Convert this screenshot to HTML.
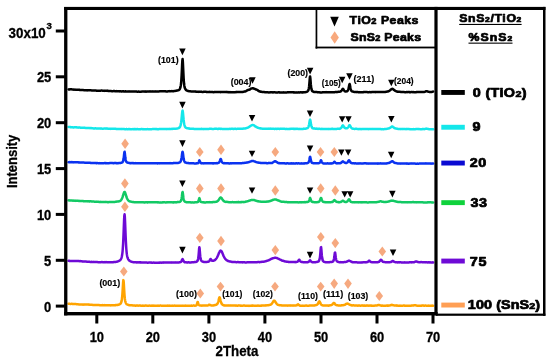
<!DOCTYPE html>
<html lang="en"><head><meta charset="utf-8"><title>XRD patterns SnS2/TiO2</title>
<style>html,body{margin:0;padding:0;background:#fff}svg{display:block}text{font-family:"Liberation Sans",Arial,sans-serif;font-weight:bold;fill:#000}.hv{stroke:#000;stroke-width:0.7px;stroke-linejoin:round}.tk{stroke:#000;stroke-width:0.3px}</style></head><body>
<svg width="550" height="362" viewBox="0 0 550 362" role="img" aria-label="XRD patterns">
<rect width="550" height="362" fill="#fff"/>
<g id="curves">
<path d="M68.60 89.40 L68.85 89.36 L69.10 89.40 L69.35 89.36 L69.60 89.39 L69.85 89.39 L70.10 89.35 L70.35 89.38 L70.60 89.34 L70.85 89.37 L71.10 89.34 L71.35 89.32 L71.60 89.35 L71.85 89.44 L72.10 89.41 L72.35 89.41 L72.60 89.46 L72.85 89.56 L73.10 89.59 L73.35 89.59 L73.60 89.68 L73.85 89.62 L74.10 89.69 L74.35 89.66 L74.60 89.62 L74.85 89.58 L75.10 89.58 L75.35 89.66 L75.60 89.63 L75.85 89.67 L76.10 89.71 L76.35 89.71 L76.60 89.74 L76.85 89.69 L77.10 89.65 L77.35 89.63 L77.60 89.70 L77.85 89.72 L78.10 89.72 L78.35 89.76 L78.60 89.78 L78.85 89.77 L79.10 89.84 L79.35 89.89 L79.60 89.86 L79.85 89.89 L80.10 89.91 L80.35 89.98 L80.60 90.02 L80.85 89.98 L81.10 90.06 L81.35 90.00 L81.60 90.00 L81.85 90.05 L82.10 90.00 L82.35 90.01 L82.60 89.95 L82.85 90.00 L83.10 90.06 L83.35 90.08 L83.60 90.15 L83.85 90.12 L84.10 90.15 L84.35 90.17 L84.60 90.19 L84.85 90.18 L85.10 90.23 L85.35 90.30 L85.60 90.28 L85.85 90.30 L86.10 90.23 L86.35 90.26 L86.60 90.29 L86.85 90.36 L87.10 90.40 L87.35 90.35 L87.60 90.33 L87.85 90.35 L88.10 90.28 L88.35 90.28 L88.60 90.25 L88.85 90.21 L89.10 90.17 L89.35 90.24 L89.60 90.21 L89.85 90.20 L90.10 90.22 L90.35 90.31 L90.60 90.26 L90.85 90.29 L91.10 90.32 L91.35 90.40 L91.60 90.46 L91.85 90.52 L92.10 90.49 L92.35 90.48 L92.60 90.47 L92.85 90.54 L93.10 90.61 L93.35 90.55 L93.60 90.50 L93.85 90.48 L94.10 90.46 L94.35 90.48 L94.60 90.51 L94.85 90.49 L95.10 90.44 L95.35 90.46 L95.60 90.47 L95.85 90.51 L96.10 90.61 L96.35 90.65 L96.60 90.66 L96.85 90.69 L97.10 90.72 L97.35 90.66 L97.60 90.73 L97.85 90.78 L98.10 90.83 L98.35 90.87 L98.60 90.84 L98.85 90.82 L99.10 90.76 L99.35 90.79 L99.60 90.73 L99.85 90.69 L100.10 90.67 L100.35 90.64 L100.60 90.65 L100.85 90.61 L101.10 90.57 L101.35 90.56 L101.60 90.55 L101.85 90.57 L102.10 90.55 L102.35 90.65 L102.60 90.71 L102.85 90.68 L103.10 90.68 L103.35 90.69 L103.60 90.70 L103.85 90.68 L104.10 90.76 L104.35 90.86 L104.60 90.87 L104.85 90.88 L105.10 90.82 L105.35 90.78 L105.60 90.78 L105.85 90.78 L106.10 90.85 L106.35 90.82 L106.60 90.77 L106.85 90.87 L107.10 90.89 L107.35 90.85 L107.60 90.88 L107.85 90.83 L108.10 90.86 L108.35 90.96 L108.60 91.02 L108.85 91.05 L109.10 91.01 L109.35 91.00 L109.60 90.95 L109.85 91.01 L110.10 91.02 L110.35 91.07 L110.60 91.04 L110.85 91.01 L111.10 91.06 L111.35 91.14 L111.60 91.18 L111.85 91.22 L112.10 91.25 L112.35 91.26 L112.60 91.20 L112.85 91.19 L113.10 91.16 L113.35 91.08 L113.60 91.02 L113.85 91.01 L114.10 90.99 L114.35 91.04 L114.60 91.13 L114.85 91.13 L115.10 91.20 L115.35 91.27 L115.60 91.32 L115.85 91.28 L116.10 91.23 L116.35 91.18 L116.60 91.14 L116.85 91.11 L117.10 91.14 L117.35 91.21 L117.60 91.27 L117.85 91.26 L118.10 91.28 L118.35 91.32 L118.60 91.24 L118.85 91.27 L119.10 91.33 L119.35 91.36 L119.60 91.39 L119.85 91.37 L120.10 91.31 L120.35 91.35 L120.60 91.31 L120.85 91.36 L121.10 91.42 L121.35 91.39 L121.60 91.36 L121.85 91.42 L122.10 91.44 L122.35 91.38 L122.60 91.32 L122.85 91.27 L123.10 91.34 L123.35 91.39 L123.60 91.33 L123.85 91.39 L124.10 91.46 L124.35 91.47 L124.60 91.43 L124.85 91.43 L125.10 91.37 L125.35 91.30 L125.60 91.39 L125.85 91.42 L126.10 91.42 L126.35 91.49 L126.60 91.47 L126.85 91.52 L127.10 91.56 L127.35 91.50 L127.60 91.45 L127.85 91.42 L128.10 91.39 L128.35 91.41 L128.60 91.39 L128.85 91.39 L129.10 91.35 L129.35 91.43 L129.60 91.42 L129.85 91.43 L130.10 91.45 L130.35 91.52 L130.60 91.51 L130.85 91.57 L131.10 91.57 L131.35 91.57 L131.60 91.57 L131.85 91.49 L132.10 91.49 L132.35 91.45 L132.60 91.40 L132.85 91.47 L133.10 91.43 L133.35 91.45 L133.60 91.51 L133.85 91.53 L134.10 91.51 L134.35 91.53 L134.60 91.55 L134.85 91.60 L135.10 91.54 L135.35 91.56 L135.60 91.52 L135.85 91.50 L136.10 91.55 L136.35 91.55 L136.60 91.56 L136.85 91.60 L137.10 91.66 L137.35 91.64 L137.60 91.64 L137.85 91.63 L138.10 91.62 L138.35 91.64 L138.60 91.62 L138.85 91.62 L139.10 91.61 L139.35 91.66 L139.60 91.68 L139.85 91.71 L140.10 91.76 L140.35 91.69 L140.60 91.68 L140.85 91.72 L141.10 91.75 L141.35 91.66 L141.60 91.59 L141.85 91.57 L142.10 91.50 L142.35 91.47 L142.60 91.41 L142.85 91.46 L143.10 91.51 L143.35 91.57 L143.60 91.52 L143.85 91.55 L144.10 91.57 L144.35 91.51 L144.60 91.57 L144.85 91.63 L145.10 91.57 L145.35 91.63 L145.60 91.60 L145.85 91.59 L146.10 91.65 L146.35 91.68 L146.60 91.60 L146.85 91.58 L147.10 91.57 L147.35 91.54 L147.60 91.49 L147.85 91.46 L148.10 91.50 L148.35 91.43 L148.60 91.45 L148.85 91.45 L149.10 91.38 L149.35 91.37 L149.60 91.41 L149.85 91.42 L150.10 91.37 L150.35 91.46 L150.60 91.51 L150.85 91.57 L151.10 91.50 L151.35 91.46 L151.60 91.40 L151.85 91.45 L152.10 91.42 L152.35 91.37 L152.60 91.38 L152.85 91.45 L153.10 91.50 L153.35 91.46 L153.60 91.41 L153.85 91.48 L154.10 91.49 L154.35 91.51 L154.60 91.44 L154.85 91.38 L155.10 91.42 L155.35 91.41 L155.60 91.35 L155.85 91.43 L156.10 91.46 L156.35 91.50 L156.60 91.43 L156.85 91.48 L157.10 91.41 L157.35 91.47 L157.60 91.46 L157.85 91.43 L158.10 91.44 L158.35 91.50 L158.60 91.46 L158.85 91.40 L159.10 91.40 L159.35 91.37 L159.60 91.32 L159.85 91.28 L160.10 91.23 L160.35 91.21 L160.60 91.22 L160.85 91.21 L161.10 91.28 L161.35 91.27 L161.60 91.29 L161.85 91.26 L162.10 91.25 L162.35 91.20 L162.60 91.19 L162.85 91.15 L163.10 91.22 L163.35 91.25 L163.60 91.22 L163.85 91.24 L164.10 91.32 L164.35 91.27 L164.60 91.33 L164.85 91.33 L165.10 91.33 L165.35 91.38 L165.60 91.36 L165.85 91.36 L166.10 91.38 L166.35 91.45 L166.60 91.41 L166.85 91.45 L167.10 91.46 L167.35 91.46 L167.60 91.42 L167.85 91.38 L168.10 91.30 L168.35 91.24 L168.60 91.19 L168.85 91.24 L169.10 91.21 L169.35 91.16 L169.60 91.12 L169.85 91.19 L170.10 91.25 L170.35 91.27 L170.60 91.23 L170.85 91.19 L171.10 91.16 L171.35 91.16 L171.60 91.11 L171.85 91.11 L172.10 91.08 L172.35 91.16 L172.60 91.23 L172.85 91.22 L173.10 91.16 L173.35 91.22 L173.60 91.16 L173.85 91.12 L174.10 91.03 L174.35 91.00 L174.60 90.99 L174.85 90.98 L175.10 90.92 L175.35 90.92 L175.60 90.83 L175.85 90.79 L176.10 90.72 L176.35 90.70 L176.60 90.62 L176.85 90.53 L177.10 90.49 L177.35 90.43 L177.60 90.41 L177.85 90.36 L178.10 90.33 L178.35 90.25 L178.60 90.16 L178.85 90.06 L179.10 89.84 L179.35 89.56 L179.60 89.33 L179.85 88.88 L180.10 88.39 L180.35 87.69 L180.60 86.59 L180.85 85.15 L181.10 83.02 L181.35 79.95 L181.60 75.84 L181.85 70.70 L182.10 65.00 L182.35 60.42 L182.60 59.06 L182.85 61.80 L183.10 67.02 L183.35 72.64 L183.60 77.48 L183.85 81.28 L184.10 84.03 L184.35 85.96 L184.60 87.21 L184.85 88.04 L185.10 88.63 L185.35 89.09 L185.60 89.41 L185.85 89.76 L186.10 90.01 L186.35 90.23 L186.60 90.41 L186.85 90.57 L187.10 90.68 L187.35 90.70 L187.60 90.84 L187.85 90.95 L188.10 91.02 L188.35 91.08 L188.60 91.15 L188.85 91.12 L189.10 91.20 L189.35 91.20 L189.60 91.18 L189.85 91.19 L190.10 91.27 L190.35 91.26 L190.60 91.33 L190.85 91.44 L191.10 91.45 L191.35 91.45 L191.60 91.46 L191.85 91.51 L192.10 91.56 L192.35 91.59 L192.60 91.61 L192.85 91.55 L193.10 91.51 L193.35 91.49 L193.60 91.56 L193.85 91.54 L194.10 91.57 L194.35 91.52 L194.60 91.48 L194.85 91.48 L195.10 91.54 L195.35 91.59 L195.60 91.64 L195.85 91.62 L196.10 91.64 L196.35 91.65 L196.60 91.66 L196.85 91.62 L197.10 91.70 L197.35 91.67 L197.60 91.76 L197.85 91.83 L198.10 91.75 L198.35 91.75 L198.60 91.81 L198.85 91.88 L199.10 91.87 L199.35 91.83 L199.60 91.79 L199.85 91.86 L200.10 91.82 L200.35 91.83 L200.60 91.78 L200.85 91.79 L201.10 91.87 L201.35 91.82 L201.60 91.87 L201.85 91.87 L202.10 91.93 L202.35 91.95 L202.60 91.90 L202.85 91.96 L203.10 91.95 L203.35 91.87 L203.60 91.80 L203.85 91.81 L204.10 91.82 L204.35 91.80 L204.60 91.76 L204.85 91.76 L205.10 91.76 L205.35 91.83 L205.60 91.77 L205.85 91.83 L206.10 91.90 L206.35 91.85 L206.60 91.92 L206.85 91.96 L207.10 92.02 L207.35 91.97 L207.60 91.95 L207.85 91.94 L208.10 92.01 L208.35 92.02 L208.60 91.99 L208.85 91.97 L209.10 91.94 L209.35 91.88 L209.60 91.83 L209.85 91.90 L210.10 91.88 L210.35 91.96 L210.60 91.93 L210.85 91.90 L211.10 91.92 L211.35 91.88 L211.60 91.88 L211.85 91.97 L212.10 92.03 L212.35 92.07 L212.60 92.08 L212.85 92.14 L213.10 92.18 L213.35 92.17 L213.60 92.18 L213.85 92.09 L214.10 92.11 L214.35 92.09 L214.60 92.12 L214.85 92.13 L215.10 92.09 L215.35 92.01 L215.60 92.08 L215.85 92.02 L216.10 92.02 L216.35 92.00 L216.60 91.98 L216.85 92.03 L217.10 92.10 L217.35 92.06 L217.60 92.08 L217.85 92.05 L218.10 92.06 L218.35 92.05 L218.60 92.00 L218.85 91.96 L219.10 91.94 L219.35 92.02 L219.60 92.03 L219.85 92.00 L220.10 92.07 L220.35 92.15 L220.60 92.13 L220.85 92.07 L221.10 92.03 L221.35 91.98 L221.60 91.97 L221.85 91.93 L222.10 91.92 L222.35 91.91 L222.60 91.95 L222.85 92.03 L223.10 92.08 L223.35 92.08 L223.60 92.07 L223.85 92.08 L224.10 92.07 L224.35 92.05 L224.60 92.00 L224.85 91.98 L225.10 92.08 L225.35 92.03 L225.60 92.05 L225.85 92.08 L226.10 92.14 L226.35 92.10 L226.60 92.07 L226.85 92.04 L227.10 92.04 L227.35 92.05 L227.60 92.13 L227.85 92.19 L228.10 92.24 L228.35 92.15 L228.60 92.08 L228.85 92.12 L229.10 92.19 L229.35 92.18 L229.60 92.19 L229.85 92.11 L230.10 92.10 L230.35 92.17 L230.60 92.22 L230.85 92.26 L231.10 92.32 L231.35 92.25 L231.60 92.18 L231.85 92.13 L232.10 92.13 L232.35 92.16 L232.60 92.23 L232.85 92.25 L233.10 92.26 L233.35 92.28 L233.60 92.26 L233.85 92.25 L234.10 92.16 L234.35 92.20 L234.60 92.15 L234.85 92.22 L235.10 92.23 L235.35 92.18 L235.60 92.12 L235.85 92.08 L236.10 92.11 L236.35 92.14 L236.60 92.08 L236.85 92.02 L237.10 92.04 L237.35 92.06 L237.60 92.05 L237.85 92.02 L238.10 92.04 L238.35 91.97 L238.60 91.96 L238.85 91.97 L239.10 92.05 L239.35 92.07 L239.60 92.12 L239.85 92.10 L240.10 92.05 L240.35 92.00 L240.60 92.07 L240.85 92.09 L241.10 92.04 L241.35 91.95 L241.60 91.94 L241.85 91.96 L242.10 91.93 L242.35 91.88 L242.60 91.89 L242.85 91.94 L243.10 91.86 L243.35 91.77 L243.60 91.72 L243.85 91.69 L244.10 91.69 L244.35 91.60 L244.60 91.61 L244.85 91.59 L245.10 91.52 L245.35 91.39 L245.60 91.37 L245.85 91.23 L246.10 91.14 L246.35 90.94 L246.60 90.72 L246.85 90.58 L247.10 90.35 L247.35 90.25 L247.60 90.12 L247.85 89.98 L248.10 89.90 L248.35 89.87 L248.60 89.87 L248.85 89.89 L249.10 89.76 L249.35 89.65 L249.60 89.50 L249.85 89.45 L250.10 89.25 L250.35 89.04 L250.60 88.84 L250.85 88.69 L251.10 88.63 L251.35 88.57 L251.60 88.49 L251.85 88.46 L252.10 88.43 L252.35 88.34 L252.60 88.26 L252.85 88.33 L253.10 88.39 L253.35 88.37 L253.60 88.48 L253.85 88.56 L254.10 88.66 L254.35 88.77 L254.60 88.86 L254.85 88.93 L255.10 89.05 L255.35 89.17 L255.60 89.37 L255.85 89.41 L256.10 89.56 L256.35 89.57 L256.60 89.60 L256.85 89.73 L257.10 89.88 L257.35 90.02 L257.60 90.14 L257.85 90.36 L258.10 90.55 L258.35 90.81 L258.60 90.94 L258.85 91.07 L259.10 91.26 L259.35 91.30 L259.60 91.39 L259.85 91.53 L260.10 91.64 L260.35 91.63 L260.60 91.62 L260.85 91.62 L261.10 91.75 L261.35 91.76 L261.60 91.85 L261.85 91.95 L262.10 91.95 L262.35 91.95 L262.60 92.05 L262.85 92.08 L263.10 92.06 L263.35 92.11 L263.60 92.10 L263.85 92.08 L264.10 92.03 L264.35 92.09 L264.60 92.18 L264.85 92.21 L265.10 92.28 L265.35 92.20 L265.60 92.17 L265.85 92.18 L266.10 92.27 L266.35 92.34 L266.60 92.31 L266.85 92.27 L267.10 92.27 L267.35 92.27 L267.60 92.34 L267.85 92.29 L268.10 92.34 L268.35 92.37 L268.60 92.42 L268.85 92.44 L269.10 92.44 L269.35 92.40 L269.60 92.37 L269.85 92.34 L270.10 92.39 L270.35 92.32 L270.60 92.28 L270.85 92.33 L271.10 92.30 L271.35 92.24 L271.60 92.19 L271.85 92.23 L272.10 92.22 L272.35 92.32 L272.60 92.39 L272.85 92.46 L273.10 92.41 L273.35 92.35 L273.60 92.29 L273.85 92.31 L274.10 92.35 L274.35 92.35 L274.60 92.32 L274.85 92.32 L275.10 92.35 L275.35 92.38 L275.60 92.42 L275.85 92.47 L276.10 92.49 L276.35 92.42 L276.60 92.47 L276.85 92.43 L277.10 92.44 L277.35 92.41 L277.60 92.45 L277.85 92.40 L278.10 92.36 L278.35 92.33 L278.60 92.29 L278.85 92.37 L279.10 92.39 L279.35 92.37 L279.60 92.36 L279.85 92.44 L280.10 92.44 L280.35 92.40 L280.60 92.45 L280.85 92.47 L281.10 92.54 L281.35 92.46 L281.60 92.45 L281.85 92.50 L282.10 92.54 L282.35 92.58 L282.60 92.49 L282.85 92.45 L283.10 92.39 L283.35 92.35 L283.60 92.44 L283.85 92.45 L284.10 92.51 L284.35 92.48 L284.60 92.53 L284.85 92.51 L285.10 92.46 L285.35 92.50 L285.60 92.56 L285.85 92.48 L286.10 92.49 L286.35 92.50 L286.60 92.45 L286.85 92.43 L287.10 92.37 L287.35 92.34 L287.60 92.32 L287.85 92.35 L288.10 92.39 L288.35 92.35 L288.60 92.29 L288.85 92.29 L289.10 92.34 L289.35 92.30 L289.60 92.30 L289.85 92.27 L290.10 92.34 L290.35 92.36 L290.60 92.31 L290.85 92.27 L291.10 92.28 L291.35 92.31 L291.60 92.35 L291.85 92.30 L292.10 92.27 L292.35 92.33 L292.60 92.33 L292.85 92.31 L293.10 92.30 L293.35 92.39 L293.60 92.37 L293.85 92.39 L294.10 92.37 L294.35 92.37 L294.60 92.43 L294.85 92.51 L295.10 92.47 L295.35 92.42 L295.60 92.46 L295.85 92.41 L296.10 92.34 L296.35 92.41 L296.60 92.40 L296.85 92.45 L297.10 92.43 L297.35 92.49 L297.60 92.47 L297.85 92.41 L298.10 92.34 L298.35 92.35 L298.60 92.38 L298.85 92.45 L299.10 92.38 L299.35 92.40 L299.60 92.38 L299.85 92.38 L300.10 92.32 L300.35 92.30 L300.60 92.31 L300.85 92.38 L301.10 92.32 L301.35 92.32 L301.60 92.36 L301.85 92.43 L302.10 92.36 L302.35 92.29 L302.60 92.36 L302.85 92.41 L303.10 92.39 L303.35 92.29 L303.60 92.34 L303.85 92.30 L304.10 92.34 L304.35 92.33 L304.60 92.34 L304.85 92.25 L305.10 92.25 L305.35 92.16 L305.60 92.11 L305.85 92.11 L306.10 92.10 L306.35 91.98 L306.60 91.86 L306.85 91.76 L307.10 91.65 L307.35 91.50 L307.60 91.27 L307.85 91.00 L308.10 90.71 L308.35 90.28 L308.60 89.42 L308.85 88.21 L309.10 86.40 L309.35 83.71 L309.60 80.54 L309.85 77.47 L310.10 76.40 L310.35 78.12 L310.60 81.34 L310.85 84.43 L311.10 86.85 L311.35 88.56 L311.60 89.66 L311.85 90.39 L312.10 90.83 L312.35 91.13 L312.60 91.28 L312.85 91.48 L313.10 91.61 L313.35 91.68 L313.60 91.81 L313.85 91.92 L314.10 91.97 L314.35 91.97 L314.60 92.01 L314.85 91.99 L315.10 91.97 L315.35 92.00 L315.60 91.98 L315.85 92.02 L316.10 92.06 L316.35 92.02 L316.60 92.08 L316.85 92.04 L317.10 92.11 L317.35 92.18 L317.60 92.20 L317.85 92.14 L318.10 92.17 L318.35 92.17 L318.60 92.25 L318.85 92.20 L319.10 92.27 L319.35 92.35 L319.60 92.37 L319.85 92.41 L320.10 92.34 L320.35 92.41 L320.60 92.39 L320.85 92.44 L321.10 92.48 L321.35 92.40 L321.60 92.43 L321.85 92.47 L322.10 92.38 L322.35 92.34 L322.60 92.37 L322.85 92.31 L323.10 92.37 L323.35 92.32 L323.60 92.36 L323.85 92.30 L324.10 92.30 L324.35 92.36 L324.60 92.30 L324.85 92.26 L325.10 92.27 L325.35 92.24 L325.60 92.18 L325.85 92.14 L326.10 92.11 L326.35 92.20 L326.60 92.24 L326.85 92.30 L327.10 92.25 L327.35 92.29 L327.60 92.23 L327.85 92.24 L328.10 92.26 L328.35 92.24 L328.60 92.30 L328.85 92.30 L329.10 92.30 L329.35 92.35 L329.60 92.28 L329.85 92.35 L330.10 92.35 L330.35 92.32 L330.60 92.35 L330.85 92.30 L331.10 92.36 L331.35 92.35 L331.60 92.31 L331.85 92.34 L332.10 92.31 L332.35 92.25 L332.60 92.28 L332.85 92.20 L333.10 92.25 L333.35 92.20 L333.60 92.22 L333.85 92.29 L334.10 92.28 L334.35 92.29 L334.60 92.24 L334.85 92.16 L335.10 92.08 L335.35 92.04 L335.60 92.07 L335.85 92.07 L336.10 92.08 L336.35 92.14 L336.60 92.08 L336.85 92.03 L337.10 92.06 L337.35 91.98 L337.60 91.91 L337.85 91.90 L338.10 91.85 L338.35 91.84 L338.60 91.81 L338.85 91.83 L339.10 91.83 L339.35 91.77 L339.60 91.77 L339.85 91.73 L340.10 91.61 L340.35 91.61 L340.60 91.45 L340.85 91.25 L341.10 91.00 L341.35 90.78 L341.60 90.53 L341.85 90.20 L342.10 89.76 L342.35 89.32 L342.60 88.93 L342.85 88.84 L343.10 88.96 L343.35 89.23 L343.60 89.65 L343.85 90.05 L344.10 90.48 L344.35 90.82 L344.60 91.01 L344.85 91.26 L345.10 91.31 L345.35 91.41 L345.60 91.45 L345.85 91.44 L346.10 91.38 L346.35 91.42 L346.60 91.31 L346.85 91.27 L347.10 91.25 L347.35 91.04 L347.60 90.78 L347.85 90.47 L348.10 89.98 L348.35 89.29 L348.60 88.36 L348.85 87.07 L349.10 85.67 L349.35 84.47 L349.60 83.98 L349.85 84.61 L350.10 85.90 L350.35 87.31 L350.60 88.46 L350.85 89.47 L351.10 90.21 L351.35 90.69 L351.60 91.06 L351.85 91.28 L352.10 91.40 L352.35 91.46 L352.60 91.53 L352.85 91.54 L353.10 91.60 L353.35 91.71 L353.60 91.79 L353.85 91.89 L354.10 91.94 L354.35 91.93 L354.60 91.96 L354.85 91.97 L355.10 92.02 L355.35 92.04 L355.60 92.01 L355.85 92.04 L356.10 92.12 L356.35 92.07 L356.60 92.13 L356.85 92.05 L357.10 92.02 L357.35 92.00 L357.60 92.05 L357.85 92.12 L358.10 92.16 L358.35 92.13 L358.60 92.18 L358.85 92.14 L359.10 92.10 L359.35 92.16 L359.60 92.18 L359.85 92.20 L360.10 92.21 L360.35 92.27 L360.60 92.24 L360.85 92.27 L361.10 92.28 L361.35 92.31 L361.60 92.27 L361.85 92.29 L362.10 92.27 L362.35 92.22 L362.60 92.16 L362.85 92.18 L363.10 92.11 L363.35 92.17 L363.60 92.11 L363.85 92.04 L364.10 92.00 L364.35 92.08 L364.60 92.06 L364.85 92.02 L365.10 91.97 L365.35 91.92 L365.60 91.98 L365.85 92.02 L366.10 92.07 L366.35 92.11 L366.60 92.05 L366.85 92.07 L367.10 92.06 L367.35 92.12 L367.60 92.17 L367.85 92.22 L368.10 92.14 L368.35 92.19 L368.60 92.24 L368.85 92.29 L369.10 92.21 L369.35 92.15 L369.60 92.09 L369.85 92.02 L370.10 92.09 L370.35 92.14 L370.60 92.16 L370.85 92.20 L371.10 92.21 L371.35 92.16 L371.60 92.09 L371.85 92.04 L372.10 92.09 L372.35 92.05 L372.60 92.03 L372.85 92.03 L373.10 91.97 L373.35 91.95 L373.60 91.94 L373.85 92.00 L374.10 92.00 L374.35 91.98 L374.60 92.07 L374.85 92.08 L375.10 92.13 L375.35 92.14 L375.60 92.07 L375.85 92.06 L376.10 92.05 L376.35 92.10 L376.60 92.07 L376.85 92.10 L377.10 92.11 L377.35 92.06 L377.60 92.12 L377.85 92.05 L378.10 92.10 L378.35 92.04 L378.60 91.97 L378.85 91.94 L379.10 92.00 L379.35 92.08 L379.60 92.00 L379.85 92.00 L380.10 92.00 L380.35 92.05 L380.60 92.00 L380.85 92.00 L381.10 91.98 L381.35 92.03 L381.60 91.99 L381.85 92.06 L382.10 92.01 L382.35 91.97 L382.60 91.99 L382.85 91.99 L383.10 91.92 L383.35 91.94 L383.60 91.88 L383.85 91.92 L384.10 91.95 L384.35 91.98 L384.60 91.98 L384.85 91.93 L385.10 91.90 L385.35 91.86 L385.60 91.90 L385.85 91.81 L386.10 91.84 L386.35 91.74 L386.60 91.66 L386.85 91.60 L387.10 91.63 L387.35 91.58 L387.60 91.51 L387.85 91.50 L388.10 91.38 L388.35 91.29 L388.60 91.19 L388.85 91.11 L389.10 91.01 L389.35 90.87 L389.60 90.67 L389.85 90.45 L390.10 90.20 L390.35 90.04 L390.60 89.84 L390.85 89.65 L391.10 89.38 L391.35 89.17 L391.60 89.05 L391.85 88.94 L392.10 88.82 L392.35 88.83 L392.60 88.97 L392.85 89.05 L393.10 89.18 L393.35 89.36 L393.60 89.62 L393.85 89.90 L394.10 90.06 L394.35 90.23 L394.60 90.39 L394.85 90.56 L395.10 90.75 L395.35 90.86 L395.60 90.98 L395.85 91.07 L396.10 91.26 L396.35 91.39 L396.60 91.41 L396.85 91.56 L397.10 91.55 L397.35 91.59 L397.60 91.72 L397.85 91.80 L398.10 91.85 L398.35 91.86 L398.60 91.83 L398.85 91.87 L399.10 91.83 L399.35 91.80 L399.60 91.81 L399.85 91.77 L400.10 91.79 L400.35 91.86 L400.60 91.91 L400.85 91.93 L401.10 91.96 L401.35 91.96 L401.60 91.92 L401.85 91.95 L402.10 91.95 L402.35 92.00 L402.60 92.06 L402.85 92.05 L403.10 92.06 L403.35 92.09 L403.60 92.07 L403.85 92.03 L404.10 92.07 L404.35 92.12 L404.60 92.15 L404.85 92.17 L405.10 92.20 L405.35 92.21 L405.60 92.21 L405.85 92.18 L406.10 92.13 L406.35 92.14 L406.60 92.07 L406.85 92.06 L407.10 92.10 L407.35 92.13 L407.60 92.14 L407.85 92.09 L408.10 92.08 L408.35 92.07 L408.60 92.09 L408.85 92.07 L409.10 92.10 L409.35 92.16 L409.60 92.10 L409.85 92.12 L410.10 92.16 L410.35 92.13 L410.60 92.12 L410.85 92.18 L411.10 92.10 L411.35 92.10 L411.60 92.05 L411.85 92.09 L412.10 92.16 L412.35 92.15 L412.60 92.08 L412.85 92.09 L413.10 92.10 L413.35 92.13 L413.60 92.12 L413.85 92.14 L414.10 92.18 L414.35 92.16 L414.60 92.14 L414.85 92.20 L415.10 92.14 L415.35 92.15 L415.60 92.13 L415.85 92.16 L416.10 92.09 L416.35 92.16 L416.60 92.13 L416.85 92.05 L417.10 92.02 L417.35 92.01 L417.60 91.95 L417.85 91.96 L418.10 91.96 L418.35 92.01 L418.60 91.99 L418.85 91.97 L419.10 91.94 L419.35 91.99 L419.60 92.07 L419.85 92.07 L420.10 92.03 L420.35 92.08 L420.60 92.05 L420.85 92.01 L421.10 91.96 L421.35 92.01 L421.60 92.06 L421.85 92.07 L422.10 92.06 L422.35 92.05 L422.60 92.00 L422.85 92.06 L423.10 92.02 L423.35 92.03 L423.60 92.05 L423.85 92.06 L424.10 92.00 L424.35 91.91 L424.60 91.86 L424.85 91.72 L425.10 91.68 L425.35 91.55 L425.60 91.48 L425.85 91.32 L426.10 91.21 L426.35 91.14 L426.60 91.16 L426.85 91.20 L427.10 91.24 L427.35 91.42 L427.60 91.50 L427.85 91.57 L428.10 91.63 L428.35 91.71 L428.60 91.76 L428.85 91.83 L429.10 91.89 L429.35 91.89 L429.60 91.97 L429.85 92.03 L430.10 91.96 L430.35 92.01 L430.60 92.06 L430.85 92.08 L431.10 92.00 L431.35 92.03 L431.60 92.02 L431.85 91.90 L432.10 91.79 L432.35 91.82 L432.60 91.78 L432.85 91.66 L433.10 91.50" fill="none" stroke="#000000" stroke-width="2.5" stroke-linejoin="round" stroke-linecap="round"/>
<path d="M68.60 126.97 L68.85 126.95 L69.10 127.02 L69.35 127.02 L69.60 126.98 L69.85 127.07 L70.10 127.13 L70.35 127.09 L70.60 127.16 L70.85 127.19 L71.10 127.23 L71.35 127.26 L71.60 127.32 L71.85 127.35 L72.10 127.39 L72.35 127.33 L72.60 127.35 L72.85 127.35 L73.10 127.38 L73.35 127.37 L73.60 127.42 L73.85 127.42 L74.10 127.38 L74.35 127.34 L74.60 127.29 L74.85 127.31 L75.10 127.26 L75.35 127.28 L75.60 127.25 L75.85 127.28 L76.10 127.31 L76.35 127.34 L76.60 127.42 L76.85 127.36 L77.10 127.44 L77.35 127.45 L77.60 127.47 L77.85 127.51 L78.10 127.57 L78.35 127.55 L78.60 127.55 L78.85 127.63 L79.10 127.56 L79.35 127.59 L79.60 127.62 L79.85 127.56 L80.10 127.59 L80.35 127.63 L80.60 127.71 L80.85 127.68 L81.10 127.76 L81.35 127.76 L81.60 127.75 L81.85 127.81 L82.10 127.74 L82.35 127.78 L82.60 127.80 L82.85 127.78 L83.10 127.84 L83.35 127.82 L83.60 127.82 L83.85 127.83 L84.10 127.88 L84.35 127.83 L84.60 127.83 L84.85 127.83 L85.10 127.85 L85.35 127.92 L85.60 127.89 L85.85 127.95 L86.10 127.94 L86.35 127.95 L86.60 127.92 L86.85 127.93 L87.10 128.02 L87.35 128.04 L87.60 128.09 L87.85 128.06 L88.10 128.03 L88.35 128.01 L88.60 128.04 L88.85 128.07 L89.10 128.12 L89.35 128.05 L89.60 128.10 L89.85 128.17 L90.10 128.17 L90.35 128.11 L90.60 128.09 L90.85 128.04 L91.10 128.02 L91.35 128.11 L91.60 128.15 L91.85 128.19 L92.10 128.25 L92.35 128.31 L92.60 128.33 L92.85 128.34 L93.10 128.36 L93.35 128.38 L93.60 128.39 L93.85 128.41 L94.10 128.37 L94.35 128.39 L94.60 128.39 L94.85 128.43 L95.10 128.37 L95.35 128.33 L95.60 128.28 L95.85 128.35 L96.10 128.43 L96.35 128.46 L96.60 128.45 L96.85 128.50 L97.10 128.55 L97.35 128.56 L97.60 128.52 L97.85 128.49 L98.10 128.49 L98.35 128.48 L98.60 128.49 L98.85 128.53 L99.10 128.61 L99.35 128.54 L99.60 128.57 L99.85 128.51 L100.10 128.48 L100.35 128.55 L100.60 128.57 L100.85 128.64 L101.10 128.63 L101.35 128.56 L101.60 128.56 L101.85 128.59 L102.10 128.66 L102.35 128.73 L102.60 128.72 L102.85 128.70 L103.10 128.64 L103.35 128.66 L103.60 128.62 L103.85 128.58 L104.10 128.52 L104.35 128.47 L104.60 128.54 L104.85 128.50 L105.10 128.60 L105.35 128.56 L105.60 128.64 L105.85 128.59 L106.10 128.54 L106.35 128.60 L106.60 128.58 L106.85 128.64 L107.10 128.61 L107.35 128.56 L107.60 128.63 L107.85 128.68 L108.10 128.75 L108.35 128.78 L108.60 128.72 L108.85 128.75 L109.10 128.78 L109.35 128.78 L109.60 128.84 L109.85 128.80 L110.10 128.87 L110.35 128.89 L110.60 128.80 L110.85 128.73 L111.10 128.76 L111.35 128.82 L111.60 128.76 L111.85 128.74 L112.10 128.78 L112.35 128.74 L112.60 128.81 L112.85 128.81 L113.10 128.75 L113.35 128.75 L113.60 128.77 L113.85 128.78 L114.10 128.81 L114.35 128.77 L114.60 128.83 L114.85 128.81 L115.10 128.85 L115.35 128.87 L115.60 128.86 L115.85 128.85 L116.10 128.90 L116.35 128.96 L116.60 129.00 L116.85 128.99 L117.10 128.95 L117.35 128.88 L117.60 128.96 L117.85 128.98 L118.10 129.02 L118.35 128.98 L118.60 128.99 L118.85 129.06 L119.10 129.09 L119.35 129.08 L119.60 129.04 L119.85 129.01 L120.10 129.06 L120.35 129.03 L120.60 129.05 L120.85 129.05 L121.10 129.10 L121.35 129.13 L121.60 129.08 L121.85 128.99 L122.10 128.95 L122.35 128.95 L122.60 128.97 L122.85 129.02 L123.10 129.08 L123.35 129.00 L123.60 129.05 L123.85 129.10 L124.10 129.14 L124.35 129.14 L124.60 129.09 L124.85 129.13 L125.10 129.17 L125.35 129.18 L125.60 129.22 L125.85 129.17 L126.10 129.09 L126.35 129.10 L126.60 129.14 L126.85 129.09 L127.10 129.12 L127.35 129.18 L127.60 129.13 L127.85 129.14 L128.10 129.16 L128.35 129.15 L128.60 129.10 L128.85 129.06 L129.10 129.11 L129.35 129.15 L129.60 129.14 L129.85 129.08 L130.10 129.13 L130.35 129.17 L130.60 129.13 L130.85 129.14 L131.10 129.20 L131.35 129.25 L131.60 129.24 L131.85 129.23 L132.10 129.23 L132.35 129.17 L132.60 129.13 L132.85 129.09 L133.10 129.13 L133.35 129.12 L133.60 129.14 L133.85 129.13 L134.10 129.15 L134.35 129.10 L134.60 129.05 L134.85 129.15 L135.10 129.14 L135.35 129.08 L135.60 129.12 L135.85 129.17 L136.10 129.12 L136.35 129.15 L136.60 129.13 L136.85 129.14 L137.10 129.07 L137.35 129.02 L137.60 129.11 L137.85 129.18 L138.10 129.18 L138.35 129.19 L138.60 129.15 L138.85 129.19 L139.10 129.18 L139.35 129.24 L139.60 129.27 L139.85 129.31 L140.10 129.35 L140.35 129.29 L140.60 129.20 L140.85 129.15 L141.10 129.10 L141.35 129.05 L141.60 129.00 L141.85 129.03 L142.10 129.11 L142.35 129.11 L142.60 129.18 L142.85 129.24 L143.10 129.16 L143.35 129.18 L143.60 129.16 L143.85 129.10 L144.10 129.18 L144.35 129.14 L144.60 129.15 L144.85 129.17 L145.10 129.23 L145.35 129.25 L145.60 129.22 L145.85 129.20 L146.10 129.14 L146.35 129.21 L146.60 129.27 L146.85 129.21 L147.10 129.13 L147.35 129.10 L147.60 129.08 L147.85 129.15 L148.10 129.21 L148.35 129.25 L148.60 129.16 L148.85 129.20 L149.10 129.22 L149.35 129.23 L149.60 129.29 L149.85 129.20 L150.10 129.13 L150.35 129.17 L150.60 129.23 L150.85 129.24 L151.10 129.19 L151.35 129.20 L151.60 129.22 L151.85 129.15 L152.10 129.12 L152.35 129.08 L152.60 129.03 L152.85 129.04 L153.10 129.00 L153.35 128.98 L153.60 128.95 L153.85 129.00 L154.10 128.94 L154.35 129.00 L154.60 128.97 L154.85 128.92 L155.10 129.01 L155.35 128.98 L155.60 129.07 L155.85 129.13 L156.10 129.18 L156.35 129.12 L156.60 129.10 L156.85 129.04 L157.10 129.12 L157.35 129.16 L157.60 129.17 L157.85 129.15 L158.10 129.12 L158.35 129.16 L158.60 129.15 L158.85 129.16 L159.10 129.09 L159.35 129.05 L159.60 128.99 L159.85 129.03 L160.10 129.05 L160.35 129.00 L160.60 129.07 L160.85 129.03 L161.10 129.02 L161.35 128.98 L161.60 128.96 L161.85 129.02 L162.10 129.01 L162.35 128.96 L162.60 128.98 L162.85 128.96 L163.10 129.04 L163.35 128.98 L163.60 129.06 L163.85 128.99 L164.10 129.06 L164.35 129.08 L164.60 129.03 L164.85 129.03 L165.10 129.00 L165.35 128.97 L165.60 128.93 L165.85 128.93 L166.10 129.02 L166.35 129.09 L166.60 129.14 L166.85 129.06 L167.10 129.02 L167.35 129.08 L167.60 129.00 L167.85 129.04 L168.10 129.00 L168.35 129.07 L168.60 128.98 L168.85 129.03 L169.10 129.00 L169.35 128.94 L169.60 128.87 L169.85 128.93 L170.10 128.94 L170.35 128.89 L170.60 128.89 L170.85 128.96 L171.10 128.91 L171.35 128.92 L171.60 128.87 L171.85 128.82 L172.10 128.87 L172.35 128.91 L172.60 128.86 L172.85 128.79 L173.10 128.74 L173.35 128.77 L173.60 128.77 L173.85 128.74 L174.10 128.70 L174.35 128.73 L174.60 128.76 L174.85 128.80 L175.10 128.79 L175.35 128.72 L175.60 128.64 L175.85 128.67 L176.10 128.63 L176.35 128.64 L176.60 128.54 L176.85 128.56 L177.10 128.49 L177.35 128.50 L177.60 128.50 L177.85 128.42 L178.10 128.26 L178.35 128.23 L178.60 128.12 L178.85 128.04 L179.10 127.84 L179.35 127.60 L179.60 127.42 L179.85 127.08 L180.10 126.61 L180.35 126.03 L180.60 125.27 L180.85 124.12 L181.10 122.69 L181.35 120.80 L181.60 118.48 L181.85 115.74 L182.10 113.10 L182.35 111.14 L182.60 110.62 L182.85 111.73 L183.10 114.11 L183.35 116.83 L183.60 119.45 L183.85 121.56 L184.10 123.35 L184.35 124.73 L184.60 125.68 L184.85 126.37 L185.10 126.87 L185.35 127.23 L185.60 127.43 L185.85 127.72 L186.10 127.85 L186.35 127.94 L186.60 128.00 L186.85 128.08 L187.10 128.23 L187.35 128.24 L187.60 128.26 L187.85 128.36 L188.10 128.38 L188.35 128.37 L188.60 128.45 L188.85 128.51 L189.10 128.56 L189.35 128.63 L189.60 128.60 L189.85 128.69 L190.10 128.75 L190.35 128.69 L190.60 128.66 L190.85 128.69 L191.10 128.72 L191.35 128.71 L191.60 128.68 L191.85 128.69 L192.10 128.67 L192.35 128.71 L192.60 128.80 L192.85 128.76 L193.10 128.79 L193.35 128.84 L193.60 128.80 L193.85 128.87 L194.10 128.94 L194.35 128.92 L194.60 128.91 L194.85 128.96 L195.10 128.96 L195.35 128.94 L195.60 129.00 L195.85 129.03 L196.10 128.99 L196.35 128.94 L196.60 128.91 L196.85 128.91 L197.10 128.98 L197.35 129.02 L197.60 129.07 L197.85 129.10 L198.10 129.12 L198.35 129.03 L198.60 129.02 L198.85 129.07 L199.10 129.12 L199.35 129.05 L199.60 129.02 L199.85 129.03 L200.10 129.00 L200.35 128.99 L200.60 128.92 L200.85 128.91 L201.10 128.92 L201.35 128.85 L201.60 128.81 L201.85 128.90 L202.10 128.95 L202.35 129.01 L202.60 129.02 L202.85 129.06 L203.10 129.10 L203.35 129.13 L203.60 129.03 L203.85 129.04 L204.10 128.99 L204.35 129.01 L204.60 128.97 L204.85 128.97 L205.10 129.03 L205.35 129.03 L205.60 128.98 L205.85 128.98 L206.10 128.96 L206.35 129.03 L206.60 128.98 L206.85 128.95 L207.10 128.97 L207.35 128.91 L207.60 128.93 L207.85 129.00 L208.10 128.99 L208.35 128.95 L208.60 128.94 L208.85 128.95 L209.10 128.89 L209.35 128.84 L209.60 128.80 L209.85 128.79 L210.10 128.80 L210.35 128.79 L210.60 128.77 L210.85 128.73 L211.10 128.77 L211.35 128.85 L211.60 128.87 L211.85 128.89 L212.10 128.92 L212.35 128.88 L212.60 128.92 L212.85 128.91 L213.10 128.92 L213.35 128.94 L213.60 128.93 L213.85 128.91 L214.10 128.87 L214.35 128.84 L214.60 128.85 L214.85 128.85 L215.10 128.87 L215.35 128.80 L215.60 128.80 L215.85 128.87 L216.10 128.84 L216.35 128.86 L216.60 128.87 L216.85 128.84 L217.10 128.93 L217.35 128.90 L217.60 128.94 L217.85 128.89 L218.10 128.82 L218.35 128.89 L218.60 128.89 L218.85 128.83 L219.10 128.82 L219.35 128.83 L219.60 128.87 L219.85 128.82 L220.10 128.79 L220.35 128.88 L220.60 128.92 L220.85 128.86 L221.10 128.85 L221.35 128.83 L221.60 128.87 L221.85 128.89 L222.10 128.95 L222.35 128.99 L222.60 128.98 L222.85 129.00 L223.10 129.02 L223.35 129.04 L223.60 129.02 L223.85 129.04 L224.10 129.05 L224.35 129.09 L224.60 129.00 L224.85 129.04 L225.10 128.94 L225.35 128.97 L225.60 128.97 L225.85 128.96 L226.10 129.02 L226.35 129.01 L226.60 128.97 L226.85 129.00 L227.10 129.04 L227.35 129.03 L227.60 128.99 L227.85 128.96 L228.10 128.94 L228.35 128.96 L228.60 128.92 L228.85 128.89 L229.10 128.90 L229.35 128.87 L229.60 128.84 L229.85 128.89 L230.10 128.93 L230.35 128.92 L230.60 128.90 L230.85 128.85 L231.10 128.82 L231.35 128.77 L231.60 128.79 L231.85 128.81 L232.10 128.75 L232.35 128.82 L232.60 128.80 L232.85 128.85 L233.10 128.90 L233.35 128.95 L233.60 128.89 L233.85 128.87 L234.10 128.92 L234.35 128.83 L234.60 128.76 L234.85 128.77 L235.10 128.77 L235.35 128.84 L235.60 128.87 L235.85 128.86 L236.10 128.92 L236.35 128.90 L236.60 128.88 L236.85 128.89 L237.10 128.85 L237.35 128.82 L237.60 128.82 L237.85 128.78 L238.10 128.84 L238.35 128.85 L238.60 128.83 L238.85 128.75 L239.10 128.72 L239.35 128.70 L239.60 128.71 L239.85 128.71 L240.10 128.76 L240.35 128.81 L240.60 128.78 L240.85 128.75 L241.10 128.75 L241.35 128.80 L241.60 128.74 L241.85 128.72 L242.10 128.74 L242.35 128.66 L242.60 128.61 L242.85 128.66 L243.10 128.68 L243.35 128.64 L243.60 128.55 L243.85 128.58 L244.10 128.57 L244.35 128.58 L244.60 128.60 L244.85 128.60 L245.10 128.52 L245.35 128.40 L245.60 128.31 L245.85 128.26 L246.10 128.20 L246.35 128.09 L246.60 127.98 L246.85 127.93 L247.10 127.88 L247.35 127.77 L247.60 127.75 L247.85 127.67 L248.10 127.48 L248.35 127.35 L248.60 127.26 L248.85 127.09 L249.10 126.97 L249.35 126.74 L249.60 126.56 L249.85 126.45 L250.10 126.28 L250.35 126.13 L250.60 125.90 L250.85 125.73 L251.10 125.57 L251.35 125.38 L251.60 125.27 L251.85 125.16 L252.10 125.14 L252.35 125.09 L252.60 125.04 L252.85 125.00 L253.10 125.00 L253.35 125.13 L253.60 125.19 L253.85 125.28 L254.10 125.40 L254.35 125.60 L254.60 125.84 L254.85 126.05 L255.10 126.28 L255.35 126.39 L255.60 126.50 L255.85 126.73 L256.10 126.87 L256.35 127.06 L256.60 127.18 L256.85 127.27 L257.10 127.37 L257.35 127.44 L257.60 127.63 L257.85 127.75 L258.10 127.82 L258.35 127.90 L258.60 127.96 L258.85 127.97 L259.10 128.11 L259.35 128.18 L259.60 128.30 L259.85 128.33 L260.10 128.39 L260.35 128.38 L260.60 128.34 L260.85 128.45 L261.10 128.53 L261.35 128.52 L261.60 128.59 L261.85 128.65 L262.10 128.62 L262.35 128.65 L262.60 128.72 L262.85 128.72 L263.10 128.78 L263.35 128.73 L263.60 128.71 L263.85 128.75 L264.10 128.70 L264.35 128.68 L264.60 128.74 L264.85 128.74 L265.10 128.79 L265.35 128.74 L265.60 128.70 L265.85 128.69 L266.10 128.65 L266.35 128.74 L266.60 128.72 L266.85 128.74 L267.10 128.69 L267.35 128.71 L267.60 128.71 L267.85 128.71 L268.10 128.66 L268.35 128.62 L268.60 128.70 L268.85 128.70 L269.10 128.68 L269.35 128.65 L269.60 128.65 L269.85 128.63 L270.10 128.59 L270.35 128.65 L270.60 128.66 L270.85 128.63 L271.10 128.70 L271.35 128.66 L271.60 128.65 L271.85 128.73 L272.10 128.69 L272.35 128.71 L272.60 128.78 L272.85 128.84 L273.10 128.79 L273.35 128.78 L273.60 128.83 L273.85 128.81 L274.10 128.89 L274.35 128.84 L274.60 128.91 L274.85 128.91 L275.10 128.86 L275.35 128.86 L275.60 128.80 L275.85 128.85 L276.10 128.82 L276.35 128.89 L276.60 128.90 L276.85 128.88 L277.10 128.84 L277.35 128.86 L277.60 128.82 L277.85 128.89 L278.10 128.83 L278.35 128.84 L278.60 128.86 L278.85 128.83 L279.10 128.88 L279.35 128.86 L279.60 128.89 L279.85 128.90 L280.10 128.87 L280.35 128.86 L280.60 128.80 L280.85 128.77 L281.10 128.84 L281.35 128.83 L281.60 128.86 L281.85 128.81 L282.10 128.83 L282.35 128.82 L282.60 128.84 L282.85 128.82 L283.10 128.76 L283.35 128.76 L283.60 128.74 L283.85 128.71 L284.10 128.77 L284.35 128.76 L284.60 128.77 L284.85 128.85 L285.10 128.90 L285.35 128.96 L285.60 129.01 L285.85 128.94 L286.10 128.90 L286.35 128.83 L286.60 128.87 L286.85 128.90 L287.10 128.88 L287.35 128.88 L287.60 128.91 L287.85 128.94 L288.10 128.90 L288.35 128.95 L288.60 128.93 L288.85 128.94 L289.10 128.89 L289.35 128.84 L289.60 128.91 L289.85 128.95 L290.10 128.98 L290.35 128.90 L290.60 128.84 L290.85 128.80 L291.10 128.77 L291.35 128.76 L291.60 128.77 L291.85 128.72 L292.10 128.73 L292.35 128.78 L292.60 128.75 L292.85 128.83 L293.10 128.85 L293.35 128.89 L293.60 128.86 L293.85 128.86 L294.10 128.90 L294.35 128.88 L294.60 128.81 L294.85 128.88 L295.10 128.93 L295.35 128.89 L295.60 128.83 L295.85 128.89 L296.10 128.91 L296.35 128.85 L296.60 128.82 L296.85 128.77 L297.10 128.84 L297.35 128.81 L297.60 128.88 L297.85 128.93 L298.10 128.86 L298.35 128.90 L298.60 128.88 L298.85 128.92 L299.10 128.97 L299.35 128.92 L299.60 128.86 L299.85 128.93 L300.10 128.91 L300.35 128.97 L300.60 128.99 L300.85 129.00 L301.10 129.03 L301.35 129.03 L301.60 128.99 L301.85 128.91 L302.10 128.93 L302.35 128.90 L302.60 128.89 L302.85 128.94 L303.10 128.87 L303.35 128.89 L303.60 128.81 L303.85 128.83 L304.10 128.86 L304.35 128.80 L304.60 128.79 L304.85 128.84 L305.10 128.83 L305.35 128.79 L305.60 128.71 L305.85 128.61 L306.10 128.55 L306.35 128.50 L306.60 128.41 L306.85 128.32 L307.10 128.20 L307.35 128.14 L307.60 128.03 L307.85 127.79 L308.10 127.48 L308.35 127.07 L308.60 126.46 L308.85 125.67 L309.10 124.47 L309.35 122.97 L309.60 121.41 L309.85 120.00 L310.10 119.56 L310.35 120.26 L310.60 121.79 L310.85 123.41 L311.10 124.86 L311.35 125.90 L311.60 126.74 L311.85 127.31 L312.10 127.69 L312.35 128.00 L312.60 128.23 L312.85 128.29 L313.10 128.37 L313.35 128.43 L313.60 128.46 L313.85 128.46 L314.10 128.49 L314.35 128.50 L314.60 128.59 L314.85 128.63 L315.10 128.61 L315.35 128.63 L315.60 128.66 L315.85 128.68 L316.10 128.66 L316.35 128.64 L316.60 128.60 L316.85 128.72 L317.10 128.79 L317.35 128.75 L317.60 128.81 L317.85 128.90 L318.10 128.91 L318.35 128.86 L318.60 128.87 L318.85 128.87 L319.10 128.83 L319.35 128.86 L319.60 128.80 L319.85 128.88 L320.10 128.91 L320.35 128.94 L320.60 129.01 L320.85 129.02 L321.10 128.97 L321.35 128.93 L321.60 128.88 L321.85 128.82 L322.10 128.89 L322.35 128.95 L322.60 128.92 L322.85 128.88 L323.10 128.91 L323.35 128.97 L323.60 129.04 L323.85 128.98 L324.10 129.02 L324.35 129.06 L324.60 129.08 L324.85 129.04 L325.10 128.98 L325.35 129.03 L325.60 128.99 L325.85 128.97 L326.10 128.98 L326.35 128.96 L326.60 129.01 L326.85 128.97 L327.10 128.90 L327.35 128.92 L327.60 128.95 L327.85 129.00 L328.10 129.03 L328.35 129.08 L328.60 129.13 L328.85 129.10 L329.10 129.08 L329.35 129.02 L329.60 128.98 L329.85 128.99 L330.10 128.92 L330.35 128.96 L330.60 128.91 L330.85 128.91 L331.10 128.99 L331.35 128.92 L331.60 128.86 L331.85 128.87 L332.10 128.83 L332.35 128.88 L332.60 128.82 L332.85 128.89 L333.10 128.95 L333.35 128.99 L333.60 128.97 L333.85 128.94 L334.10 128.96 L334.35 128.96 L334.60 128.94 L334.85 128.91 L335.10 128.90 L335.35 128.93 L335.60 128.97 L335.85 129.02 L336.10 128.95 L336.35 128.91 L336.60 128.89 L336.85 128.89 L337.10 128.86 L337.35 128.80 L337.60 128.74 L337.85 128.72 L338.10 128.71 L338.35 128.78 L338.60 128.82 L338.85 128.85 L339.10 128.87 L339.35 128.88 L339.60 128.82 L339.85 128.78 L340.10 128.61 L340.35 128.52 L340.60 128.38 L340.85 128.16 L341.10 127.93 L341.35 127.69 L341.60 127.31 L341.85 126.89 L342.10 126.37 L342.35 125.88 L342.60 125.58 L342.85 125.35 L343.10 125.42 L343.35 125.78 L343.60 126.21 L343.85 126.61 L344.10 127.06 L344.35 127.40 L344.60 127.71 L344.85 127.92 L345.10 128.09 L345.35 128.22 L345.60 128.28 L345.85 128.27 L346.10 128.26 L346.35 128.33 L346.60 128.32 L346.85 128.22 L347.10 128.21 L347.35 128.05 L347.60 127.84 L347.85 127.63 L348.10 127.32 L348.35 126.97 L348.60 126.56 L348.85 126.06 L349.10 125.63 L349.35 125.25 L349.60 125.16 L349.85 125.34 L350.10 125.66 L350.35 126.14 L350.60 126.57 L350.85 127.03 L351.10 127.48 L351.35 127.80 L351.60 128.08 L351.85 128.30 L352.10 128.38 L352.35 128.56 L352.60 128.67 L352.85 128.66 L353.10 128.76 L353.35 128.77 L353.60 128.75 L353.85 128.85 L354.10 128.88 L354.35 128.93 L354.60 128.88 L354.85 128.94 L355.10 128.88 L355.35 128.85 L355.60 128.85 L355.85 128.80 L356.10 128.84 L356.35 128.82 L356.60 128.82 L356.85 128.88 L357.10 128.89 L357.35 128.96 L357.60 128.99 L357.85 129.05 L358.10 129.05 L358.35 129.11 L358.60 129.15 L358.85 129.08 L359.10 129.11 L359.35 129.07 L359.60 129.11 L359.85 129.12 L360.10 129.16 L360.35 129.08 L360.60 129.05 L360.85 129.09 L361.10 129.15 L361.35 129.16 L361.60 129.08 L361.85 129.09 L362.10 129.02 L362.35 129.03 L362.60 129.08 L362.85 129.01 L363.10 129.08 L363.35 129.10 L363.60 129.06 L363.85 129.01 L364.10 129.01 L364.35 129.07 L364.60 129.08 L364.85 129.01 L365.10 128.95 L365.35 128.91 L365.60 128.97 L365.85 128.94 L366.10 128.96 L366.35 128.95 L366.60 128.99 L366.85 128.98 L367.10 128.94 L367.35 129.01 L367.60 129.03 L367.85 129.06 L368.10 129.11 L368.35 129.17 L368.60 129.08 L368.85 129.05 L369.10 129.00 L369.35 129.01 L369.60 129.07 L369.85 129.12 L370.10 129.04 L370.35 129.00 L370.60 129.05 L370.85 129.08 L371.10 129.06 L371.35 129.06 L371.60 129.01 L371.85 129.07 L372.10 129.05 L372.35 129.11 L372.60 129.12 L372.85 129.05 L373.10 129.02 L373.35 128.99 L373.60 129.06 L373.85 129.07 L374.10 129.00 L374.35 128.96 L374.60 128.96 L374.85 128.97 L375.10 128.99 L375.35 128.99 L375.60 128.98 L375.85 128.92 L376.10 128.95 L376.35 128.94 L376.60 128.89 L376.85 128.91 L377.10 129.00 L377.35 128.94 L377.60 128.91 L377.85 128.95 L378.10 128.94 L378.35 128.92 L378.60 128.94 L378.85 128.92 L379.10 128.95 L379.35 128.97 L379.60 129.05 L379.85 129.12 L380.10 129.04 L380.35 129.05 L380.60 129.09 L380.85 129.14 L381.10 129.16 L381.35 129.16 L381.60 129.16 L381.85 129.12 L382.10 129.07 L382.35 129.11 L382.60 129.15 L382.85 129.19 L383.10 129.19 L383.35 129.13 L383.60 129.15 L383.85 129.16 L384.10 129.13 L384.35 129.12 L384.60 129.07 L384.85 129.06 L385.10 129.03 L385.35 128.94 L385.60 128.91 L385.85 128.88 L386.10 128.95 L386.35 128.92 L386.60 128.88 L386.85 128.83 L387.10 128.77 L387.35 128.73 L387.60 128.66 L387.85 128.57 L388.10 128.60 L388.35 128.56 L388.60 128.50 L388.85 128.44 L389.10 128.33 L389.35 128.19 L389.60 128.02 L389.85 127.87 L390.10 127.70 L390.35 127.58 L390.60 127.41 L390.85 127.28 L391.10 127.05 L391.35 126.92 L391.60 126.76 L391.85 126.56 L392.10 126.46 L392.35 126.49 L392.60 126.66 L392.85 126.78 L393.10 127.00 L393.35 127.19 L393.60 127.45 L393.85 127.58 L394.10 127.77 L394.35 128.00 L394.60 128.12 L394.85 128.22 L395.10 128.27 L395.35 128.33 L395.60 128.41 L395.85 128.53 L396.10 128.56 L396.35 128.62 L396.60 128.64 L396.85 128.71 L397.10 128.81 L397.35 128.87 L397.60 128.84 L397.85 128.91 L398.10 129.00 L398.35 129.02 L398.60 128.96 L398.85 129.02 L399.10 129.08 L399.35 129.05 L399.60 129.00 L399.85 128.96 L400.10 128.98 L400.35 129.05 L400.60 129.08 L400.85 129.14 L401.10 129.09 L401.35 129.06 L401.60 129.10 L401.85 129.12 L402.10 129.10 L402.35 129.13 L402.60 129.10 L402.85 129.03 L403.10 129.03 L403.35 128.97 L403.60 129.01 L403.85 129.00 L404.10 129.02 L404.35 129.04 L404.60 129.02 L404.85 129.03 L405.10 128.97 L405.35 129.05 L405.60 129.07 L405.85 129.15 L406.10 129.08 L406.35 129.10 L406.60 129.14 L406.85 129.11 L407.10 129.05 L407.35 129.01 L407.60 128.98 L407.85 129.04 L408.10 128.99 L408.35 129.06 L408.60 129.06 L408.85 129.08 L409.10 129.10 L409.35 129.11 L409.60 129.14 L409.85 129.15 L410.10 129.13 L410.35 129.16 L410.60 129.12 L410.85 129.16 L411.10 129.20 L411.35 129.23 L411.60 129.19 L411.85 129.22 L412.10 129.28 L412.35 129.25 L412.60 129.20 L412.85 129.20 L413.10 129.26 L413.35 129.19 L413.60 129.11 L413.85 129.11 L414.10 129.14 L414.35 129.18 L414.60 129.16 L414.85 129.23 L415.10 129.18 L415.35 129.21 L415.60 129.14 L415.85 129.07 L416.10 129.03 L416.35 128.98 L416.60 129.01 L416.85 129.04 L417.10 129.01 L417.35 129.09 L417.60 129.08 L417.85 129.04 L418.10 129.01 L418.35 129.07 L418.60 129.14 L418.85 129.09 L419.10 129.03 L419.35 129.09 L419.60 129.06 L419.85 129.15 L420.10 129.15 L420.35 129.17 L420.60 129.14 L420.85 129.19 L421.10 129.17 L421.35 129.14 L421.60 129.20 L421.85 129.13 L422.10 129.17 L422.35 129.09 L422.60 129.12 L422.85 129.10 L423.10 129.16 L423.35 129.08 L423.60 129.08 L423.85 129.06 L424.10 129.11 L424.35 129.15 L424.60 129.12 L424.85 129.03 L425.10 128.93 L425.35 128.84 L425.60 128.77 L425.85 128.68 L426.10 128.59 L426.35 128.63 L426.60 128.67 L426.85 128.69 L427.10 128.83 L427.35 128.85 L427.60 128.93 L427.85 128.93 L428.10 129.03 L428.35 129.12 L428.60 129.10 L428.85 129.15 L429.10 129.21 L429.35 129.17 L429.60 129.15 L429.85 129.15 L430.10 129.22 L430.35 129.16 L430.60 129.19 L430.85 129.20 L431.10 129.19 L431.35 129.20 L431.60 129.26 L431.85 129.20 L432.10 129.26 L432.35 129.23 L432.60 129.26 L432.85 129.31 L433.10 129.24" fill="none" stroke="#14e7ea" stroke-width="2.5" stroke-linejoin="round" stroke-linecap="round"/>
<path d="M68.60 162.17 L68.85 162.25 L69.10 162.21 L69.35 162.13 L69.60 162.08 L69.85 162.17 L70.10 162.11 L70.35 162.19 L70.60 162.14 L70.85 162.19 L71.10 162.14 L71.35 162.11 L71.60 162.16 L71.85 162.12 L72.10 162.12 L72.35 162.21 L72.60 162.25 L72.85 162.32 L73.10 162.39 L73.35 162.31 L73.60 162.28 L73.85 162.33 L74.10 162.36 L74.35 162.29 L74.60 162.31 L74.85 162.28 L75.10 162.28 L75.35 162.24 L75.60 162.19 L75.85 162.30 L76.10 162.29 L76.35 162.37 L76.60 162.32 L76.85 162.34 L77.10 162.30 L77.35 162.32 L77.60 162.29 L77.85 162.35 L78.10 162.32 L78.35 162.38 L78.60 162.40 L78.85 162.36 L79.10 162.36 L79.35 162.39 L79.60 162.47 L79.85 162.46 L80.10 162.43 L80.35 162.52 L80.60 162.59 L80.85 162.62 L81.10 162.58 L81.35 162.54 L81.60 162.51 L81.85 162.47 L82.10 162.42 L82.35 162.45 L82.60 162.47 L82.85 162.51 L83.10 162.51 L83.35 162.46 L83.60 162.52 L83.85 162.57 L84.10 162.59 L84.35 162.62 L84.60 162.66 L84.85 162.74 L85.10 162.80 L85.35 162.82 L85.60 162.79 L85.85 162.76 L86.10 162.75 L86.35 162.82 L86.60 162.80 L86.85 162.78 L87.10 162.77 L87.35 162.72 L87.60 162.81 L87.85 162.74 L88.10 162.77 L88.35 162.84 L88.60 162.81 L88.85 162.83 L89.10 162.82 L89.35 162.79 L89.60 162.76 L89.85 162.72 L90.10 162.80 L90.35 162.86 L90.60 162.93 L90.85 162.86 L91.10 162.90 L91.35 162.88 L91.60 162.91 L91.85 162.93 L92.10 162.91 L92.35 162.99 L92.60 162.91 L92.85 162.96 L93.10 163.02 L93.35 163.02 L93.60 163.03 L93.85 163.11 L94.10 163.06 L94.35 163.07 L94.60 163.11 L94.85 163.08 L95.10 163.11 L95.35 163.09 L95.60 163.10 L95.85 163.11 L96.10 163.14 L96.35 163.11 L96.60 163.13 L96.85 163.14 L97.10 163.09 L97.35 163.12 L97.60 163.09 L97.85 163.16 L98.10 163.16 L98.35 163.20 L98.60 163.20 L98.85 163.19 L99.10 163.15 L99.35 163.11 L99.60 163.19 L99.85 163.20 L100.10 163.21 L100.35 163.21 L100.60 163.25 L100.85 163.20 L101.10 163.15 L101.35 163.21 L101.60 163.20 L101.85 163.22 L102.10 163.26 L102.35 163.31 L102.60 163.35 L102.85 163.26 L103.10 163.23 L103.35 163.27 L103.60 163.31 L103.85 163.23 L104.10 163.18 L104.35 163.14 L104.60 163.09 L104.85 163.08 L105.10 163.14 L105.35 163.15 L105.60 163.15 L105.85 163.10 L106.10 163.09 L106.35 163.18 L106.60 163.21 L106.85 163.20 L107.10 163.20 L107.35 163.24 L107.60 163.27 L107.85 163.21 L108.10 163.23 L108.35 163.20 L108.60 163.20 L108.85 163.16 L109.10 163.15 L109.35 163.13 L109.60 163.12 L109.85 163.06 L110.10 163.03 L110.35 163.06 L110.60 163.02 L110.85 162.99 L111.10 163.05 L111.35 163.04 L111.60 163.03 L111.85 163.02 L112.10 163.09 L112.35 163.04 L112.60 163.08 L112.85 163.15 L113.10 163.11 L113.35 163.10 L113.60 163.16 L113.85 163.17 L114.10 163.15 L114.35 163.09 L114.60 163.09 L114.85 163.08 L115.10 163.12 L115.35 163.09 L115.60 163.08 L115.85 163.11 L116.10 163.16 L116.35 163.13 L116.60 163.11 L116.85 163.12 L117.10 163.18 L117.35 163.12 L117.60 163.19 L117.85 163.20 L118.10 163.16 L118.35 163.16 L118.60 163.12 L118.85 163.03 L119.10 163.06 L119.35 163.03 L119.60 163.01 L119.85 162.99 L120.10 163.03 L120.35 163.03 L120.60 162.91 L120.85 162.88 L121.10 162.82 L121.35 162.74 L121.60 162.72 L121.85 162.59 L122.10 162.45 L122.35 162.33 L122.60 162.06 L122.85 161.67 L123.10 161.07 L123.35 160.18 L123.60 158.79 L123.85 156.86 L124.10 154.46 L124.35 152.28 L124.60 151.72 L124.85 153.13 L125.10 155.52 L125.35 157.78 L125.60 159.41 L125.85 160.54 L126.10 161.25 L126.35 161.79 L126.60 162.05 L126.85 162.22 L127.10 162.43 L127.35 162.57 L127.60 162.60 L127.85 162.72 L128.10 162.82 L128.35 162.87 L128.60 162.84 L128.85 162.92 L129.10 162.94 L129.35 162.99 L129.60 163.09 L129.85 163.15 L130.10 163.20 L130.35 163.15 L130.60 163.12 L130.85 163.13 L131.10 163.07 L131.35 163.16 L131.60 163.13 L131.85 163.10 L132.10 163.09 L132.35 163.06 L132.60 163.14 L132.85 163.15 L133.10 163.16 L133.35 163.16 L133.60 163.10 L133.85 163.08 L134.10 163.16 L134.35 163.21 L134.60 163.26 L134.85 163.22 L135.10 163.17 L135.35 163.11 L135.60 163.13 L135.85 163.13 L136.10 163.14 L136.35 163.15 L136.60 163.17 L136.85 163.16 L137.10 163.21 L137.35 163.17 L137.60 163.24 L137.85 163.25 L138.10 163.18 L138.35 163.16 L138.60 163.17 L138.85 163.17 L139.10 163.19 L139.35 163.17 L139.60 163.14 L139.85 163.20 L140.10 163.18 L140.35 163.22 L140.60 163.27 L140.85 163.27 L141.10 163.26 L141.35 163.32 L141.60 163.30 L141.85 163.35 L142.10 163.27 L142.35 163.25 L142.60 163.27 L142.85 163.20 L143.10 163.26 L143.35 163.20 L143.60 163.22 L143.85 163.17 L144.10 163.25 L144.35 163.26 L144.60 163.30 L144.85 163.29 L145.10 163.31 L145.35 163.33 L145.60 163.29 L145.85 163.24 L146.10 163.29 L146.35 163.23 L146.60 163.30 L146.85 163.25 L147.10 163.19 L147.35 163.14 L147.60 163.20 L147.85 163.27 L148.10 163.26 L148.35 163.28 L148.60 163.24 L148.85 163.30 L149.10 163.32 L149.35 163.26 L149.60 163.19 L149.85 163.23 L150.10 163.17 L150.35 163.23 L150.60 163.20 L150.85 163.17 L151.10 163.20 L151.35 163.18 L151.60 163.20 L151.85 163.16 L152.10 163.23 L152.35 163.21 L152.60 163.27 L152.85 163.22 L153.10 163.27 L153.35 163.34 L153.60 163.31 L153.85 163.23 L154.10 163.22 L154.35 163.25 L154.60 163.21 L154.85 163.22 L155.10 163.17 L155.35 163.18 L155.60 163.22 L155.85 163.22 L156.10 163.25 L156.35 163.20 L156.60 163.26 L156.85 163.20 L157.10 163.27 L157.35 163.35 L157.60 163.40 L157.85 163.38 L158.10 163.33 L158.35 163.30 L158.60 163.33 L158.85 163.32 L159.10 163.38 L159.35 163.30 L159.60 163.29 L159.85 163.34 L160.10 163.35 L160.35 163.34 L160.60 163.27 L160.85 163.21 L161.10 163.19 L161.35 163.26 L161.60 163.31 L161.85 163.26 L162.10 163.33 L162.35 163.25 L162.60 163.26 L162.85 163.33 L163.10 163.30 L163.35 163.36 L163.60 163.37 L163.85 163.29 L164.10 163.26 L164.35 163.25 L164.60 163.21 L164.85 163.26 L165.10 163.21 L165.35 163.26 L165.60 163.23 L165.85 163.17 L166.10 163.19 L166.35 163.14 L166.60 163.17 L166.85 163.22 L167.10 163.24 L167.35 163.24 L167.60 163.17 L167.85 163.18 L168.10 163.13 L168.35 163.17 L168.60 163.13 L168.85 163.16 L169.10 163.15 L169.35 163.14 L169.60 163.18 L169.85 163.14 L170.10 163.11 L170.35 163.19 L170.60 163.17 L170.85 163.23 L171.10 163.29 L171.35 163.28 L171.60 163.21 L171.85 163.15 L172.10 163.22 L172.35 163.16 L172.60 163.17 L172.85 163.18 L173.10 163.12 L173.35 163.13 L173.60 163.08 L173.85 163.10 L174.10 163.11 L174.35 163.10 L174.60 163.06 L174.85 163.06 L175.10 163.02 L175.35 162.98 L175.60 162.96 L175.85 163.03 L176.10 163.03 L176.35 163.09 L176.60 163.01 L176.85 163.07 L177.10 163.05 L177.35 163.07 L177.60 163.05 L177.85 163.04 L178.10 162.95 L178.35 162.95 L178.60 162.84 L178.85 162.75 L179.10 162.61 L179.35 162.52 L179.60 162.43 L179.85 162.27 L180.10 162.16 L180.35 161.85 L180.60 161.50 L180.85 160.94 L181.10 160.19 L181.35 159.15 L181.60 157.71 L181.85 155.80 L182.10 153.76 L182.35 152.16 L182.60 151.76 L182.85 152.64 L183.10 154.51 L183.35 156.53 L183.60 158.30 L183.85 159.61 L184.10 160.63 L184.35 161.30 L184.60 161.82 L184.85 162.06 L185.10 162.35 L185.35 162.49 L185.60 162.60 L185.85 162.63 L186.10 162.68 L186.35 162.80 L186.60 162.88 L186.85 162.88 L187.10 162.90 L187.35 162.89 L187.60 162.89 L187.85 162.89 L188.10 162.91 L188.35 163.03 L188.60 163.13 L188.85 163.19 L189.10 163.19 L189.35 163.19 L189.60 163.24 L189.85 163.30 L190.10 163.33 L190.35 163.33 L190.60 163.27 L190.85 163.29 L191.10 163.33 L191.35 163.36 L191.60 163.28 L191.85 163.31 L192.10 163.28 L192.35 163.22 L192.60 163.29 L192.85 163.31 L193.10 163.34 L193.35 163.27 L193.60 163.32 L193.85 163.37 L194.10 163.41 L194.35 163.42 L194.60 163.44 L194.85 163.46 L195.10 163.43 L195.35 163.39 L195.60 163.41 L195.85 163.42 L196.10 163.44 L196.35 163.36 L196.60 163.39 L196.85 163.35 L197.10 163.36 L197.35 163.23 L197.60 163.23 L197.85 163.17 L198.10 162.97 L198.35 162.76 L198.60 162.29 L198.85 161.62 L199.10 160.86 L199.35 160.39 L199.60 160.71 L199.85 161.51 L200.10 162.18 L200.35 162.64 L200.60 162.87 L200.85 163.06 L201.10 163.18 L201.35 163.24 L201.60 163.33 L201.85 163.38 L202.10 163.36 L202.35 163.29 L202.60 163.31 L202.85 163.36 L203.10 163.33 L203.35 163.34 L203.60 163.38 L203.85 163.42 L204.10 163.32 L204.35 163.32 L204.60 163.24 L204.85 163.19 L205.10 163.26 L205.35 163.25 L205.60 163.27 L205.85 163.27 L206.10 163.25 L206.35 163.22 L206.60 163.21 L206.85 163.27 L207.10 163.30 L207.35 163.27 L207.60 163.21 L207.85 163.19 L208.10 163.24 L208.35 163.24 L208.60 163.27 L208.85 163.32 L209.10 163.26 L209.35 163.29 L209.60 163.23 L209.85 163.29 L210.10 163.24 L210.35 163.21 L210.60 163.29 L210.85 163.27 L211.10 163.23 L211.35 163.30 L211.60 163.32 L211.85 163.37 L212.10 163.34 L212.35 163.33 L212.60 163.39 L212.85 163.37 L213.10 163.43 L213.35 163.36 L213.60 163.39 L213.85 163.32 L214.10 163.31 L214.35 163.23 L214.60 163.18 L214.85 163.25 L215.10 163.23 L215.35 163.27 L215.60 163.22 L215.85 163.19 L216.10 163.12 L216.35 163.12 L216.60 163.17 L216.85 163.15 L217.10 163.11 L217.35 163.14 L217.60 163.15 L217.85 163.11 L218.10 162.97 L218.35 162.90 L218.60 162.76 L218.85 162.65 L219.10 162.36 L219.35 162.01 L219.60 161.52 L219.85 160.83 L220.10 160.06 L220.35 159.35 L220.60 158.98 L220.85 159.09 L221.10 159.65 L221.35 160.48 L221.60 161.12 L221.85 161.76 L222.10 162.21 L222.35 162.52 L222.60 162.71 L222.85 162.89 L223.10 163.03 L223.35 163.12 L223.60 163.19 L223.85 163.14 L224.10 163.14 L224.35 163.11 L224.60 163.20 L224.85 163.27 L225.10 163.22 L225.35 163.24 L225.60 163.26 L225.85 163.19 L226.10 163.19 L226.35 163.24 L226.60 163.27 L226.85 163.24 L227.10 163.29 L227.35 163.25 L227.60 163.27 L227.85 163.26 L228.10 163.33 L228.35 163.35 L228.60 163.39 L228.85 163.40 L229.10 163.36 L229.35 163.42 L229.60 163.43 L229.85 163.44 L230.10 163.38 L230.35 163.32 L230.60 163.33 L230.85 163.37 L231.10 163.40 L231.35 163.36 L231.60 163.29 L231.85 163.30 L232.10 163.35 L232.35 163.29 L232.60 163.32 L232.85 163.27 L233.10 163.24 L233.35 163.18 L233.60 163.16 L233.85 163.16 L234.10 163.25 L234.35 163.32 L234.60 163.26 L234.85 163.23 L235.10 163.30 L235.35 163.25 L235.60 163.22 L235.85 163.22 L236.10 163.16 L236.35 163.14 L236.60 163.14 L236.85 163.13 L237.10 163.22 L237.35 163.18 L237.60 163.14 L237.85 163.21 L238.10 163.21 L238.35 163.26 L238.60 163.27 L238.85 163.30 L239.10 163.25 L239.35 163.19 L239.60 163.22 L239.85 163.21 L240.10 163.21 L240.35 163.22 L240.60 163.24 L240.85 163.19 L241.10 163.16 L241.35 163.21 L241.60 163.19 L241.85 163.14 L242.10 163.14 L242.35 163.09 L242.60 163.11 L242.85 163.02 L243.10 163.06 L243.35 163.05 L243.60 163.00 L243.85 163.05 L244.10 162.98 L244.35 162.91 L244.60 162.82 L244.85 162.81 L245.10 162.82 L245.35 162.82 L245.60 162.76 L245.85 162.77 L246.10 162.66 L246.35 162.59 L246.60 162.57 L246.85 162.59 L247.10 162.54 L247.35 162.50 L247.60 162.46 L247.85 162.36 L248.10 162.35 L248.35 162.29 L248.60 162.16 L248.85 162.05 L249.10 162.00 L249.35 161.88 L249.60 161.74 L249.85 161.71 L250.10 161.61 L250.35 161.52 L250.60 161.46 L250.85 161.43 L251.10 161.29 L251.35 161.19 L251.60 161.07 L251.85 161.02 L252.10 160.99 L252.35 161.03 L252.60 161.04 L252.85 161.06 L253.10 161.06 L253.35 161.10 L253.60 161.10 L253.85 161.21 L254.10 161.31 L254.35 161.42 L254.60 161.43 L254.85 161.53 L255.10 161.64 L255.35 161.71 L255.60 161.85 L255.85 161.97 L256.10 162.07 L256.35 162.17 L256.60 162.24 L256.85 162.35 L257.10 162.34 L257.35 162.42 L257.60 162.50 L257.85 162.55 L258.10 162.56 L258.35 162.54 L258.60 162.61 L258.85 162.70 L259.10 162.71 L259.35 162.70 L259.60 162.71 L259.85 162.69 L260.10 162.77 L260.35 162.89 L260.60 162.96 L260.85 162.96 L261.10 163.01 L261.35 162.96 L261.60 163.04 L261.85 163.03 L262.10 162.97 L262.35 163.02 L262.60 162.98 L262.85 162.98 L263.10 162.94 L263.35 162.97 L263.60 163.01 L263.85 163.08 L264.10 163.03 L264.35 163.10 L264.60 163.06 L264.85 163.04 L265.10 163.08 L265.35 163.08 L265.60 163.07 L265.85 163.10 L266.10 163.07 L266.35 163.14 L266.60 163.10 L266.85 163.17 L267.10 163.22 L267.35 163.22 L267.60 163.14 L267.85 163.19 L268.10 163.12 L268.35 163.12 L268.60 163.11 L268.85 163.05 L269.10 163.08 L269.35 163.12 L269.60 163.12 L269.85 163.10 L270.10 163.08 L270.35 163.08 L270.60 163.01 L270.85 163.04 L271.10 163.08 L271.35 163.06 L271.60 163.06 L271.85 162.94 L272.10 162.92 L272.35 162.74 L272.60 162.61 L272.85 162.43 L273.10 162.28 L273.35 162.16 L273.60 162.02 L273.85 161.84 L274.10 161.64 L274.35 161.45 L274.60 161.32 L274.85 161.23 L275.10 161.18 L275.35 161.28 L275.60 161.39 L275.85 161.52 L276.10 161.65 L276.35 161.86 L276.60 161.99 L276.85 162.13 L277.10 162.30 L277.35 162.48 L277.60 162.68 L277.85 162.81 L278.10 162.96 L278.35 163.08 L278.60 163.15 L278.85 163.21 L279.10 163.16 L279.35 163.14 L279.60 163.10 L279.85 163.19 L280.10 163.24 L280.35 163.28 L280.60 163.25 L280.85 163.24 L281.10 163.21 L281.35 163.25 L281.60 163.34 L281.85 163.31 L282.10 163.25 L282.35 163.22 L282.60 163.22 L282.85 163.30 L283.10 163.36 L283.35 163.35 L283.60 163.30 L283.85 163.25 L284.10 163.22 L284.35 163.29 L284.60 163.30 L284.85 163.38 L285.10 163.45 L285.35 163.48 L285.60 163.47 L285.85 163.51 L286.10 163.44 L286.35 163.37 L286.60 163.39 L286.85 163.39 L287.10 163.35 L287.35 163.32 L287.60 163.26 L287.85 163.35 L288.10 163.39 L288.35 163.46 L288.60 163.53 L288.85 163.50 L289.10 163.52 L289.35 163.49 L289.60 163.53 L289.85 163.56 L290.10 163.49 L290.35 163.41 L290.60 163.37 L290.85 163.39 L291.10 163.38 L291.35 163.31 L291.60 163.38 L291.85 163.43 L292.10 163.43 L292.35 163.36 L292.60 163.43 L292.85 163.43 L293.10 163.37 L293.35 163.35 L293.60 163.38 L293.85 163.45 L294.10 163.45 L294.35 163.47 L294.60 163.42 L294.85 163.38 L295.10 163.45 L295.35 163.43 L295.60 163.37 L295.85 163.40 L296.10 163.35 L296.35 163.32 L296.60 163.33 L296.85 163.36 L297.10 163.39 L297.35 163.43 L297.60 163.42 L297.85 163.36 L298.10 163.40 L298.35 163.34 L298.60 163.35 L298.85 163.35 L299.10 163.39 L299.35 163.43 L299.60 163.39 L299.85 163.42 L300.10 163.45 L300.35 163.44 L300.60 163.38 L300.85 163.45 L301.10 163.46 L301.35 163.39 L301.60 163.35 L301.85 163.44 L302.10 163.39 L302.35 163.38 L302.60 163.42 L302.85 163.47 L303.10 163.47 L303.35 163.50 L303.60 163.41 L303.85 163.34 L304.10 163.41 L304.35 163.45 L304.60 163.36 L304.85 163.28 L305.10 163.25 L305.35 163.31 L305.60 163.26 L305.85 163.28 L306.10 163.33 L306.35 163.32 L306.60 163.34 L306.85 163.25 L307.10 163.15 L307.35 163.02 L307.60 162.99 L307.85 162.83 L308.10 162.77 L308.35 162.59 L308.60 162.21 L308.85 161.73 L309.10 160.89 L309.35 159.78 L309.60 158.35 L309.85 157.12 L310.10 156.72 L310.35 157.50 L310.60 158.77 L310.85 160.15 L311.10 161.18 L311.35 161.94 L311.60 162.40 L311.85 162.70 L312.10 162.89 L312.35 163.06 L312.60 163.07 L312.85 163.06 L313.10 163.13 L313.35 163.14 L313.60 163.17 L313.85 163.13 L314.10 163.21 L314.35 163.17 L314.60 163.25 L314.85 163.32 L315.10 163.32 L315.35 163.27 L315.60 163.31 L315.85 163.27 L316.10 163.28 L316.35 163.23 L316.60 163.32 L316.85 163.33 L317.10 163.30 L317.35 163.24 L317.60 163.28 L317.85 163.32 L318.10 163.35 L318.35 163.26 L318.60 163.20 L318.85 163.13 L319.10 163.10 L319.35 162.94 L319.60 162.80 L319.85 162.61 L320.10 162.24 L320.35 161.61 L320.60 160.91 L320.85 160.35 L321.10 160.34 L321.35 160.81 L321.60 161.46 L321.85 162.04 L322.10 162.46 L322.35 162.77 L322.60 162.99 L322.85 163.17 L323.10 163.28 L323.35 163.36 L323.60 163.44 L323.85 163.50 L324.10 163.53 L324.35 163.45 L324.60 163.47 L324.85 163.52 L325.10 163.50 L325.35 163.55 L325.60 163.48 L325.85 163.54 L326.10 163.52 L326.35 163.54 L326.60 163.49 L326.85 163.45 L327.10 163.42 L327.35 163.40 L327.60 163.34 L327.85 163.35 L328.10 163.43 L328.35 163.45 L328.60 163.51 L328.85 163.54 L329.10 163.57 L329.35 163.62 L329.60 163.62 L329.85 163.55 L330.10 163.49 L330.35 163.46 L330.60 163.37 L330.85 163.32 L331.10 163.38 L331.35 163.42 L331.60 163.37 L331.85 163.38 L332.10 163.38 L332.35 163.37 L332.60 163.33 L332.85 163.21 L333.10 162.99 L333.35 162.83 L333.60 162.54 L333.85 162.24 L334.10 161.91 L334.35 161.72 L334.60 161.80 L334.85 161.95 L335.10 162.26 L335.35 162.57 L335.60 162.81 L335.85 163.04 L336.10 163.14 L336.35 163.28 L336.60 163.34 L336.85 163.43 L337.10 163.37 L337.35 163.33 L337.60 163.30 L337.85 163.37 L338.10 163.28 L338.35 163.25 L338.60 163.29 L338.85 163.35 L339.10 163.28 L339.35 163.25 L339.60 163.26 L339.85 163.25 L340.10 163.24 L340.35 163.21 L340.60 163.08 L340.85 162.93 L341.10 162.73 L341.35 162.60 L341.60 162.34 L341.85 162.07 L342.10 161.88 L342.35 161.64 L342.60 161.44 L342.85 161.37 L343.10 161.45 L343.35 161.66 L343.60 161.87 L343.85 162.07 L344.10 162.25 L344.35 162.39 L344.60 162.56 L344.85 162.65 L345.10 162.70 L345.35 162.79 L345.60 162.92 L345.85 162.97 L346.10 162.94 L346.35 162.96 L346.60 162.87 L346.85 162.73 L347.10 162.59 L347.35 162.42 L347.60 162.22 L347.85 161.89 L348.10 161.53 L348.35 161.01 L348.60 160.64 L348.85 160.30 L349.10 160.30 L349.35 160.46 L349.60 160.94 L349.85 161.38 L350.10 161.88 L350.35 162.30 L350.60 162.60 L350.85 162.78 L351.10 162.86 L351.35 162.94 L351.60 163.10 L351.85 163.12 L352.10 163.20 L352.35 163.25 L352.60 163.31 L352.85 163.29 L353.10 163.26 L353.35 163.23 L353.60 163.34 L353.85 163.34 L354.10 163.38 L354.35 163.41 L354.60 163.37 L354.85 163.32 L355.10 163.27 L355.35 163.36 L355.60 163.32 L355.85 163.41 L356.10 163.40 L356.35 163.45 L356.60 163.40 L356.85 163.46 L357.10 163.43 L357.35 163.42 L357.60 163.43 L357.85 163.38 L358.10 163.36 L358.35 163.43 L358.60 163.41 L358.85 163.40 L359.10 163.46 L359.35 163.42 L359.60 163.39 L359.85 163.37 L360.10 163.37 L360.35 163.37 L360.60 163.41 L360.85 163.42 L361.10 163.49 L361.35 163.43 L361.60 163.46 L361.85 163.52 L362.10 163.48 L362.35 163.42 L362.60 163.42 L362.85 163.38 L363.10 163.39 L363.35 163.44 L363.60 163.39 L363.85 163.35 L364.10 163.38 L364.35 163.35 L364.60 163.33 L364.85 163.35 L365.10 163.32 L365.35 163.29 L365.60 163.30 L365.85 163.33 L366.10 163.42 L366.35 163.45 L366.60 163.39 L366.85 163.37 L367.10 163.43 L367.35 163.45 L367.60 163.52 L367.85 163.59 L368.10 163.63 L368.35 163.56 L368.60 163.62 L368.85 163.61 L369.10 163.56 L369.35 163.50 L369.60 163.56 L369.85 163.51 L370.10 163.45 L370.35 163.43 L370.60 163.51 L370.85 163.50 L371.10 163.54 L371.35 163.47 L371.60 163.47 L371.85 163.45 L372.10 163.42 L372.35 163.46 L372.60 163.45 L372.85 163.40 L373.10 163.49 L373.35 163.50 L373.60 163.45 L373.85 163.39 L374.10 163.43 L374.35 163.45 L374.60 163.39 L374.85 163.40 L375.10 163.46 L375.35 163.47 L375.60 163.44 L375.85 163.45 L376.10 163.48 L376.35 163.51 L376.60 163.45 L376.85 163.51 L377.10 163.58 L377.35 163.60 L377.60 163.64 L377.85 163.60 L378.10 163.65 L378.35 163.58 L378.60 163.53 L378.85 163.54 L379.10 163.60 L379.35 163.52 L379.60 163.47 L379.85 163.41 L380.10 163.41 L380.35 163.37 L380.60 163.34 L380.85 163.40 L381.10 163.43 L381.35 163.50 L381.60 163.49 L381.85 163.51 L382.10 163.43 L382.35 163.51 L382.60 163.46 L382.85 163.46 L383.10 163.46 L383.35 163.53 L383.60 163.51 L383.85 163.57 L384.10 163.57 L384.35 163.51 L384.60 163.54 L384.85 163.48 L385.10 163.54 L385.35 163.51 L385.60 163.45 L385.85 163.50 L386.10 163.45 L386.35 163.41 L386.60 163.37 L386.85 163.38 L387.10 163.28 L387.35 163.25 L387.60 163.18 L387.85 163.21 L388.10 163.10 L388.35 163.09 L388.60 163.01 L388.85 162.95 L389.10 162.90 L389.35 162.85 L389.60 162.69 L389.85 162.54 L390.10 162.37 L390.35 162.30 L390.60 162.09 L390.85 161.88 L391.10 161.72 L391.35 161.58 L391.60 161.51 L391.85 161.34 L392.10 161.26 L392.35 161.24 L392.60 161.34 L392.85 161.47 L393.10 161.63 L393.35 161.87 L393.60 162.08 L393.85 162.31 L394.10 162.53 L394.35 162.63 L394.60 162.82 L394.85 162.90 L395.10 162.92 L395.35 163.07 L395.60 163.07 L395.85 163.06 L396.10 163.09 L396.35 163.12 L396.60 163.24 L396.85 163.33 L397.10 163.34 L397.35 163.37 L397.60 163.44 L397.85 163.49 L398.10 163.51 L398.35 163.51 L398.60 163.45 L398.85 163.42 L399.10 163.45 L399.35 163.47 L399.60 163.52 L399.85 163.58 L400.10 163.64 L400.35 163.57 L400.60 163.50 L400.85 163.56 L401.10 163.57 L401.35 163.51 L401.60 163.54 L401.85 163.50 L402.10 163.47 L402.35 163.46 L402.60 163.47 L402.85 163.51 L403.10 163.45 L403.35 163.50 L403.60 163.52 L403.85 163.52 L404.10 163.55 L404.35 163.59 L404.60 163.51 L404.85 163.51 L405.10 163.54 L405.35 163.58 L405.60 163.59 L405.85 163.54 L406.10 163.61 L406.35 163.64 L406.60 163.59 L406.85 163.57 L407.10 163.64 L407.35 163.58 L407.60 163.57 L407.85 163.63 L408.10 163.68 L408.35 163.62 L408.60 163.65 L408.85 163.61 L409.10 163.63 L409.35 163.66 L409.60 163.59 L409.85 163.54 L410.10 163.50 L410.35 163.48 L410.60 163.42 L410.85 163.39 L411.10 163.40 L411.35 163.41 L411.60 163.37 L411.85 163.41 L412.10 163.50 L412.35 163.52 L412.60 163.51 L412.85 163.55 L413.10 163.54 L413.35 163.50 L413.60 163.51 L413.85 163.44 L414.10 163.49 L414.35 163.45 L414.60 163.45 L414.85 163.54 L415.10 163.58 L415.35 163.63 L415.60 163.64 L415.85 163.65 L416.10 163.67 L416.35 163.73 L416.60 163.66 L416.85 163.69 L417.10 163.64 L417.35 163.59 L417.60 163.64 L417.85 163.65 L418.10 163.69 L418.35 163.73 L418.60 163.72 L418.85 163.65 L419.10 163.57 L419.35 163.58 L419.60 163.61 L419.85 163.57 L420.10 163.51 L420.35 163.44 L420.60 163.42 L420.85 163.47 L421.10 163.41 L421.35 163.40 L421.60 163.39 L421.85 163.45 L422.10 163.54 L422.35 163.48 L422.60 163.44 L422.85 163.52 L423.10 163.60 L423.35 163.55 L423.60 163.53 L423.85 163.54 L424.10 163.52 L424.35 163.52 L424.60 163.52 L424.85 163.50 L425.10 163.44 L425.35 163.40 L425.60 163.38 L425.85 163.35 L426.10 163.40 L426.35 163.46 L426.60 163.44 L426.85 163.51 L427.10 163.56 L427.35 163.54 L427.60 163.54 L427.85 163.50 L428.10 163.58 L428.35 163.59 L428.60 163.52 L428.85 163.48 L429.10 163.53 L429.35 163.52 L429.60 163.56 L429.85 163.53 L430.10 163.58 L430.35 163.63 L430.60 163.56 L430.85 163.58 L431.10 163.54 L431.35 163.57 L431.60 163.62 L431.85 163.66 L432.10 163.61 L432.35 163.55 L432.60 163.58 L432.85 163.59 L433.10 163.54" fill="none" stroke="#0a32f0" stroke-width="2.5" stroke-linejoin="round" stroke-linecap="round"/>
<path d="M68.60 200.37 L68.85 200.40 L69.10 200.36 L69.35 200.40 L69.60 200.39 L69.85 200.37 L70.10 200.39 L70.35 200.42 L70.60 200.48 L70.85 200.43 L71.10 200.49 L71.35 200.47 L71.60 200.46 L71.85 200.51 L72.10 200.56 L72.35 200.60 L72.60 200.67 L72.85 200.63 L73.10 200.61 L73.35 200.65 L73.60 200.63 L73.85 200.60 L74.10 200.58 L74.35 200.65 L74.60 200.72 L74.85 200.76 L75.10 200.84 L75.35 200.88 L75.60 200.84 L75.85 200.82 L76.10 200.86 L76.35 200.79 L76.60 200.82 L76.85 200.77 L77.10 200.72 L77.35 200.76 L77.60 200.73 L77.85 200.83 L78.10 200.90 L78.35 200.91 L78.60 200.87 L78.85 200.83 L79.10 200.86 L79.35 200.89 L79.60 200.89 L79.85 200.94 L80.10 200.96 L80.35 201.02 L80.60 200.97 L80.85 200.92 L81.10 200.93 L81.35 200.96 L81.60 200.95 L81.85 201.00 L82.10 200.98 L82.35 200.98 L82.60 201.01 L82.85 201.07 L83.10 201.13 L83.35 201.12 L83.60 201.13 L83.85 201.21 L84.10 201.28 L84.35 201.30 L84.60 201.23 L84.85 201.24 L85.10 201.27 L85.35 201.24 L85.60 201.18 L85.85 201.28 L86.10 201.35 L86.35 201.30 L86.60 201.30 L86.85 201.33 L87.10 201.31 L87.35 201.26 L87.60 201.32 L87.85 201.38 L88.10 201.38 L88.35 201.33 L88.60 201.34 L88.85 201.30 L89.10 201.40 L89.35 201.35 L89.60 201.34 L89.85 201.41 L90.10 201.37 L90.35 201.34 L90.60 201.31 L90.85 201.30 L91.10 201.35 L91.35 201.44 L91.60 201.41 L91.85 201.40 L92.10 201.47 L92.35 201.49 L92.60 201.49 L92.85 201.46 L93.10 201.46 L93.35 201.56 L93.60 201.53 L93.85 201.52 L94.10 201.59 L94.35 201.67 L94.60 201.75 L94.85 201.75 L95.10 201.82 L95.35 201.83 L95.60 201.80 L95.85 201.79 L96.10 201.83 L96.35 201.87 L96.60 201.81 L96.85 201.77 L97.10 201.86 L97.35 201.80 L97.60 201.86 L97.85 201.85 L98.10 201.82 L98.35 201.80 L98.60 201.82 L98.85 201.91 L99.10 201.87 L99.35 201.94 L99.60 201.92 L99.85 201.88 L100.10 201.93 L100.35 201.91 L100.60 201.87 L100.85 201.87 L101.10 201.94 L101.35 201.99 L101.60 202.00 L101.85 201.92 L102.10 201.97 L102.35 201.98 L102.60 202.04 L102.85 202.10 L103.10 202.05 L103.35 202.09 L103.60 202.12 L103.85 202.07 L104.10 202.03 L104.35 202.00 L104.60 201.98 L104.85 201.96 L105.10 201.90 L105.35 201.87 L105.60 201.95 L105.85 201.94 L106.10 201.97 L106.35 202.03 L106.60 202.06 L106.85 202.01 L107.10 202.06 L107.35 202.10 L107.60 202.15 L107.85 202.16 L108.10 202.17 L108.35 202.19 L108.60 202.12 L108.85 202.12 L109.10 202.08 L109.35 202.11 L109.60 202.03 L109.85 202.03 L110.10 201.99 L110.35 202.03 L110.60 202.00 L110.85 202.04 L111.10 202.07 L111.35 202.11 L111.60 202.03 L111.85 202.08 L112.10 202.09 L112.35 202.09 L112.60 202.08 L112.85 201.98 L113.10 202.02 L113.35 202.01 L113.60 201.98 L113.85 201.93 L114.10 201.96 L114.35 201.98 L114.60 202.01 L114.85 201.93 L115.10 201.88 L115.35 201.82 L115.60 201.74 L115.85 201.71 L116.10 201.63 L116.35 201.67 L116.60 201.62 L116.85 201.54 L117.10 201.47 L117.35 201.50 L117.60 201.44 L117.85 201.42 L118.10 201.38 L118.35 201.40 L118.60 201.42 L118.85 201.32 L119.10 201.27 L119.35 201.25 L119.60 201.13 L119.85 201.07 L120.10 200.95 L120.35 200.73 L120.60 200.58 L120.85 200.33 L121.10 199.97 L121.35 199.64 L121.60 199.29 L121.85 198.81 L122.10 198.26 L122.35 197.62 L122.60 196.98 L122.85 196.24 L123.10 195.36 L123.35 194.50 L123.60 193.65 L123.85 192.98 L124.10 192.41 L124.35 191.98 L124.60 191.96 L124.85 192.09 L125.10 192.58 L125.35 193.24 L125.60 194.07 L125.85 194.90 L126.10 195.67 L126.35 196.48 L126.60 197.27 L126.85 197.97 L127.10 198.53 L127.35 198.99 L127.60 199.47 L127.85 199.89 L128.10 200.16 L128.35 200.48 L128.60 200.77 L128.85 200.93 L129.10 201.06 L129.35 201.22 L129.60 201.38 L129.85 201.42 L130.10 201.46 L130.35 201.51 L130.60 201.61 L130.85 201.61 L131.10 201.67 L131.35 201.72 L131.60 201.79 L131.85 201.78 L132.10 201.89 L132.35 201.99 L132.60 202.01 L132.85 202.07 L133.10 202.03 L133.35 202.10 L133.60 202.12 L133.85 202.16 L134.10 202.22 L134.35 202.19 L134.60 202.25 L134.85 202.20 L135.10 202.13 L135.35 202.14 L135.60 202.21 L135.85 202.27 L136.10 202.33 L136.35 202.32 L136.60 202.37 L136.85 202.36 L137.10 202.29 L137.35 202.30 L137.60 202.34 L137.85 202.31 L138.10 202.32 L138.35 202.28 L138.60 202.24 L138.85 202.23 L139.10 202.24 L139.35 202.24 L139.60 202.19 L139.85 202.13 L140.10 202.13 L140.35 202.18 L140.60 202.24 L140.85 202.21 L141.10 202.18 L141.35 202.20 L141.60 202.17 L141.85 202.20 L142.10 202.28 L142.35 202.24 L142.60 202.26 L142.85 202.30 L143.10 202.34 L143.35 202.37 L143.60 202.39 L143.85 202.35 L144.10 202.39 L144.35 202.45 L144.60 202.36 L144.85 202.42 L145.10 202.40 L145.35 202.33 L145.60 202.26 L145.85 202.32 L146.10 202.34 L146.35 202.29 L146.60 202.29 L146.85 202.32 L147.10 202.39 L147.35 202.36 L147.60 202.40 L147.85 202.35 L148.10 202.30 L148.35 202.26 L148.60 202.26 L148.85 202.29 L149.10 202.26 L149.35 202.22 L149.60 202.20 L149.85 202.16 L150.10 202.14 L150.35 202.14 L150.60 202.17 L150.85 202.15 L151.10 202.18 L151.35 202.19 L151.60 202.29 L151.85 202.29 L152.10 202.37 L152.35 202.36 L152.60 202.31 L152.85 202.33 L153.10 202.28 L153.35 202.24 L153.60 202.19 L153.85 202.25 L154.10 202.33 L154.35 202.32 L154.60 202.30 L154.85 202.30 L155.10 202.29 L155.35 202.32 L155.60 202.31 L155.85 202.27 L156.10 202.33 L156.35 202.35 L156.60 202.27 L156.85 202.34 L157.10 202.37 L157.35 202.35 L157.60 202.37 L157.85 202.43 L158.10 202.40 L158.35 202.39 L158.60 202.35 L158.85 202.36 L159.10 202.38 L159.35 202.41 L159.60 202.47 L159.85 202.40 L160.10 202.37 L160.35 202.42 L160.60 202.46 L160.85 202.45 L161.10 202.47 L161.35 202.43 L161.60 202.48 L161.85 202.47 L162.10 202.44 L162.35 202.38 L162.60 202.32 L162.85 202.38 L163.10 202.42 L163.35 202.34 L163.60 202.32 L163.85 202.32 L164.10 202.32 L164.35 202.31 L164.60 202.37 L164.85 202.35 L165.10 202.35 L165.35 202.42 L165.60 202.43 L165.85 202.41 L166.10 202.38 L166.35 202.35 L166.60 202.37 L166.85 202.41 L167.10 202.36 L167.35 202.34 L167.60 202.32 L167.85 202.31 L168.10 202.37 L168.35 202.37 L168.60 202.34 L168.85 202.31 L169.10 202.36 L169.35 202.31 L169.60 202.34 L169.85 202.27 L170.10 202.23 L170.35 202.18 L170.60 202.25 L170.85 202.21 L171.10 202.18 L171.35 202.14 L171.60 202.13 L171.85 202.19 L172.10 202.24 L172.35 202.32 L172.60 202.38 L172.85 202.38 L173.10 202.43 L173.35 202.35 L173.60 202.40 L173.85 202.38 L174.10 202.32 L174.35 202.35 L174.60 202.39 L174.85 202.35 L175.10 202.28 L175.35 202.33 L175.60 202.35 L175.85 202.35 L176.10 202.40 L176.35 202.30 L176.60 202.21 L176.85 202.15 L177.10 202.08 L177.35 202.11 L177.60 202.13 L177.85 202.06 L178.10 202.00 L178.35 201.95 L178.60 201.95 L178.85 201.96 L179.10 202.00 L179.35 201.92 L179.60 201.92 L179.85 201.81 L180.10 201.67 L180.35 201.48 L180.60 201.22 L180.85 200.96 L181.10 200.51 L181.35 199.71 L181.60 198.41 L181.85 196.63 L182.10 194.47 L182.35 192.53 L182.60 191.97 L182.85 193.10 L183.10 195.21 L183.35 197.26 L183.60 198.75 L183.85 199.83 L184.10 200.59 L184.35 201.05 L184.60 201.34 L184.85 201.59 L185.10 201.74 L185.35 201.82 L185.60 201.88 L185.85 202.01 L186.10 202.11 L186.35 202.20 L186.60 202.22 L186.85 202.18 L187.10 202.14 L187.35 202.15 L187.60 202.19 L187.85 202.13 L188.10 202.20 L188.35 202.26 L188.60 202.26 L188.85 202.19 L189.10 202.25 L189.35 202.24 L189.60 202.28 L189.85 202.29 L190.10 202.32 L190.35 202.30 L190.60 202.37 L190.85 202.43 L191.10 202.47 L191.35 202.46 L191.60 202.41 L191.85 202.37 L192.10 202.33 L192.35 202.38 L192.60 202.41 L192.85 202.43 L193.10 202.46 L193.35 202.51 L193.60 202.50 L193.85 202.44 L194.10 202.45 L194.35 202.38 L194.60 202.38 L194.85 202.31 L195.10 202.35 L195.35 202.33 L195.60 202.27 L195.85 202.32 L196.10 202.23 L196.35 202.27 L196.60 202.28 L196.85 202.18 L197.10 202.18 L197.35 202.12 L197.60 202.10 L197.85 201.98 L198.10 201.75 L198.35 201.46 L198.60 200.79 L198.85 199.93 L199.10 198.78 L199.35 198.11 L199.60 198.52 L199.85 199.65 L200.10 200.58 L200.35 201.25 L200.60 201.59 L200.85 201.85 L201.10 201.99 L201.35 202.01 L201.60 202.07 L201.85 202.14 L202.10 202.13 L202.35 202.18 L202.60 202.17 L202.85 202.17 L203.10 202.25 L203.35 202.32 L203.60 202.39 L203.85 202.36 L204.10 202.36 L204.35 202.39 L204.60 202.41 L204.85 202.39 L205.10 202.42 L205.35 202.39 L205.60 202.44 L205.85 202.41 L206.10 202.33 L206.35 202.36 L206.60 202.29 L206.85 202.31 L207.10 202.23 L207.35 202.31 L207.60 202.31 L207.85 202.33 L208.10 202.26 L208.35 202.28 L208.60 202.25 L208.85 202.21 L209.10 202.26 L209.35 202.18 L209.60 202.18 L209.85 202.12 L210.10 202.18 L210.35 202.24 L210.60 202.16 L210.85 202.16 L211.10 202.15 L211.35 202.18 L211.60 202.21 L211.85 202.17 L212.10 202.22 L212.35 202.16 L212.60 202.09 L212.85 202.13 L213.10 202.06 L213.35 202.00 L213.60 202.00 L213.85 201.96 L214.10 201.90 L214.35 201.96 L214.60 201.94 L214.85 201.96 L215.10 201.89 L215.35 201.91 L215.60 201.82 L215.85 201.83 L216.10 201.77 L216.35 201.76 L216.60 201.69 L216.85 201.58 L217.10 201.44 L217.35 201.32 L217.60 201.11 L217.85 200.83 L218.10 200.64 L218.35 200.39 L218.60 200.08 L218.85 199.75 L219.10 199.30 L219.35 198.88 L219.60 198.51 L219.85 198.18 L220.10 197.90 L220.35 197.58 L220.60 197.48 L220.85 197.50 L221.10 197.63 L221.35 197.85 L221.60 198.15 L221.85 198.54 L222.10 198.95 L222.35 199.31 L222.60 199.67 L222.85 200.02 L223.10 200.37 L223.35 200.64 L223.60 200.82 L223.85 201.07 L224.10 201.22 L224.35 201.42 L224.60 201.60 L224.85 201.63 L225.10 201.71 L225.35 201.84 L225.60 201.86 L225.85 201.91 L226.10 201.91 L226.35 201.87 L226.60 201.86 L226.85 201.84 L227.10 201.85 L227.35 201.92 L227.60 201.96 L227.85 202.05 L228.10 202.10 L228.35 202.08 L228.60 202.16 L228.85 202.18 L229.10 202.19 L229.35 202.24 L229.60 202.26 L229.85 202.22 L230.10 202.23 L230.35 202.20 L230.60 202.27 L230.85 202.22 L231.10 202.28 L231.35 202.20 L231.60 202.13 L231.85 202.15 L232.10 202.11 L232.35 202.12 L232.60 202.08 L232.85 202.15 L233.10 202.18 L233.35 202.21 L233.60 202.27 L233.85 202.33 L234.10 202.34 L234.35 202.35 L234.60 202.25 L234.85 202.17 L235.10 202.16 L235.35 202.24 L235.60 202.20 L235.85 202.21 L236.10 202.13 L236.35 202.12 L236.60 202.19 L236.85 202.20 L237.10 202.24 L237.35 202.16 L237.60 202.11 L237.85 202.07 L238.10 202.13 L238.35 202.07 L238.60 202.14 L238.85 202.11 L239.10 202.16 L239.35 202.16 L239.60 202.12 L239.85 202.19 L240.10 202.16 L240.35 202.17 L240.60 202.09 L240.85 202.14 L241.10 202.19 L241.35 202.11 L241.60 202.13 L241.85 202.07 L242.10 202.01 L242.35 201.98 L242.60 202.00 L242.85 202.05 L243.10 202.10 L243.35 202.14 L243.60 202.11 L243.85 202.09 L244.10 201.99 L244.35 201.98 L244.60 201.95 L244.85 201.88 L245.10 201.90 L245.35 201.81 L245.60 201.71 L245.85 201.62 L246.10 201.53 L246.35 201.51 L246.60 201.52 L246.85 201.42 L247.10 201.37 L247.35 201.33 L247.60 201.29 L247.85 201.21 L248.10 201.15 L248.35 201.01 L248.60 200.88 L248.85 200.82 L249.10 200.72 L249.35 200.69 L249.60 200.59 L249.85 200.57 L250.10 200.45 L250.35 200.32 L250.60 200.26 L250.85 200.18 L251.10 200.10 L251.35 200.10 L251.60 200.01 L251.85 200.01 L252.10 200.03 L252.35 200.00 L252.60 199.99 L252.85 200.06 L253.10 200.09 L253.35 200.06 L253.60 200.03 L253.85 200.03 L254.10 200.08 L254.35 200.10 L254.60 200.22 L254.85 200.30 L255.10 200.37 L255.35 200.47 L255.60 200.63 L255.85 200.68 L256.10 200.71 L256.35 200.77 L256.60 200.84 L256.85 200.99 L257.10 201.10 L257.35 201.15 L257.60 201.17 L257.85 201.17 L258.10 201.18 L258.35 201.31 L258.60 201.39 L258.85 201.40 L259.10 201.47 L259.35 201.45 L259.60 201.51 L259.85 201.53 L260.10 201.51 L260.35 201.60 L260.60 201.67 L260.85 201.70 L261.10 201.68 L261.35 201.73 L261.60 201.74 L261.85 201.79 L262.10 201.74 L262.35 201.82 L262.60 201.75 L262.85 201.73 L263.10 201.73 L263.35 201.70 L263.60 201.66 L263.85 201.71 L264.10 201.80 L264.35 201.78 L264.60 201.74 L264.85 201.77 L265.10 201.73 L265.35 201.71 L265.60 201.74 L265.85 201.72 L266.10 201.65 L266.35 201.58 L266.60 201.58 L266.85 201.65 L267.10 201.69 L267.35 201.59 L267.60 201.56 L267.85 201.52 L268.10 201.43 L268.35 201.42 L268.60 201.38 L268.85 201.38 L269.10 201.28 L269.35 201.29 L269.60 201.26 L269.85 201.17 L270.10 201.04 L270.35 200.95 L270.60 200.82 L270.85 200.76 L271.10 200.71 L271.35 200.62 L271.60 200.60 L271.85 200.42 L272.10 200.35 L272.35 200.29 L272.60 200.12 L272.85 200.00 L273.10 199.84 L273.35 199.78 L273.60 199.74 L273.85 199.65 L274.10 199.62 L274.35 199.55 L274.60 199.56 L274.85 199.50 L275.10 199.57 L275.35 199.57 L275.60 199.52 L275.85 199.51 L276.10 199.61 L276.35 199.74 L276.60 199.84 L276.85 199.87 L277.10 200.02 L277.35 200.15 L277.60 200.18 L277.85 200.27 L278.10 200.40 L278.35 200.42 L278.60 200.46 L278.85 200.56 L279.10 200.73 L279.35 200.90 L279.60 200.96 L279.85 201.10 L280.10 201.22 L280.35 201.33 L280.60 201.40 L280.85 201.51 L281.10 201.57 L281.35 201.67 L281.60 201.71 L281.85 201.68 L282.10 201.72 L282.35 201.74 L282.60 201.75 L282.85 201.76 L283.10 201.79 L283.35 201.84 L283.60 201.82 L283.85 201.82 L284.10 201.85 L284.35 201.89 L284.60 201.90 L284.85 201.95 L285.10 201.93 L285.35 201.96 L285.60 201.95 L285.85 202.01 L286.10 202.06 L286.35 202.11 L286.60 202.12 L286.85 202.09 L287.10 202.16 L287.35 202.16 L287.60 202.15 L287.85 202.12 L288.10 202.11 L288.35 202.16 L288.60 202.21 L288.85 202.20 L289.10 202.24 L289.35 202.19 L289.60 202.19 L289.85 202.17 L290.10 202.15 L290.35 202.14 L290.60 202.19 L290.85 202.23 L291.10 202.19 L291.35 202.15 L291.60 202.21 L291.85 202.24 L292.10 202.26 L292.35 202.28 L292.60 202.31 L292.85 202.26 L293.10 202.20 L293.35 202.19 L293.60 202.13 L293.85 202.22 L294.10 202.23 L294.35 202.26 L294.60 202.33 L294.85 202.37 L295.10 202.31 L295.35 202.28 L295.60 202.22 L295.85 202.27 L296.10 202.31 L296.35 202.30 L296.60 202.28 L296.85 202.25 L297.10 202.25 L297.35 202.29 L297.60 202.34 L297.85 202.39 L298.10 202.43 L298.35 202.40 L298.60 202.37 L298.85 202.33 L299.10 202.39 L299.35 202.33 L299.60 202.27 L299.85 202.24 L300.10 202.31 L300.35 202.36 L300.60 202.32 L300.85 202.37 L301.10 202.41 L301.35 202.38 L301.60 202.32 L301.85 202.36 L302.10 202.33 L302.35 202.26 L302.60 202.32 L302.85 202.30 L303.10 202.28 L303.35 202.29 L303.60 202.25 L303.85 202.18 L304.10 202.17 L304.35 202.16 L304.60 202.10 L304.85 202.10 L305.10 202.15 L305.35 202.13 L305.60 202.17 L305.85 202.18 L306.10 202.13 L306.35 202.05 L306.60 202.08 L306.85 202.08 L307.10 202.03 L307.35 201.96 L307.60 201.98 L307.85 201.98 L308.10 201.85 L308.35 201.73 L308.60 201.52 L308.85 201.16 L309.10 200.58 L309.35 199.85 L309.60 198.99 L309.85 198.19 L310.10 197.89 L310.35 198.31 L310.60 199.16 L310.85 200.01 L311.10 200.68 L311.35 201.14 L311.60 201.52 L311.85 201.66 L312.10 201.87 L312.35 201.92 L312.60 202.04 L312.85 202.04 L313.10 202.09 L313.35 202.10 L313.60 202.05 L313.85 202.13 L314.10 202.19 L314.35 202.16 L314.60 202.21 L314.85 202.21 L315.10 202.28 L315.35 202.20 L315.60 202.18 L315.85 202.14 L316.10 202.16 L316.35 202.20 L316.60 202.24 L316.85 202.22 L317.10 202.18 L317.35 202.19 L317.60 202.10 L317.85 202.03 L318.10 202.03 L318.35 201.97 L318.60 201.97 L318.85 201.79 L319.10 201.64 L319.35 201.38 L319.60 201.00 L319.85 200.52 L320.10 199.91 L320.35 199.21 L320.60 198.50 L320.85 197.99 L321.10 197.93 L321.35 198.43 L321.60 199.17 L321.85 199.98 L322.10 200.53 L322.35 201.01 L322.60 201.35 L322.85 201.57 L323.10 201.79 L323.35 201.85 L323.60 201.99 L323.85 202.02 L324.10 202.04 L324.35 202.10 L324.60 202.14 L324.85 202.13 L325.10 202.09 L325.35 202.18 L325.60 202.18 L325.85 202.13 L326.10 202.18 L326.35 202.20 L326.60 202.18 L326.85 202.17 L327.10 202.24 L327.35 202.22 L327.60 202.21 L327.85 202.29 L328.10 202.26 L328.35 202.24 L328.60 202.19 L328.85 202.22 L329.10 202.25 L329.35 202.24 L329.60 202.22 L329.85 202.17 L330.10 202.22 L330.35 202.20 L330.60 202.24 L330.85 202.20 L331.10 202.21 L331.35 202.11 L331.60 202.04 L331.85 202.08 L332.10 202.05 L332.35 201.99 L332.60 201.88 L332.85 201.72 L333.10 201.48 L333.35 201.18 L333.60 200.91 L333.85 200.62 L334.10 200.28 L334.35 200.13 L334.60 200.09 L334.85 200.33 L335.10 200.59 L335.35 200.93 L335.60 201.20 L335.85 201.45 L336.10 201.59 L336.35 201.74 L336.60 201.86 L336.85 201.89 L337.10 201.92 L337.35 202.00 L337.60 202.05 L337.85 202.09 L338.10 202.15 L338.35 202.16 L338.60 202.12 L338.85 202.11 L339.10 202.16 L339.35 202.16 L339.60 202.18 L339.85 202.13 L340.10 202.08 L340.35 202.11 L340.60 202.09 L340.85 202.01 L341.10 201.84 L341.35 201.72 L341.60 201.48 L341.85 201.36 L342.10 201.21 L342.35 201.03 L342.60 200.81 L342.85 200.79 L343.10 200.77 L343.35 200.96 L343.60 201.14 L343.85 201.26 L344.10 201.50 L344.35 201.64 L344.60 201.80 L344.85 201.90 L345.10 201.96 L345.35 202.04 L345.60 202.00 L345.85 202.05 L346.10 202.00 L346.35 201.88 L346.60 201.81 L346.85 201.67 L347.10 201.49 L347.35 201.36 L347.60 201.09 L347.85 200.75 L348.10 200.36 L348.35 199.92 L348.60 199.59 L348.85 199.36 L349.10 199.37 L349.35 199.66 L349.60 200.03 L349.85 200.51 L350.10 200.88 L350.35 201.28 L350.60 201.58 L350.85 201.80 L351.10 201.89 L351.35 201.92 L351.60 202.07 L351.85 202.12 L352.10 202.17 L352.35 202.25 L352.60 202.21 L352.85 202.25 L353.10 202.26 L353.35 202.31 L353.60 202.30 L353.85 202.26 L354.10 202.33 L354.35 202.30 L354.60 202.34 L354.85 202.38 L355.10 202.34 L355.35 202.36 L355.60 202.34 L355.85 202.30 L356.10 202.26 L356.35 202.34 L356.60 202.32 L356.85 202.32 L357.10 202.32 L357.35 202.25 L357.60 202.30 L357.85 202.34 L358.10 202.40 L358.35 202.37 L358.60 202.32 L358.85 202.30 L359.10 202.34 L359.35 202.36 L359.60 202.35 L359.85 202.35 L360.10 202.30 L360.35 202.37 L360.60 202.36 L360.85 202.36 L361.10 202.40 L361.35 202.34 L361.60 202.38 L361.85 202.35 L362.10 202.39 L362.35 202.33 L362.60 202.29 L362.85 202.32 L363.10 202.32 L363.35 202.31 L363.60 202.32 L363.85 202.28 L364.10 202.28 L364.35 202.22 L364.60 202.28 L364.85 202.25 L365.10 202.31 L365.35 202.33 L365.60 202.34 L365.85 202.36 L366.10 202.30 L366.35 202.35 L366.60 202.32 L366.85 202.37 L367.10 202.41 L367.35 202.42 L367.60 202.46 L367.85 202.43 L368.10 202.44 L368.35 202.49 L368.60 202.42 L368.85 202.35 L369.10 202.33 L369.35 202.33 L369.60 202.28 L369.85 202.24 L370.10 202.31 L370.35 202.29 L370.60 202.24 L370.85 202.20 L371.10 202.23 L371.35 202.20 L371.60 202.21 L371.85 202.23 L372.10 202.23 L372.35 202.24 L372.60 202.30 L372.85 202.22 L373.10 202.29 L373.35 202.25 L373.60 202.18 L373.85 202.23 L374.10 202.25 L374.35 202.25 L374.60 202.21 L374.85 202.25 L375.10 202.22 L375.35 202.25 L375.60 202.20 L375.85 202.20 L376.10 202.21 L376.35 202.18 L376.60 202.16 L376.85 202.07 L377.10 202.08 L377.35 202.08 L377.60 202.00 L377.85 201.97 L378.10 201.97 L378.35 201.86 L378.60 201.86 L378.85 201.85 L379.10 201.71 L379.35 201.60 L379.60 201.49 L379.85 201.41 L380.10 201.33 L380.35 201.33 L380.60 201.32 L380.85 201.33 L381.10 201.39 L381.35 201.45 L381.60 201.57 L381.85 201.68 L382.10 201.68 L382.35 201.70 L382.60 201.69 L382.85 201.73 L383.10 201.73 L383.35 201.82 L383.60 201.90 L383.85 202.00 L384.10 201.97 L384.35 201.91 L384.60 201.96 L384.85 201.95 L385.10 202.02 L385.35 201.99 L385.60 201.94 L385.85 201.87 L386.10 201.92 L386.35 201.90 L386.60 201.86 L386.85 201.82 L387.10 201.82 L387.35 201.83 L387.60 201.77 L387.85 201.66 L388.10 201.59 L388.35 201.59 L388.60 201.50 L388.85 201.46 L389.10 201.38 L389.35 201.29 L389.60 201.22 L389.85 201.10 L390.10 201.02 L390.35 200.99 L390.60 200.84 L390.85 200.75 L391.10 200.75 L391.35 200.76 L391.60 200.63 L391.85 200.62 L392.10 200.62 L392.35 200.67 L392.60 200.67 L392.85 200.64 L393.10 200.66 L393.35 200.75 L393.60 200.86 L393.85 200.88 L394.10 200.99 L394.35 201.09 L394.60 201.20 L394.85 201.20 L395.10 201.27 L395.35 201.33 L395.60 201.43 L395.85 201.48 L396.10 201.50 L396.35 201.60 L396.60 201.63 L396.85 201.74 L397.10 201.76 L397.35 201.82 L397.60 201.92 L397.85 201.89 L398.10 201.97 L398.35 201.94 L398.60 202.04 L398.85 201.99 L399.10 202.06 L399.35 202.06 L399.60 202.04 L399.85 202.05 L400.10 202.08 L400.35 202.09 L400.60 202.06 L400.85 202.09 L401.10 202.09 L401.35 202.19 L401.60 202.18 L401.85 202.18 L402.10 202.16 L402.35 202.25 L402.60 202.23 L402.85 202.26 L403.10 202.31 L403.35 202.29 L403.60 202.33 L403.85 202.30 L404.10 202.24 L404.35 202.18 L404.60 202.19 L404.85 202.27 L405.10 202.23 L405.35 202.23 L405.60 202.29 L405.85 202.26 L406.10 202.22 L406.35 202.24 L406.60 202.24 L406.85 202.32 L407.10 202.38 L407.35 202.33 L407.60 202.34 L407.85 202.33 L408.10 202.26 L408.35 202.26 L408.60 202.34 L408.85 202.31 L409.10 202.33 L409.35 202.36 L409.60 202.29 L409.85 202.37 L410.10 202.30 L410.35 202.28 L410.60 202.32 L410.85 202.26 L411.10 202.25 L411.35 202.21 L411.60 202.23 L411.85 202.18 L412.10 202.15 L412.35 202.14 L412.60 202.11 L412.85 202.09 L413.10 202.08 L413.35 202.13 L413.60 202.11 L413.85 202.19 L414.10 202.21 L414.35 202.19 L414.60 202.18 L414.85 202.26 L415.10 202.21 L415.35 202.27 L415.60 202.22 L415.85 202.31 L416.10 202.30 L416.35 202.33 L416.60 202.39 L416.85 202.33 L417.10 202.27 L417.35 202.31 L417.60 202.33 L417.85 202.37 L418.10 202.34 L418.35 202.34 L418.60 202.30 L418.85 202.30 L419.10 202.28 L419.35 202.31 L419.60 202.29 L419.85 202.27 L420.10 202.30 L420.35 202.25 L420.60 202.32 L420.85 202.32 L421.10 202.29 L421.35 202.25 L421.60 202.27 L421.85 202.28 L422.10 202.33 L422.35 202.32 L422.60 202.31 L422.85 202.38 L423.10 202.35 L423.35 202.42 L423.60 202.48 L423.85 202.54 L424.10 202.58 L424.35 202.51 L424.60 202.54 L424.85 202.53 L425.10 202.47 L425.35 202.53 L425.60 202.53 L425.85 202.55 L426.10 202.53 L426.35 202.45 L426.60 202.49 L426.85 202.43 L427.10 202.38 L427.35 202.40 L427.60 202.35 L427.85 202.35 L428.10 202.39 L428.35 202.33 L428.60 202.36 L428.85 202.30 L429.10 202.31 L429.35 202.34 L429.60 202.38 L429.85 202.31 L430.10 202.28 L430.35 202.36 L430.60 202.35 L430.85 202.34 L431.10 202.33 L431.35 202.37 L431.60 202.41 L431.85 202.43 L432.10 202.40 L432.35 202.41 L432.60 202.41 L432.85 202.36 L433.10 202.43" fill="none" stroke="#12c964" stroke-width="2.5" stroke-linejoin="round" stroke-linecap="round"/>
<path d="M68.60 260.78 L68.85 260.82 L69.10 260.89 L69.35 260.87 L69.60 260.92 L69.85 260.87 L70.10 260.90 L70.35 260.93 L70.60 260.98 L70.85 261.02 L71.10 261.06 L71.35 261.00 L71.60 261.03 L71.85 261.01 L72.10 260.98 L72.35 260.95 L72.60 261.00 L72.85 261.05 L73.10 261.09 L73.35 261.11 L73.60 261.04 L73.85 260.99 L74.10 261.01 L74.35 260.97 L74.60 260.96 L74.85 260.92 L75.10 260.90 L75.35 260.96 L75.60 260.94 L75.85 261.02 L76.10 261.02 L76.35 261.09 L76.60 261.07 L76.85 261.05 L77.10 261.06 L77.35 261.01 L77.60 261.03 L77.85 261.04 L78.10 261.00 L78.35 261.09 L78.60 261.10 L78.85 261.05 L79.10 261.16 L79.35 261.14 L79.60 261.13 L79.85 261.09 L80.10 261.06 L80.35 261.14 L80.60 261.18 L80.85 261.21 L81.10 261.20 L81.35 261.20 L81.60 261.30 L81.85 261.30 L82.10 261.39 L82.35 261.46 L82.60 261.40 L82.85 261.47 L83.10 261.40 L83.35 261.44 L83.60 261.50 L83.85 261.53 L84.10 261.54 L84.35 261.59 L84.60 261.53 L84.85 261.54 L85.10 261.51 L85.35 261.51 L85.60 261.48 L85.85 261.53 L86.10 261.56 L86.35 261.61 L86.60 261.64 L86.85 261.66 L87.10 261.72 L87.35 261.76 L87.60 261.76 L87.85 261.73 L88.10 261.79 L88.35 261.77 L88.60 261.70 L88.85 261.69 L89.10 261.73 L89.35 261.80 L89.60 261.82 L89.85 261.85 L90.10 261.91 L90.35 261.94 L90.60 261.92 L90.85 261.90 L91.10 261.93 L91.35 261.90 L91.60 261.84 L91.85 261.87 L92.10 261.92 L92.35 261.88 L92.60 261.92 L92.85 261.98 L93.10 261.92 L93.35 261.87 L93.60 261.89 L93.85 261.88 L94.10 261.97 L94.35 262.05 L94.60 262.04 L94.85 262.08 L95.10 262.10 L95.35 262.04 L95.60 262.12 L95.85 262.06 L96.10 262.01 L96.35 262.01 L96.60 261.96 L96.85 261.98 L97.10 261.99 L97.35 262.08 L97.60 262.08 L97.85 262.15 L98.10 262.20 L98.35 262.21 L98.60 262.17 L98.85 262.15 L99.10 262.16 L99.35 262.15 L99.60 262.19 L99.85 262.20 L100.10 262.18 L100.35 262.20 L100.60 262.28 L100.85 262.22 L101.10 262.20 L101.35 262.13 L101.60 262.08 L101.85 262.03 L102.10 262.05 L102.35 262.12 L102.60 262.17 L102.85 262.24 L103.10 262.29 L103.35 262.29 L103.60 262.29 L103.85 262.21 L104.10 262.19 L104.35 262.16 L104.60 262.18 L104.85 262.12 L105.10 262.14 L105.35 262.13 L105.60 262.14 L105.85 262.14 L106.10 262.09 L106.35 262.14 L106.60 262.19 L106.85 262.21 L107.10 262.15 L107.35 262.17 L107.60 262.23 L107.85 262.29 L108.10 262.32 L108.35 262.23 L108.60 262.27 L108.85 262.28 L109.10 262.23 L109.35 262.28 L109.60 262.31 L109.85 262.34 L110.10 262.27 L110.35 262.26 L110.60 262.22 L110.85 262.17 L111.10 262.20 L111.35 262.20 L111.60 262.16 L111.85 262.15 L112.10 262.20 L112.35 262.18 L112.60 262.22 L112.85 262.20 L113.10 262.24 L113.35 262.13 L113.60 262.09 L113.85 262.07 L114.10 262.08 L114.35 262.12 L114.60 262.09 L114.85 262.04 L115.10 262.02 L115.35 261.98 L115.60 261.97 L115.85 261.98 L116.10 261.85 L116.35 261.77 L116.60 261.78 L116.85 261.65 L117.10 261.64 L117.35 261.51 L117.60 261.47 L117.85 261.44 L118.10 261.31 L118.35 261.21 L118.60 261.07 L118.85 260.99 L119.10 260.87 L119.35 260.73 L119.60 260.54 L119.85 260.35 L120.10 260.19 L120.35 259.96 L120.60 259.69 L120.85 259.25 L121.10 258.77 L121.35 258.16 L121.60 257.38 L121.85 256.45 L122.10 255.09 L122.35 253.34 L122.60 251.02 L122.85 247.95 L123.10 243.81 L123.35 238.71 L123.60 232.70 L123.85 226.17 L124.10 219.82 L124.35 215.40 L124.60 214.28 L124.85 217.03 L125.10 222.58 L125.35 229.09 L125.60 235.48 L125.85 241.05 L126.10 245.62 L126.35 249.24 L126.60 252.07 L126.85 254.17 L127.10 255.66 L127.35 256.87 L127.60 257.75 L127.85 258.37 L128.10 258.97 L128.35 259.45 L128.60 259.76 L128.85 260.13 L129.10 260.43 L129.35 260.59 L129.60 260.70 L129.85 260.93 L130.10 261.13 L130.35 261.18 L130.60 261.34 L130.85 261.48 L131.10 261.58 L131.35 261.70 L131.60 261.83 L131.85 261.84 L132.10 261.94 L132.35 262.03 L132.60 262.03 L132.85 262.08 L133.10 262.13 L133.35 262.20 L133.60 262.22 L133.85 262.20 L134.10 262.18 L134.35 262.20 L134.60 262.17 L134.85 262.25 L135.10 262.33 L135.35 262.29 L135.60 262.33 L135.85 262.37 L136.10 262.32 L136.35 262.37 L136.60 262.42 L136.85 262.39 L137.10 262.33 L137.35 262.32 L137.60 262.38 L137.85 262.38 L138.10 262.44 L138.35 262.39 L138.60 262.35 L138.85 262.34 L139.10 262.42 L139.35 262.38 L139.60 262.33 L139.85 262.39 L140.10 262.35 L140.35 262.40 L140.60 262.35 L140.85 262.34 L141.10 262.39 L141.35 262.46 L141.60 262.46 L141.85 262.46 L142.10 262.40 L142.35 262.40 L142.60 262.38 L142.85 262.45 L143.10 262.49 L143.35 262.54 L143.60 262.55 L143.85 262.58 L144.10 262.52 L144.35 262.51 L144.60 262.48 L144.85 262.46 L145.10 262.51 L145.35 262.47 L145.60 262.46 L145.85 262.44 L146.10 262.52 L146.35 262.55 L146.60 262.55 L146.85 262.53 L147.10 262.60 L147.35 262.66 L147.60 262.64 L147.85 262.64 L148.10 262.69 L148.35 262.63 L148.60 262.59 L148.85 262.53 L149.10 262.54 L149.35 262.58 L149.60 262.53 L149.85 262.53 L150.10 262.61 L150.35 262.60 L150.60 262.58 L150.85 262.63 L151.10 262.69 L151.35 262.65 L151.60 262.59 L151.85 262.61 L152.10 262.64 L152.35 262.70 L152.60 262.70 L152.85 262.66 L153.10 262.65 L153.35 262.61 L153.60 262.60 L153.85 262.59 L154.10 262.65 L154.35 262.71 L154.60 262.75 L154.85 262.72 L155.10 262.77 L155.35 262.69 L155.60 262.74 L155.85 262.74 L156.10 262.77 L156.35 262.73 L156.60 262.79 L156.85 262.69 L157.10 262.72 L157.35 262.75 L157.60 262.71 L157.85 262.74 L158.10 262.68 L158.35 262.70 L158.60 262.68 L158.85 262.65 L159.10 262.60 L159.35 262.64 L159.60 262.67 L159.85 262.60 L160.10 262.67 L160.35 262.62 L160.60 262.59 L160.85 262.58 L161.10 262.59 L161.35 262.65 L161.60 262.71 L161.85 262.71 L162.10 262.67 L162.35 262.60 L162.60 262.54 L162.85 262.55 L163.10 262.57 L163.35 262.56 L163.60 262.64 L163.85 262.62 L164.10 262.59 L164.35 262.58 L164.60 262.53 L164.85 262.60 L165.10 262.61 L165.35 262.62 L165.60 262.60 L165.85 262.56 L166.10 262.54 L166.35 262.54 L166.60 262.54 L166.85 262.62 L167.10 262.62 L167.35 262.57 L167.60 262.51 L167.85 262.46 L168.10 262.46 L168.35 262.52 L168.60 262.58 L168.85 262.54 L169.10 262.59 L169.35 262.58 L169.60 262.58 L169.85 262.59 L170.10 262.51 L170.35 262.46 L170.60 262.50 L170.85 262.54 L171.10 262.52 L171.35 262.59 L171.60 262.63 L171.85 262.59 L172.10 262.52 L172.35 262.53 L172.60 262.56 L172.85 262.52 L173.10 262.45 L173.35 262.46 L173.60 262.41 L173.85 262.46 L174.10 262.49 L174.35 262.46 L174.60 262.46 L174.85 262.43 L175.10 262.40 L175.35 262.37 L175.60 262.44 L175.85 262.44 L176.10 262.48 L176.35 262.46 L176.60 262.51 L176.85 262.51 L177.10 262.53 L177.35 262.50 L177.60 262.50 L177.85 262.44 L178.10 262.50 L178.35 262.51 L178.60 262.49 L178.85 262.48 L179.10 262.39 L179.35 262.33 L179.60 262.26 L179.85 262.28 L180.10 262.15 L180.35 262.08 L180.60 262.04 L180.85 261.92 L181.10 261.72 L181.35 261.36 L181.60 260.88 L181.85 260.37 L182.10 259.75 L182.35 259.31 L182.60 259.14 L182.85 259.46 L183.10 260.00 L183.35 260.62 L183.60 261.19 L183.85 261.54 L184.10 261.88 L184.35 261.98 L184.60 262.16 L184.85 262.17 L185.10 262.24 L185.35 262.26 L185.60 262.34 L185.85 262.33 L186.10 262.31 L186.35 262.37 L186.60 262.39 L186.85 262.44 L187.10 262.44 L187.35 262.37 L187.60 262.42 L187.85 262.38 L188.10 262.38 L188.35 262.31 L188.60 262.29 L188.85 262.34 L189.10 262.39 L189.35 262.41 L189.60 262.40 L189.85 262.43 L190.10 262.45 L190.35 262.40 L190.60 262.40 L190.85 262.41 L191.10 262.44 L191.35 262.38 L191.60 262.34 L191.85 262.32 L192.10 262.25 L192.35 262.24 L192.60 262.28 L192.85 262.29 L193.10 262.23 L193.35 262.26 L193.60 262.19 L193.85 262.22 L194.10 262.16 L194.35 262.08 L194.60 262.04 L194.85 262.03 L195.10 261.98 L195.35 262.01 L195.60 262.03 L195.85 261.94 L196.10 261.90 L196.35 261.83 L196.60 261.72 L196.85 261.52 L197.10 261.39 L197.35 261.17 L197.60 260.67 L197.85 260.01 L198.10 258.98 L198.35 257.36 L198.60 255.04 L198.85 252.05 L199.10 248.80 L199.35 247.19 L199.60 248.37 L199.85 251.36 L200.10 254.57 L200.35 256.98 L200.60 258.63 L200.85 259.66 L201.10 260.34 L201.35 260.72 L201.60 260.98 L201.85 261.17 L202.10 261.36 L202.35 261.49 L202.60 261.57 L202.85 261.66 L203.10 261.77 L203.35 261.86 L203.60 261.87 L203.85 261.96 L204.10 262.02 L204.35 262.03 L204.60 262.03 L204.85 262.00 L205.10 261.94 L205.35 262.00 L205.60 262.01 L205.85 261.94 L206.10 261.99 L206.35 262.03 L206.60 261.93 L206.85 261.94 L207.10 261.87 L207.35 261.84 L207.60 261.86 L207.85 261.78 L208.10 261.72 L208.35 261.67 L208.60 261.52 L208.85 261.40 L209.10 261.20 L209.35 261.01 L209.60 260.61 L209.85 260.20 L210.10 259.65 L210.35 259.20 L210.60 258.98 L210.85 259.09 L211.10 259.48 L211.35 259.85 L211.60 260.26 L211.85 260.46 L212.10 260.67 L212.35 260.83 L212.60 260.81 L212.85 260.77 L213.10 260.79 L213.35 260.74 L213.60 260.73 L213.85 260.60 L214.10 260.47 L214.35 260.40 L214.60 260.21 L214.85 260.09 L215.10 259.94 L215.35 259.64 L215.60 259.38 L215.85 259.16 L216.10 258.77 L216.35 258.47 L216.60 258.12 L216.85 257.73 L217.10 257.28 L217.35 256.72 L217.60 256.27 L217.85 255.65 L218.10 255.12 L218.35 254.56 L218.60 253.92 L218.85 253.35 L219.10 252.74 L219.35 252.22 L219.60 251.64 L219.85 251.27 L220.10 250.91 L220.35 250.73 L220.60 250.61 L220.85 250.68 L221.10 250.79 L221.35 251.06 L221.60 251.36 L221.85 251.83 L222.10 252.30 L222.35 252.93 L222.60 253.55 L222.85 254.14 L223.10 254.81 L223.35 255.44 L223.60 256.05 L223.85 256.49 L224.10 257.01 L224.35 257.49 L224.60 257.92 L224.85 258.23 L225.10 258.66 L225.35 258.97 L225.60 259.28 L225.85 259.59 L226.10 259.79 L226.35 259.94 L226.60 260.21 L226.85 260.35 L227.10 260.45 L227.35 260.55 L227.60 260.77 L227.85 260.93 L228.10 260.99 L228.35 261.03 L228.60 261.19 L228.85 261.29 L229.10 261.37 L229.35 261.38 L229.60 261.43 L229.85 261.56 L230.10 261.53 L230.35 261.57 L230.60 261.55 L230.85 261.68 L231.10 261.66 L231.35 261.77 L231.60 261.85 L231.85 261.91 L232.10 261.86 L232.35 261.91 L232.60 261.93 L232.85 261.95 L233.10 261.91 L233.35 261.94 L233.60 262.01 L233.85 261.97 L234.10 262.05 L234.35 262.05 L234.60 262.03 L234.85 262.01 L235.10 262.02 L235.35 262.07 L235.60 262.10 L235.85 262.17 L236.10 262.17 L236.35 262.18 L236.60 262.26 L236.85 262.21 L237.10 262.14 L237.35 262.12 L237.60 262.11 L237.85 262.08 L238.10 262.09 L238.35 262.04 L238.60 262.14 L238.85 262.15 L239.10 262.23 L239.35 262.26 L239.60 262.30 L239.85 262.33 L240.10 262.29 L240.35 262.32 L240.60 262.27 L240.85 262.28 L241.10 262.30 L241.35 262.34 L241.60 262.28 L241.85 262.26 L242.10 262.31 L242.35 262.36 L242.60 262.42 L242.85 262.34 L243.10 262.29 L243.35 262.23 L243.60 262.28 L243.85 262.32 L244.10 262.34 L244.35 262.37 L244.60 262.37 L244.85 262.37 L245.10 262.42 L245.35 262.42 L245.60 262.43 L245.85 262.42 L246.10 262.40 L246.35 262.43 L246.60 262.42 L246.85 262.34 L247.10 262.33 L247.35 262.31 L247.60 262.30 L247.85 262.31 L248.10 262.28 L248.35 262.27 L248.60 262.26 L248.85 262.24 L249.10 262.32 L249.35 262.25 L249.60 262.18 L249.85 262.23 L250.10 262.22 L250.35 262.22 L250.60 262.24 L250.85 262.22 L251.10 262.19 L251.35 262.13 L251.60 262.20 L251.85 262.27 L252.10 262.24 L252.35 262.23 L252.60 262.21 L252.85 262.14 L253.10 262.21 L253.35 262.26 L253.60 262.22 L253.85 262.18 L254.10 262.21 L254.35 262.25 L254.60 262.24 L254.85 262.21 L255.10 262.17 L255.35 262.21 L255.60 262.26 L255.85 262.29 L256.10 262.21 L256.35 262.21 L256.60 262.27 L256.85 262.28 L257.10 262.25 L257.35 262.17 L257.60 262.09 L257.85 262.12 L258.10 262.04 L258.35 262.09 L258.60 262.10 L258.85 262.08 L259.10 262.13 L259.35 262.17 L259.60 262.15 L259.85 262.06 L260.10 262.05 L260.35 262.02 L260.60 261.96 L260.85 262.00 L261.10 262.01 L261.35 261.92 L261.60 261.85 L261.85 261.81 L262.10 261.80 L262.35 261.76 L262.60 261.73 L262.85 261.75 L263.10 261.67 L263.35 261.68 L263.60 261.62 L263.85 261.65 L264.10 261.67 L264.35 261.59 L264.60 261.55 L264.85 261.43 L265.10 261.37 L265.35 261.34 L265.60 261.30 L265.85 261.21 L266.10 261.08 L266.35 260.97 L266.60 260.92 L266.85 260.81 L267.10 260.72 L267.35 260.68 L267.60 260.67 L267.85 260.59 L268.10 260.46 L268.35 260.38 L268.60 260.25 L268.85 260.20 L269.10 260.04 L269.35 259.90 L269.60 259.79 L269.85 259.74 L270.10 259.57 L270.35 259.41 L270.60 259.24 L270.85 259.09 L271.10 258.96 L271.35 258.84 L271.60 258.77 L271.85 258.64 L272.10 258.53 L272.35 258.40 L272.60 258.34 L272.85 258.29 L273.10 258.17 L273.35 258.13 L273.60 258.00 L273.85 257.99 L274.10 257.92 L274.35 257.88 L274.60 257.82 L274.85 257.75 L275.10 257.69 L275.35 257.77 L275.60 257.77 L275.85 257.84 L276.10 257.88 L276.35 257.95 L276.60 257.98 L276.85 258.03 L277.10 258.12 L277.35 258.26 L277.60 258.39 L277.85 258.44 L278.10 258.61 L278.35 258.74 L278.60 258.81 L278.85 258.92 L279.10 259.03 L279.35 259.23 L279.60 259.37 L279.85 259.48 L280.10 259.58 L280.35 259.69 L280.60 259.79 L280.85 259.90 L281.10 260.07 L281.35 260.24 L281.60 260.37 L281.85 260.53 L282.10 260.63 L282.35 260.65 L282.60 260.67 L282.85 260.71 L283.10 260.77 L283.35 260.87 L283.60 261.00 L283.85 261.09 L284.10 261.15 L284.35 261.17 L284.60 261.31 L284.85 261.40 L285.10 261.42 L285.35 261.40 L285.60 261.53 L285.85 261.53 L286.10 261.62 L286.35 261.60 L286.60 261.66 L286.85 261.67 L287.10 261.77 L287.35 261.76 L287.60 261.73 L287.85 261.72 L288.10 261.80 L288.35 261.90 L288.60 261.94 L288.85 261.98 L289.10 261.96 L289.35 261.93 L289.60 261.89 L289.85 261.99 L290.10 261.93 L290.35 261.97 L290.60 261.97 L290.85 261.94 L291.10 261.96 L291.35 262.05 L291.60 262.02 L291.85 261.98 L292.10 262.03 L292.35 262.07 L292.60 262.08 L292.85 262.04 L293.10 262.11 L293.35 262.06 L293.60 262.02 L293.85 262.00 L294.10 262.02 L294.35 262.03 L294.60 262.05 L294.85 262.10 L295.10 262.15 L295.35 262.14 L295.60 262.05 L295.85 262.10 L296.10 262.01 L296.35 261.96 L296.60 261.89 L296.85 261.88 L297.10 261.86 L297.35 261.71 L297.60 261.54 L297.85 261.40 L298.10 261.13 L298.35 260.69 L298.60 260.28 L298.85 259.92 L299.10 259.70 L299.35 259.76 L299.60 260.16 L299.85 260.59 L300.10 260.95 L300.35 261.25 L300.60 261.50 L300.85 261.64 L301.10 261.76 L301.35 261.88 L301.60 261.96 L301.85 262.01 L302.10 262.10 L302.35 262.07 L302.60 262.07 L302.85 262.17 L303.10 262.24 L303.35 262.31 L303.60 262.35 L303.85 262.34 L304.10 262.37 L304.35 262.37 L304.60 262.30 L304.85 262.25 L305.10 262.19 L305.35 262.26 L305.60 262.23 L305.85 262.21 L306.10 262.22 L306.35 262.15 L306.60 262.18 L306.85 262.22 L307.10 262.24 L307.35 262.27 L307.60 262.19 L307.85 262.09 L308.10 262.06 L308.35 261.99 L308.60 261.83 L308.85 261.60 L309.10 261.29 L309.35 261.01 L309.60 260.64 L309.85 260.39 L310.10 260.25 L310.35 260.38 L310.60 260.71 L310.85 261.11 L311.10 261.48 L311.35 261.69 L311.60 261.89 L311.85 261.98 L312.10 262.12 L312.35 262.20 L312.60 262.22 L312.85 262.21 L313.10 262.19 L313.35 262.25 L313.60 262.29 L313.85 262.25 L314.10 262.18 L314.35 262.13 L314.60 262.21 L314.85 262.13 L315.10 262.17 L315.35 262.16 L315.60 262.15 L315.85 262.14 L316.10 262.10 L316.35 262.08 L316.60 261.98 L316.85 262.01 L317.10 261.90 L317.35 261.80 L317.60 261.77 L317.85 261.71 L318.10 261.65 L318.35 261.53 L318.60 261.40 L318.85 261.07 L319.10 260.63 L319.35 260.05 L319.60 259.24 L319.85 257.85 L320.10 255.87 L320.35 253.19 L320.60 249.94 L320.85 247.38 L321.10 247.16 L321.35 249.44 L321.60 252.61 L321.85 255.47 L322.10 257.57 L322.35 259.11 L322.60 260.08 L322.85 260.70 L323.10 261.04 L323.35 261.34 L323.60 261.52 L323.85 261.70 L324.10 261.78 L324.35 261.92 L324.60 262.01 L324.85 262.04 L325.10 262.08 L325.35 262.16 L325.60 262.18 L325.85 262.26 L326.10 262.18 L326.35 262.25 L326.60 262.29 L326.85 262.28 L327.10 262.33 L327.35 262.26 L327.60 262.23 L327.85 262.27 L328.10 262.31 L328.35 262.28 L328.60 262.34 L328.85 262.34 L329.10 262.25 L329.35 262.18 L329.60 262.12 L329.85 262.13 L330.10 262.10 L330.35 262.06 L330.60 262.05 L330.85 261.97 L331.10 262.03 L331.35 262.05 L331.60 262.02 L331.85 261.95 L332.10 261.85 L332.35 261.79 L332.60 261.65 L332.85 261.57 L333.10 261.40 L333.35 261.07 L333.60 260.56 L333.85 259.63 L334.10 258.29 L334.35 256.53 L334.60 254.42 L334.85 252.71 L335.10 252.52 L335.35 253.96 L335.60 256.07 L335.85 257.88 L336.10 259.24 L336.35 260.13 L336.60 260.72 L336.85 261.07 L337.10 261.35 L337.35 261.52 L337.60 261.69 L337.85 261.81 L338.10 261.91 L338.35 261.94 L338.60 262.03 L338.85 262.10 L339.10 262.17 L339.35 262.18 L339.60 262.19 L339.85 262.17 L340.10 262.12 L340.35 262.14 L340.60 262.18 L340.85 262.15 L341.10 262.22 L341.35 262.28 L341.60 262.33 L341.85 262.37 L342.10 262.35 L342.35 262.28 L342.60 262.24 L342.85 262.27 L343.10 262.34 L343.35 262.25 L343.60 262.17 L343.85 262.14 L344.10 262.11 L344.35 262.12 L344.60 262.05 L344.85 262.09 L345.10 262.04 L345.35 262.06 L345.60 261.99 L345.85 261.90 L346.10 261.79 L346.35 261.79 L346.60 261.71 L346.85 261.65 L347.10 261.46 L347.35 261.34 L347.60 261.23 L347.85 261.16 L348.10 261.07 L348.35 260.86 L348.60 260.73 L348.85 260.74 L349.10 260.72 L349.35 260.82 L349.60 260.84 L349.85 260.88 L350.10 261.08 L350.35 261.18 L350.60 261.33 L350.85 261.44 L351.10 261.58 L351.35 261.75 L351.60 261.91 L351.85 262.03 L352.10 262.05 L352.35 262.14 L352.60 262.10 L352.85 262.13 L353.10 262.23 L353.35 262.21 L353.60 262.21 L353.85 262.25 L354.10 262.22 L354.35 262.27 L354.60 262.31 L354.85 262.25 L355.10 262.33 L355.35 262.27 L355.60 262.32 L355.85 262.30 L356.10 262.26 L356.35 262.21 L356.60 262.31 L356.85 262.36 L357.10 262.36 L357.35 262.41 L357.60 262.47 L357.85 262.52 L358.10 262.51 L358.35 262.45 L358.60 262.45 L358.85 262.51 L359.10 262.52 L359.35 262.53 L359.60 262.56 L359.85 262.52 L360.10 262.51 L360.35 262.54 L360.60 262.47 L360.85 262.51 L361.10 262.42 L361.35 262.42 L361.60 262.43 L361.85 262.37 L362.10 262.43 L362.35 262.41 L362.60 262.36 L362.85 262.35 L363.10 262.37 L363.35 262.35 L363.60 262.28 L363.85 262.23 L364.10 262.28 L364.35 262.23 L364.60 262.21 L364.85 262.27 L365.10 262.33 L365.35 262.38 L365.60 262.32 L365.85 262.24 L366.10 262.27 L366.35 262.27 L366.60 262.23 L366.85 262.13 L367.10 262.09 L367.35 262.00 L367.60 261.94 L367.85 261.90 L368.10 261.67 L368.35 261.37 L368.60 261.13 L368.85 260.80 L369.10 260.59 L369.35 260.62 L369.60 260.92 L369.85 261.18 L370.10 261.44 L370.35 261.68 L370.60 261.81 L370.85 261.93 L371.10 262.06 L371.35 262.10 L371.60 262.20 L371.85 262.18 L372.10 262.15 L372.35 262.20 L372.60 262.22 L372.85 262.30 L373.10 262.25 L373.35 262.30 L373.60 262.33 L373.85 262.31 L374.10 262.26 L374.35 262.28 L374.60 262.32 L374.85 262.31 L375.10 262.31 L375.35 262.33 L375.60 262.34 L375.85 262.31 L376.10 262.25 L376.35 262.24 L376.60 262.24 L376.85 262.28 L377.10 262.33 L377.35 262.30 L377.60 262.23 L377.85 262.14 L378.10 262.10 L378.35 262.07 L378.60 261.94 L378.85 261.85 L379.10 261.76 L379.35 261.53 L379.60 261.34 L379.85 261.02 L380.10 260.69 L380.35 260.38 L380.60 260.00 L380.85 259.78 L381.10 259.85 L381.35 259.95 L381.60 260.23 L381.85 260.57 L382.10 260.95 L382.35 261.26 L382.60 261.56 L382.85 261.77 L383.10 261.82 L383.35 261.87 L383.60 261.90 L383.85 261.97 L384.10 261.96 L384.35 262.02 L384.60 262.09 L384.85 262.09 L385.10 262.18 L385.35 262.19 L385.60 262.28 L385.85 262.26 L386.10 262.29 L386.35 262.30 L386.60 262.27 L386.85 262.32 L387.10 262.24 L387.35 262.21 L387.60 262.20 L387.85 262.27 L388.10 262.27 L388.35 262.20 L388.60 262.17 L388.85 262.20 L389.10 262.24 L389.35 262.17 L389.60 262.21 L389.85 262.17 L390.10 262.14 L390.35 262.09 L390.60 262.02 L390.85 262.02 L391.10 261.97 L391.35 261.89 L391.60 261.74 L391.85 261.56 L392.10 261.29 L392.35 261.03 L392.60 260.97 L392.85 260.98 L393.10 261.09 L393.35 261.21 L393.60 261.37 L393.85 261.62 L394.10 261.78 L394.35 261.84 L394.60 261.93 L394.85 262.00 L395.10 262.01 L395.35 262.15 L395.60 262.25 L395.85 262.32 L396.10 262.26 L396.35 262.27 L396.60 262.23 L396.85 262.28 L397.10 262.34 L397.35 262.39 L397.60 262.43 L397.85 262.37 L398.10 262.30 L398.35 262.25 L398.60 262.32 L398.85 262.38 L399.10 262.38 L399.35 262.34 L399.60 262.40 L399.85 262.34 L400.10 262.32 L400.35 262.26 L400.60 262.35 L400.85 262.34 L401.10 262.39 L401.35 262.43 L401.60 262.44 L401.85 262.51 L402.10 262.53 L402.35 262.57 L402.60 262.61 L402.85 262.52 L403.10 262.54 L403.35 262.47 L403.60 262.43 L403.85 262.40 L404.10 262.48 L404.35 262.40 L404.60 262.39 L404.85 262.33 L405.10 262.41 L405.35 262.41 L405.60 262.44 L405.85 262.43 L406.10 262.47 L406.35 262.43 L406.60 262.41 L406.85 262.44 L407.10 262.46 L407.35 262.51 L407.60 262.46 L407.85 262.50 L408.10 262.52 L408.35 262.51 L408.60 262.48 L408.85 262.47 L409.10 262.39 L409.35 262.33 L409.60 262.31 L409.85 262.26 L410.10 262.21 L410.35 262.26 L410.60 262.31 L410.85 262.33 L411.10 262.29 L411.35 262.33 L411.60 262.38 L411.85 262.39 L412.10 262.33 L412.35 262.34 L412.60 262.31 L412.85 262.27 L413.10 262.21 L413.35 262.26 L413.60 262.26 L413.85 262.29 L414.10 262.19 L414.35 262.11 L414.60 262.04 L414.85 261.89 L415.10 261.77 L415.35 261.67 L415.60 261.55 L415.85 261.50 L416.10 261.43 L416.35 261.43 L416.60 261.49 L416.85 261.64 L417.10 261.73 L417.35 261.78 L417.60 261.97 L417.85 262.10 L418.10 262.11 L418.35 262.11 L418.60 262.13 L418.85 262.20 L419.10 262.17 L419.35 262.14 L419.60 262.17 L419.85 262.13 L420.10 262.13 L420.35 262.15 L420.60 262.14 L420.85 262.10 L421.10 262.11 L421.35 262.11 L421.60 262.12 L421.85 262.15 L422.10 262.16 L422.35 262.17 L422.60 262.13 L422.85 262.22 L423.10 262.28 L423.35 262.29 L423.60 262.23 L423.85 262.21 L424.10 262.30 L424.35 262.30 L424.60 262.27 L424.85 262.34 L425.10 262.40 L425.35 262.34 L425.60 262.35 L425.85 262.36 L426.10 262.31 L426.35 262.29 L426.60 262.32 L426.85 262.36 L427.10 262.38 L427.35 262.40 L427.60 262.38 L427.85 262.32 L428.10 262.25 L428.35 262.32 L428.60 262.39 L428.85 262.45 L429.10 262.37 L429.35 262.42 L429.60 262.36 L429.85 262.34 L430.10 262.30 L430.35 262.37 L430.60 262.42 L430.85 262.46 L431.10 262.43 L431.35 262.49 L431.60 262.44 L431.85 262.44 L432.10 262.46 L432.35 262.41 L432.60 262.39 L432.85 262.33 L433.10 262.38" fill="none" stroke="#6e0ad6" stroke-width="2.5" stroke-linejoin="round" stroke-linecap="round"/>
<path d="M68.60 303.77 L68.85 303.74 L69.10 303.73 L69.35 303.78 L69.60 303.82 L69.85 303.84 L70.10 303.91 L70.35 303.95 L70.60 303.91 L70.85 303.93 L71.10 303.89 L71.35 303.87 L71.60 303.83 L71.85 303.80 L72.10 303.81 L72.35 303.91 L72.60 303.95 L72.85 303.91 L73.10 303.89 L73.35 303.93 L73.60 303.96 L73.85 303.91 L74.10 303.88 L74.35 303.93 L74.60 303.98 L74.85 303.94 L75.10 304.02 L75.35 304.00 L75.60 304.04 L75.85 304.07 L76.10 304.07 L76.35 304.16 L76.60 304.15 L76.85 304.15 L77.10 304.17 L77.35 304.24 L77.60 304.32 L77.85 304.35 L78.10 304.35 L78.35 304.37 L78.60 304.39 L78.85 304.45 L79.10 304.50 L79.35 304.52 L79.60 304.45 L79.85 304.45 L80.10 304.43 L80.35 304.38 L80.60 304.43 L80.85 304.38 L81.10 304.42 L81.35 304.42 L81.60 304.41 L81.85 304.45 L82.10 304.49 L82.35 304.56 L82.60 304.62 L82.85 304.65 L83.10 304.59 L83.35 304.61 L83.60 304.60 L83.85 304.65 L84.10 304.63 L84.35 304.60 L84.60 304.52 L84.85 304.53 L85.10 304.54 L85.35 304.53 L85.60 304.48 L85.85 304.50 L86.10 304.46 L86.35 304.44 L86.60 304.46 L86.85 304.47 L87.10 304.50 L87.35 304.54 L87.60 304.54 L87.85 304.51 L88.10 304.47 L88.35 304.52 L88.60 304.63 L88.85 304.61 L89.10 304.61 L89.35 304.61 L89.60 304.68 L89.85 304.69 L90.10 304.75 L90.35 304.69 L90.60 304.66 L90.85 304.64 L91.10 304.65 L91.35 304.67 L91.60 304.68 L91.85 304.78 L92.10 304.79 L92.35 304.82 L92.60 304.90 L92.85 304.93 L93.10 304.94 L93.35 304.99 L93.60 304.96 L93.85 304.90 L94.10 304.98 L94.35 304.98 L94.60 305.00 L94.85 304.94 L95.10 304.99 L95.35 304.97 L95.60 305.01 L95.85 304.98 L96.10 305.06 L96.35 305.04 L96.60 305.01 L96.85 305.08 L97.10 305.05 L97.35 305.02 L97.60 305.04 L97.85 305.12 L98.10 305.07 L98.35 305.04 L98.60 305.10 L98.85 305.05 L99.10 305.06 L99.35 305.12 L99.60 305.17 L99.85 305.22 L100.10 305.16 L100.35 305.22 L100.60 305.20 L100.85 305.24 L101.10 305.23 L101.35 305.29 L101.60 305.27 L101.85 305.22 L102.10 305.17 L102.35 305.17 L102.60 305.11 L102.85 305.08 L103.10 305.15 L103.35 305.18 L103.60 305.24 L103.85 305.18 L104.10 305.19 L104.35 305.19 L104.60 305.14 L104.85 305.11 L105.10 305.20 L105.35 305.24 L105.60 305.24 L105.85 305.25 L106.10 305.31 L106.35 305.36 L106.60 305.36 L106.85 305.28 L107.10 305.33 L107.35 305.27 L107.60 305.22 L107.85 305.17 L108.10 305.19 L108.35 305.21 L108.60 305.21 L108.85 305.21 L109.10 305.16 L109.35 305.21 L109.60 305.22 L109.85 305.20 L110.10 305.26 L110.35 305.32 L110.60 305.37 L110.85 305.43 L111.10 305.33 L111.35 305.30 L111.60 305.29 L111.85 305.24 L112.10 305.28 L112.35 305.33 L112.60 305.26 L112.85 305.25 L113.10 305.32 L113.35 305.36 L113.60 305.33 L113.85 305.25 L114.10 305.23 L114.35 305.22 L114.60 305.25 L114.85 305.19 L115.10 305.15 L115.35 305.21 L115.60 305.12 L115.85 305.13 L116.10 305.05 L116.35 305.08 L116.60 305.05 L116.85 305.10 L117.10 305.03 L117.35 305.05 L117.60 304.97 L117.85 304.87 L118.10 304.77 L118.35 304.67 L118.60 304.62 L118.85 304.64 L119.10 304.55 L119.35 304.49 L119.60 304.31 L119.85 304.18 L120.10 304.03 L120.35 303.76 L120.60 303.52 L120.85 303.17 L121.10 302.67 L121.35 302.05 L121.60 301.10 L121.85 299.61 L122.10 297.49 L122.35 294.59 L122.60 290.88 L122.85 286.58 L123.10 282.48 L123.35 280.12 L123.60 280.85 L123.85 284.16 L124.10 288.61 L124.35 292.78 L124.60 296.13 L124.85 298.71 L125.10 300.49 L125.35 301.66 L125.60 302.46 L125.85 303.00 L126.10 303.45 L126.35 303.80 L126.60 304.11 L126.85 304.23 L127.10 304.33 L127.35 304.55 L127.60 304.64 L127.85 304.71 L128.10 304.86 L128.35 304.88 L128.60 304.99 L128.85 305.11 L129.10 305.16 L129.35 305.21 L129.60 305.17 L129.85 305.23 L130.10 305.28 L130.35 305.34 L130.60 305.36 L130.85 305.32 L131.10 305.31 L131.35 305.36 L131.60 305.32 L131.85 305.29 L132.10 305.29 L132.35 305.37 L132.60 305.40 L132.85 305.41 L133.10 305.50 L133.35 305.52 L133.60 305.49 L133.85 305.52 L134.10 305.58 L134.35 305.57 L134.60 305.56 L134.85 305.58 L135.10 305.66 L135.35 305.68 L135.60 305.62 L135.85 305.63 L136.10 305.60 L136.35 305.60 L136.60 305.64 L136.85 305.56 L137.10 305.57 L137.35 305.55 L137.60 305.58 L137.85 305.64 L138.10 305.63 L138.35 305.65 L138.60 305.62 L138.85 305.58 L139.10 305.59 L139.35 305.61 L139.60 305.57 L139.85 305.62 L140.10 305.63 L140.35 305.61 L140.60 305.58 L140.85 305.64 L141.10 305.70 L141.35 305.76 L141.60 305.71 L141.85 305.63 L142.10 305.66 L142.35 305.59 L142.60 305.65 L142.85 305.68 L143.10 305.65 L143.35 305.64 L143.60 305.67 L143.85 305.62 L144.10 305.61 L144.35 305.66 L144.60 305.69 L144.85 305.70 L145.10 305.63 L145.35 305.59 L145.60 305.57 L145.85 305.51 L146.10 305.56 L146.35 305.59 L146.60 305.66 L146.85 305.67 L147.10 305.73 L147.35 305.72 L147.60 305.71 L147.85 305.68 L148.10 305.67 L148.35 305.74 L148.60 305.72 L148.85 305.64 L149.10 305.62 L149.35 305.59 L149.60 305.62 L149.85 305.63 L150.10 305.63 L150.35 305.70 L150.60 305.74 L150.85 305.67 L151.10 305.60 L151.35 305.64 L151.60 305.66 L151.85 305.68 L152.10 305.68 L152.35 305.61 L152.60 305.62 L152.85 305.68 L153.10 305.69 L153.35 305.62 L153.60 305.57 L153.85 305.65 L154.10 305.66 L154.35 305.61 L154.60 305.65 L154.85 305.72 L155.10 305.77 L155.35 305.78 L155.60 305.81 L155.85 305.73 L156.10 305.72 L156.35 305.76 L156.60 305.72 L156.85 305.66 L157.10 305.72 L157.35 305.75 L157.60 305.66 L157.85 305.60 L158.10 305.62 L158.35 305.70 L158.60 305.71 L158.85 305.76 L159.10 305.69 L159.35 305.70 L159.60 305.65 L159.85 305.63 L160.10 305.59 L160.35 305.60 L160.60 305.54 L160.85 305.59 L161.10 305.62 L161.35 305.69 L161.60 305.73 L161.85 305.66 L162.10 305.72 L162.35 305.72 L162.60 305.78 L162.85 305.76 L163.10 305.69 L163.35 305.72 L163.60 305.67 L163.85 305.74 L164.10 305.74 L164.35 305.79 L164.60 305.77 L164.85 305.73 L165.10 305.75 L165.35 305.77 L165.60 305.75 L165.85 305.71 L166.10 305.69 L166.35 305.72 L166.60 305.68 L166.85 305.63 L167.10 305.63 L167.35 305.66 L167.60 305.60 L167.85 305.58 L168.10 305.67 L168.35 305.63 L168.60 305.68 L168.85 305.65 L169.10 305.60 L169.35 305.61 L169.60 305.67 L169.85 305.72 L170.10 305.64 L170.35 305.68 L170.60 305.70 L170.85 305.70 L171.10 305.72 L171.35 305.72 L171.60 305.66 L171.85 305.70 L172.10 305.64 L172.35 305.62 L172.60 305.68 L172.85 305.69 L173.10 305.69 L173.35 305.72 L173.60 305.72 L173.85 305.69 L174.10 305.70 L174.35 305.63 L174.60 305.61 L174.85 305.55 L175.10 305.65 L175.35 305.71 L175.60 305.73 L175.85 305.67 L176.10 305.73 L176.35 305.69 L176.60 305.73 L176.85 305.75 L177.10 305.75 L177.35 305.78 L177.60 305.73 L177.85 305.77 L178.10 305.77 L178.35 305.79 L178.60 305.83 L178.85 305.77 L179.10 305.74 L179.35 305.71 L179.60 305.64 L179.85 305.71 L180.10 305.73 L180.35 305.72 L180.60 305.72 L180.85 305.77 L181.10 305.69 L181.35 305.67 L181.60 305.70 L181.85 305.70 L182.10 305.70 L182.35 305.66 L182.60 305.62 L182.85 305.65 L183.10 305.63 L183.35 305.71 L183.60 305.76 L183.85 305.82 L184.10 305.77 L184.35 305.75 L184.60 305.68 L184.85 305.66 L185.10 305.60 L185.35 305.61 L185.60 305.69 L185.85 305.73 L186.10 305.70 L186.35 305.66 L186.60 305.73 L186.85 305.65 L187.10 305.71 L187.35 305.75 L187.60 305.68 L187.85 305.74 L188.10 305.75 L188.35 305.72 L188.60 305.70 L188.85 305.71 L189.10 305.71 L189.35 305.76 L189.60 305.80 L189.85 305.75 L190.10 305.66 L190.35 305.70 L190.60 305.72 L190.85 305.73 L191.10 305.65 L191.35 305.59 L191.60 305.65 L191.85 305.63 L192.10 305.63 L192.35 305.70 L192.60 305.64 L192.85 305.65 L193.10 305.58 L193.35 305.59 L193.60 305.62 L193.85 305.56 L194.10 305.59 L194.35 305.65 L194.60 305.67 L194.85 305.68 L195.10 305.70 L195.35 305.67 L195.60 305.60 L195.85 305.56 L196.10 305.49 L196.35 305.32 L196.60 305.04 L196.85 304.48 L197.10 303.69 L197.35 302.67 L197.60 301.93 L197.85 302.11 L198.10 302.98 L198.35 303.98 L198.60 304.57 L198.85 304.90 L199.10 305.12 L199.35 305.20 L199.60 305.36 L199.85 305.40 L200.10 305.43 L200.35 305.52 L200.60 305.55 L200.85 305.58 L201.10 305.58 L201.35 305.59 L201.60 305.66 L201.85 305.62 L202.10 305.63 L202.35 305.62 L202.60 305.57 L202.85 305.53 L203.10 305.54 L203.35 305.60 L203.60 305.59 L203.85 305.53 L204.10 305.61 L204.35 305.55 L204.60 305.62 L204.85 305.55 L205.10 305.58 L205.35 305.52 L205.60 305.50 L205.85 305.50 L206.10 305.54 L206.35 305.53 L206.60 305.52 L206.85 305.50 L207.10 305.50 L207.35 305.46 L207.60 305.52 L207.85 305.43 L208.10 305.33 L208.35 305.26 L208.60 305.12 L208.85 305.00 L209.10 304.75 L209.35 304.65 L209.60 304.64 L209.85 304.86 L210.10 305.01 L210.35 305.16 L210.60 305.25 L210.85 305.33 L211.10 305.35 L211.35 305.41 L211.60 305.42 L211.85 305.46 L212.10 305.43 L212.35 305.42 L212.60 305.43 L212.85 305.46 L213.10 305.47 L213.35 305.44 L213.60 305.36 L213.85 305.29 L214.10 305.22 L214.35 305.17 L214.60 305.12 L214.85 305.13 L215.10 305.08 L215.35 305.12 L215.60 305.02 L215.85 304.93 L216.10 304.81 L216.35 304.66 L216.60 304.57 L216.85 304.41 L217.10 304.14 L217.35 303.87 L217.60 303.47 L217.85 302.90 L218.10 302.20 L218.35 301.35 L218.60 300.32 L218.85 299.17 L219.10 298.13 L219.35 297.49 L219.60 297.29 L219.85 297.73 L220.10 298.54 L220.35 299.66 L220.60 300.79 L220.85 301.73 L221.10 302.52 L221.35 303.18 L221.60 303.65 L221.85 304.00 L222.10 304.25 L222.35 304.52 L222.60 304.70 L222.85 304.91 L223.10 305.08 L223.35 305.21 L223.60 305.32 L223.85 305.40 L224.10 305.35 L224.35 305.32 L224.60 305.42 L224.85 305.50 L225.10 305.52 L225.35 305.54 L225.60 305.54 L225.85 305.53 L226.10 305.48 L226.35 305.50 L226.60 305.48 L226.85 305.44 L227.10 305.52 L227.35 305.54 L227.60 305.60 L227.85 305.57 L228.10 305.59 L228.35 305.56 L228.60 305.61 L228.85 305.57 L229.10 305.60 L229.35 305.61 L229.60 305.58 L229.85 305.53 L230.10 305.54 L230.35 305.56 L230.60 305.61 L230.85 305.57 L231.10 305.53 L231.35 305.52 L231.60 305.58 L231.85 305.55 L232.10 305.58 L232.35 305.52 L232.60 305.48 L232.85 305.53 L233.10 305.55 L233.35 305.51 L233.60 305.52 L233.85 305.61 L234.10 305.60 L234.35 305.61 L234.60 305.61 L234.85 305.61 L235.10 305.55 L235.35 305.62 L235.60 305.64 L235.85 305.62 L236.10 305.59 L236.35 305.56 L236.60 305.64 L236.85 305.69 L237.10 305.67 L237.35 305.68 L237.60 305.69 L237.85 305.64 L238.10 305.57 L238.35 305.62 L238.60 305.57 L238.85 305.60 L239.10 305.53 L239.35 305.48 L239.60 305.46 L239.85 305.51 L240.10 305.55 L240.35 305.64 L240.60 305.67 L240.85 305.67 L241.10 305.60 L241.35 305.68 L241.60 305.67 L241.85 305.72 L242.10 305.65 L242.35 305.70 L242.60 305.69 L242.85 305.64 L243.10 305.63 L243.35 305.57 L243.60 305.60 L243.85 305.57 L244.10 305.61 L244.35 305.57 L244.60 305.61 L244.85 305.64 L245.10 305.67 L245.35 305.74 L245.60 305.70 L245.85 305.72 L246.10 305.70 L246.35 305.75 L246.60 305.78 L246.85 305.81 L247.10 305.80 L247.35 305.74 L247.60 305.79 L247.85 305.84 L248.10 305.88 L248.35 305.82 L248.60 305.85 L248.85 305.85 L249.10 305.87 L249.35 305.88 L249.60 305.84 L249.85 305.80 L250.10 305.82 L250.35 305.82 L250.60 305.80 L250.85 305.84 L251.10 305.74 L251.35 305.65 L251.60 305.65 L251.85 305.59 L252.10 305.65 L252.35 305.59 L252.60 305.65 L252.85 305.61 L253.10 305.56 L253.35 305.61 L253.60 305.65 L253.85 305.63 L254.10 305.65 L254.35 305.66 L254.60 305.72 L254.85 305.71 L255.10 305.71 L255.35 305.69 L255.60 305.67 L255.85 305.69 L256.10 305.63 L256.35 305.66 L256.60 305.72 L256.85 305.74 L257.10 305.73 L257.35 305.69 L257.60 305.62 L257.85 305.56 L258.10 305.58 L258.35 305.64 L258.60 305.69 L258.85 305.63 L259.10 305.67 L259.35 305.70 L259.60 305.69 L259.85 305.73 L260.10 305.66 L260.35 305.63 L260.60 305.62 L260.85 305.65 L261.10 305.63 L261.35 305.60 L261.60 305.65 L261.85 305.62 L262.10 305.60 L262.35 305.55 L262.60 305.55 L262.85 305.58 L263.10 305.55 L263.35 305.57 L263.60 305.57 L263.85 305.49 L264.10 305.56 L264.35 305.52 L264.60 305.52 L264.85 305.58 L265.10 305.52 L265.35 305.44 L265.60 305.40 L265.85 305.35 L266.10 305.41 L266.35 305.41 L266.60 305.33 L266.85 305.30 L267.10 305.30 L267.35 305.25 L267.60 305.22 L267.85 305.28 L268.10 305.25 L268.35 305.19 L268.60 305.19 L268.85 305.10 L269.10 305.07 L269.35 305.05 L269.60 304.94 L269.85 304.89 L270.10 304.78 L270.35 304.73 L270.60 304.63 L270.85 304.54 L271.10 304.37 L271.35 304.11 L271.60 303.82 L271.85 303.58 L272.10 303.31 L272.35 302.89 L272.60 302.49 L272.85 302.06 L273.10 301.65 L273.35 301.32 L273.60 300.99 L273.85 300.77 L274.10 300.68 L274.35 300.65 L274.60 300.82 L274.85 301.07 L275.10 301.42 L275.35 301.82 L275.60 302.26 L275.85 302.60 L276.10 303.03 L276.35 303.32 L276.60 303.61 L276.85 303.94 L277.10 304.24 L277.35 304.41 L277.60 304.65 L277.85 304.70 L278.10 304.89 L278.35 304.93 L278.60 304.95 L278.85 305.06 L279.10 305.07 L279.35 305.17 L279.60 305.14 L279.85 305.13 L280.10 305.17 L280.35 305.15 L280.60 305.20 L280.85 305.22 L281.10 305.30 L281.35 305.33 L281.60 305.43 L281.85 305.50 L282.10 305.45 L282.35 305.53 L282.60 305.59 L282.85 305.59 L283.10 305.59 L283.35 305.54 L283.60 305.52 L283.85 305.48 L284.10 305.45 L284.35 305.49 L284.60 305.48 L284.85 305.53 L285.10 305.55 L285.35 305.61 L285.60 305.54 L285.85 305.60 L286.10 305.60 L286.35 305.62 L286.60 305.58 L286.85 305.61 L287.10 305.60 L287.35 305.63 L287.60 305.64 L287.85 305.58 L288.10 305.56 L288.35 305.61 L288.60 305.53 L288.85 305.57 L289.10 305.58 L289.35 305.62 L289.60 305.59 L289.85 305.59 L290.10 305.59 L290.35 305.63 L290.60 305.57 L290.85 305.58 L291.10 305.55 L291.35 305.57 L291.60 305.54 L291.85 305.51 L292.10 305.48 L292.35 305.56 L292.60 305.55 L292.85 305.61 L293.10 305.64 L293.35 305.60 L293.60 305.61 L293.85 305.53 L294.10 305.60 L294.35 305.61 L294.60 305.54 L294.85 305.54 L295.10 305.53 L295.35 305.54 L295.60 305.48 L295.85 305.52 L296.10 305.48 L296.35 305.34 L296.60 305.30 L296.85 305.21 L297.10 304.98 L297.35 304.78 L297.60 304.59 L297.85 304.45 L298.10 304.33 L298.35 304.51 L298.60 304.68 L298.85 304.96 L299.10 305.17 L299.35 305.31 L299.60 305.47 L299.85 305.57 L300.10 305.68 L300.35 305.75 L300.60 305.75 L300.85 305.77 L301.10 305.78 L301.35 305.74 L301.60 305.73 L301.85 305.72 L302.10 305.66 L302.35 305.62 L302.60 305.68 L302.85 305.72 L303.10 305.74 L303.35 305.75 L303.60 305.74 L303.85 305.73 L304.10 305.74 L304.35 305.65 L304.60 305.64 L304.85 305.71 L305.10 305.65 L305.35 305.65 L305.60 305.58 L305.85 305.55 L306.10 305.61 L306.35 305.54 L306.60 305.60 L306.85 305.65 L307.10 305.70 L307.35 305.65 L307.60 305.71 L307.85 305.68 L308.10 305.66 L308.35 305.72 L308.60 305.71 L308.85 305.73 L309.10 305.65 L309.35 305.57 L309.60 305.54 L309.85 305.49 L310.10 305.55 L310.35 305.52 L310.60 305.60 L310.85 305.62 L311.10 305.57 L311.35 305.60 L311.60 305.57 L311.85 305.57 L312.10 305.50 L312.35 305.55 L312.60 305.59 L312.85 305.59 L313.10 305.60 L313.35 305.56 L313.60 305.49 L313.85 305.45 L314.10 305.48 L314.35 305.48 L314.60 305.40 L314.85 305.35 L315.10 305.33 L315.35 305.24 L315.60 305.15 L315.85 305.12 L316.10 305.04 L316.35 305.05 L316.60 304.91 L316.85 304.84 L317.10 304.73 L317.35 304.48 L317.60 304.21 L317.85 303.92 L318.10 303.47 L318.35 302.92 L318.60 302.42 L318.85 301.82 L319.10 301.49 L319.35 301.33 L319.60 301.50 L319.85 301.91 L320.10 302.49 L320.35 303.11 L320.60 303.64 L320.85 304.00 L321.10 304.42 L321.35 304.71 L321.60 304.90 L321.85 305.10 L322.10 305.13 L322.35 305.23 L322.60 305.33 L322.85 305.41 L323.10 305.46 L323.35 305.41 L323.60 305.43 L323.85 305.41 L324.10 305.45 L324.35 305.45 L324.60 305.46 L324.85 305.47 L325.10 305.50 L325.35 305.56 L325.60 305.53 L325.85 305.50 L326.10 305.46 L326.35 305.41 L326.60 305.48 L326.85 305.55 L327.10 305.49 L327.35 305.48 L327.60 305.54 L327.85 305.59 L328.10 305.65 L328.35 305.70 L328.60 305.63 L328.85 305.54 L329.10 305.49 L329.35 305.48 L329.60 305.39 L329.85 305.35 L330.10 305.34 L330.35 305.35 L330.60 305.27 L330.85 305.19 L331.10 305.13 L331.35 305.02 L331.60 304.89 L331.85 304.74 L332.10 304.65 L332.35 304.52 L332.60 304.20 L332.85 303.95 L333.10 303.67 L333.35 303.35 L333.60 303.04 L333.85 302.96 L334.10 302.96 L334.35 303.13 L334.60 303.54 L334.85 303.85 L335.10 304.24 L335.35 304.56 L335.60 304.71 L335.85 304.83 L336.10 305.00 L336.35 305.06 L336.60 305.17 L336.85 305.26 L337.10 305.27 L337.35 305.31 L337.60 305.30 L337.85 305.38 L338.10 305.42 L338.35 305.46 L338.60 305.48 L338.85 305.42 L339.10 305.48 L339.35 305.52 L339.60 305.51 L339.85 305.52 L340.10 305.50 L340.35 305.53 L340.60 305.51 L340.85 305.46 L341.10 305.45 L341.35 305.39 L341.60 305.30 L341.85 305.30 L342.10 305.34 L342.35 305.35 L342.60 305.27 L342.85 305.24 L343.10 305.21 L343.35 305.17 L343.60 305.10 L343.85 305.03 L344.10 304.98 L344.35 304.95 L344.60 304.84 L344.85 304.76 L345.10 304.65 L345.35 304.45 L345.60 304.27 L345.85 304.10 L346.10 303.94 L346.35 303.82 L346.60 303.67 L346.85 303.67 L347.10 303.64 L347.35 303.60 L347.60 303.64 L347.85 303.76 L348.10 303.79 L348.35 303.92 L348.60 304.12 L348.85 304.22 L349.10 304.41 L349.35 304.58 L349.60 304.66 L349.85 304.71 L350.10 304.86 L350.35 304.94 L350.60 305.00 L350.85 305.07 L351.10 305.17 L351.35 305.28 L351.60 305.38 L351.85 305.45 L352.10 305.42 L352.35 305.42 L352.60 305.36 L352.85 305.35 L353.10 305.36 L353.35 305.34 L353.60 305.37 L353.85 305.35 L354.10 305.41 L354.35 305.42 L354.60 305.41 L354.85 305.46 L355.10 305.46 L355.35 305.41 L355.60 305.49 L355.85 305.54 L356.10 305.61 L356.35 305.58 L356.60 305.55 L356.85 305.59 L357.10 305.54 L357.35 305.62 L357.60 305.65 L357.85 305.65 L358.10 305.58 L358.35 305.56 L358.60 305.56 L358.85 305.64 L359.10 305.59 L359.35 305.61 L359.60 305.55 L359.85 305.63 L360.10 305.67 L360.35 305.72 L360.60 305.74 L360.85 305.68 L361.10 305.64 L361.35 305.57 L361.60 305.59 L361.85 305.54 L362.10 305.51 L362.35 305.48 L362.60 305.57 L362.85 305.63 L363.10 305.60 L363.35 305.68 L363.60 305.62 L363.85 305.57 L364.10 305.57 L364.35 305.63 L364.60 305.57 L364.85 305.63 L365.10 305.64 L365.35 305.69 L365.60 305.66 L365.85 305.59 L366.10 305.54 L366.35 305.59 L366.60 305.60 L366.85 305.65 L367.10 305.61 L367.35 305.58 L367.60 305.55 L367.85 305.62 L368.10 305.66 L368.35 305.61 L368.60 305.65 L368.85 305.58 L369.10 305.59 L369.35 305.56 L369.60 305.62 L369.85 305.66 L370.10 305.69 L370.35 305.64 L370.60 305.57 L370.85 305.60 L371.10 305.64 L371.35 305.57 L371.60 305.63 L371.85 305.70 L372.10 305.67 L372.35 305.67 L372.60 305.69 L372.85 305.74 L373.10 305.75 L373.35 305.74 L373.60 305.76 L373.85 305.74 L374.10 305.65 L374.35 305.65 L374.60 305.63 L374.85 305.60 L375.10 305.58 L375.35 305.53 L375.60 305.51 L375.85 305.54 L376.10 305.59 L376.35 305.55 L376.60 305.57 L376.85 305.46 L377.10 305.40 L377.35 305.36 L377.60 305.31 L377.85 305.19 L378.10 305.03 L378.35 305.00 L378.60 304.96 L378.85 304.97 L379.10 304.99 L379.35 305.01 L379.60 305.13 L379.85 305.22 L380.10 305.36 L380.35 305.46 L380.60 305.54 L380.85 305.59 L381.10 305.64 L381.35 305.60 L381.60 305.69 L381.85 305.70 L382.10 305.71 L382.35 305.65 L382.60 305.59 L382.85 305.63 L383.10 305.67 L383.35 305.69 L383.60 305.65 L383.85 305.65 L384.10 305.69 L384.35 305.71 L384.60 305.76 L384.85 305.68 L385.10 305.72 L385.35 305.63 L385.60 305.65 L385.85 305.66 L386.10 305.59 L386.35 305.58 L386.60 305.62 L386.85 305.67 L387.10 305.60 L387.35 305.60 L387.60 305.65 L387.85 305.58 L388.10 305.64 L388.35 305.69 L388.60 305.64 L388.85 305.57 L389.10 305.50 L389.35 305.44 L389.60 305.40 L389.85 305.39 L390.10 305.40 L390.35 305.33 L390.60 305.30 L390.85 305.17 L391.10 305.08 L391.35 304.92 L391.60 304.87 L391.85 304.82 L392.10 304.86 L392.35 305.02 L392.60 305.08 L392.85 305.16 L393.10 305.26 L393.35 305.35 L393.60 305.34 L393.85 305.35 L394.10 305.43 L394.35 305.46 L394.60 305.43 L394.85 305.47 L395.10 305.48 L395.35 305.58 L395.60 305.53 L395.85 305.50 L396.10 305.46 L396.35 305.50 L396.60 305.60 L396.85 305.65 L397.10 305.60 L397.35 305.61 L397.60 305.60 L397.85 305.68 L398.10 305.71 L398.35 305.72 L398.60 305.68 L398.85 305.67 L399.10 305.68 L399.35 305.66 L399.60 305.67 L399.85 305.61 L400.10 305.61 L400.35 305.69 L400.60 305.68 L400.85 305.68 L401.10 305.72 L401.35 305.76 L401.60 305.78 L401.85 305.75 L402.10 305.77 L402.35 305.71 L402.60 305.73 L402.85 305.65 L403.10 305.61 L403.35 305.57 L403.60 305.56 L403.85 305.62 L404.10 305.55 L404.35 305.63 L404.60 305.58 L404.85 305.66 L405.10 305.73 L405.35 305.74 L405.60 305.78 L405.85 305.83 L406.10 305.80 L406.35 305.84 L406.60 305.74 L406.85 305.77 L407.10 305.78 L407.35 305.81 L407.60 305.73 L407.85 305.66 L408.10 305.67 L408.35 305.68 L408.60 305.71 L408.85 305.65 L409.10 305.66 L409.35 305.73 L409.60 305.68 L409.85 305.73 L410.10 305.78 L410.35 305.79 L410.60 305.75 L410.85 305.72 L411.10 305.70 L411.35 305.63 L411.60 305.55 L411.85 305.52 L412.10 305.47 L412.35 305.52 L412.60 305.48 L412.85 305.51 L413.10 305.47 L413.35 305.47 L413.60 305.45 L413.85 305.38 L414.10 305.28 L414.35 305.17 L414.60 305.15 L414.85 305.13 L415.10 305.23 L415.35 305.23 L415.60 305.33 L415.85 305.38 L416.10 305.43 L416.35 305.49 L416.60 305.60 L416.85 305.70 L417.10 305.68 L417.35 305.75 L417.60 305.81 L417.85 305.80 L418.10 305.79 L418.35 305.73 L418.60 305.77 L418.85 305.75 L419.10 305.78 L419.35 305.83 L419.60 305.83 L419.85 305.83 L420.10 305.82 L420.35 305.74 L420.60 305.73 L420.85 305.66 L421.10 305.61 L421.35 305.70 L421.60 305.68 L421.85 305.62 L422.10 305.62 L422.35 305.57 L422.60 305.60 L422.85 305.57 L423.10 305.55 L423.35 305.59 L423.60 305.67 L423.85 305.60 L424.10 305.65 L424.35 305.66 L424.60 305.67 L424.85 305.66 L425.10 305.59 L425.35 305.58 L425.60 305.60 L425.85 305.59 L426.10 305.68 L426.35 305.66 L426.60 305.72 L426.85 305.76 L427.10 305.79 L427.35 305.78 L427.60 305.76 L427.85 305.80 L428.10 305.73 L428.35 305.68 L428.60 305.61 L428.85 305.62 L429.10 305.63 L429.35 305.70 L429.60 305.77 L429.85 305.74 L430.10 305.73 L430.35 305.67 L430.60 305.71 L430.85 305.71 L431.10 305.66 L431.35 305.72 L431.60 305.65 L431.85 305.61 L432.10 305.62 L432.35 305.70 L432.60 305.65 L432.85 305.62 L433.10 305.68" fill="none" stroke="#ffa400" stroke-width="2.5" stroke-linejoin="round" stroke-linecap="round"/>
</g>
<g id="markers">
<path d="M179.2 48.6 h6.5 L182.4 55.2 z" fill="#000"/>
<path d="M249.2 77.3 h6.5 L252.5 83.7 z" fill="#000"/>
<path d="M306.9 67.8 h6.5 L310.1 74.4 z" fill="#000"/>
<path d="M338.9 76.8 h6.5 L342.2 83.2 z" fill="#000"/>
<path d="M346.2 73.2 h6.5 L349.5 79.8 z" fill="#000"/>
<path d="M388.1 79.8 h6.5 L391.3 86.2 z" fill="#000"/>
<path d="M179.2 101.8 h6.5 L182.4 108.4 z" fill="#000"/>
<path d="M248.8 115.1 h6.5 L252.0 121.5 z" fill="#000"/>
<path d="M306.8 110.6 h6.5 L310.0 117.0 z" fill="#000"/>
<path d="M338.9 116.2 h6.5 L342.2 122.6 z" fill="#000"/>
<path d="M345.2 116.2 h6.5 L348.5 122.6 z" fill="#000"/>
<path d="M388.1 116.1 h6.5 L391.3 122.5 z" fill="#000"/>
<path d="M179.2 140.3 h6.5 L182.5 146.9 z" fill="#000"/>
<path d="M248.8 150.7 h6.5 L252.0 157.1 z" fill="#000"/>
<path d="M306.8 145.5 h6.5 L310.0 151.9 z" fill="#000"/>
<path d="M338.1 149.4 h6.5 L341.4 155.8 z" fill="#000"/>
<path d="M344.9 149.4 h6.5 L348.2 155.8 z" fill="#000"/>
<path d="M387.9 151.8 h6.5 L391.2 158.2 z" fill="#000"/>
<path d="M179.2 180.6 h6.5 L182.4 187.0 z" fill="#000"/>
<path d="M248.8 187.4 h6.5 L252.0 193.8 z" fill="#000"/>
<path d="M306.8 187.4 h6.5 L310.0 193.8 z" fill="#000"/>
<path d="M341.4 191.2 h6.5 L344.7 197.6 z" fill="#000"/>
<path d="M346.9 191.2 h6.5 L350.2 197.6 z" fill="#000"/>
<path d="M389.1 190.8 h6.5 L392.4 197.4 z" fill="#000"/>
<path d="M179.2 246.8 h6.5 L182.4 253.4 z" fill="#000"/>
<path d="M306.8 251.8 h6.5 L310.0 258.4 z" fill="#000"/>
<path d="M389.8 249.4 h6.5 L393.0 256.1 z" fill="#000"/>
<path d="M125.1 138.4 L128.9 143.7 L125.1 148.9 L121.3 143.7 z" fill="#f6a97f"/>
<path d="M199.8 147.1 L203.6 152.1 L199.8 157.1 L196.0 152.1 z" fill="#f6a97f"/>
<path d="M221.0 144.6 L224.8 149.8 L221.0 154.9 L217.2 149.8 z" fill="#f6a97f"/>
<path d="M275.3 147.1 L279.1 152.1 L275.3 157.1 L271.5 152.1 z" fill="#f6a97f"/>
<path d="M320.5 147.1 L324.3 152.1 L320.5 157.1 L316.7 152.1 z" fill="#f6a97f"/>
<path d="M334.3 147.1 L338.1 152.1 L334.3 157.1 L330.5 152.1 z" fill="#f6a97f"/>
<path d="M124.9 178.2 L128.7 183.4 L124.9 188.7 L121.1 183.4 z" fill="#f6a97f"/>
<path d="M199.8 183.3 L203.6 188.6 L199.8 193.8 L196.0 188.6 z" fill="#f6a97f"/>
<path d="M221.0 183.3 L224.8 188.6 L221.0 193.8 L217.2 188.6 z" fill="#f6a97f"/>
<path d="M275.3 185.3 L279.1 190.6 L275.3 195.8 L271.5 190.6 z" fill="#f6a97f"/>
<path d="M320.7 183.3 L324.5 188.6 L320.7 193.8 L316.9 188.6 z" fill="#f6a97f"/>
<path d="M335.3 185.3 L339.1 190.6 L335.3 195.8 L331.5 190.6 z" fill="#f6a97f"/>
<path d="M124.9 201.6 L128.7 206.8 L124.9 212.1 L121.1 206.8 z" fill="#f6a97f"/>
<path d="M199.8 232.7 L203.6 237.8 L199.8 242.9 L196.0 237.8 z" fill="#f6a97f"/>
<path d="M221.0 235.7 L224.8 240.9 L221.0 246.2 L217.2 240.9 z" fill="#f6a97f"/>
<path d="M275.3 245.0 L279.1 250.1 L275.3 255.2 L271.5 250.1 z" fill="#f6a97f"/>
<path d="M320.8 231.9 L324.6 237.0 L320.8 242.1 L317.0 237.0 z" fill="#f6a97f"/>
<path d="M335.3 238.0 L339.1 243.1 L335.3 248.2 L331.5 243.1 z" fill="#f6a97f"/>
<path d="M382.3 246.5 L386.1 251.5 L382.3 256.5 L378.5 251.5 z" fill="#f6a97f"/>
<path d="M123.8 266.6 L127.6 271.6 L123.8 276.6 L120.0 271.6 z" fill="#f6a97f"/>
<path d="M200.3 288.4 L204.1 293.4 L200.3 298.5 L196.5 293.4 z" fill="#f6a97f"/>
<path d="M220.5 281.7 L224.3 286.6 L220.5 291.6 L216.7 286.6 z" fill="#f6a97f"/>
<path d="M275.0 281.7 L278.8 286.6 L275.0 291.6 L271.2 286.6 z" fill="#f6a97f"/>
<path d="M320.7 281.7 L324.5 286.6 L320.7 291.6 L316.9 286.6 z" fill="#f6a97f"/>
<path d="M334.2 278.4 L338.0 283.6 L334.2 288.9 L330.4 283.6 z" fill="#f6a97f"/>
<path d="M348.0 278.4 L351.8 283.6 L348.0 288.9 L344.2 283.6 z" fill="#f6a97f"/>
<path d="M379.3 291.0 L383.1 296.0 L379.3 301.0 L375.5 296.0 z" fill="#f6a97f"/>
</g>
<g id="frame" fill="#000">
<rect x="64.1" y="7.0" width="3.3" height="308.4"/>
<rect x="64.1" y="6.9" width="481.4" height="3.1"/>
<rect x="64.1" y="312.0" width="373.5" height="3.4"/>
<rect x="434.4" y="6.9" width="3.2" height="308.5"/>
<rect x="436" y="313.6" width="109.4" height="2.2"/>
<rect x="543.0" y="6.9" width="2.5" height="308.9"/>
<rect x="315.6" y="8" width="1.7" height="40.6"/>
<rect x="315.6" y="46.6" width="120" height="1.8"/>
<rect x="55.8" y="29.5" width="9" height="3.0"/>
<rect x="55.8" y="75.3" width="9" height="3.0"/>
<rect x="55.8" y="121.2" width="9" height="3.0"/>
<rect x="55.8" y="167.1" width="9" height="3.0"/>
<rect x="55.8" y="212.9" width="9" height="3.0"/>
<rect x="55.8" y="258.8" width="9" height="3.0"/>
<rect x="55.8" y="304.6" width="9" height="3.0"/>
<rect x="95.3" y="315" width="3" height="8.5"/>
<rect x="151.3" y="315" width="3" height="8.5"/>
<rect x="207.4" y="315" width="3" height="8.5"/>
<rect x="263.4" y="315" width="3" height="8.5"/>
<rect x="319.5" y="315" width="3" height="8.5"/>
<rect x="375.5" y="315" width="3" height="8.5"/>
<rect x="431.5" y="315" width="3" height="8.5"/>
</g>
<g id="ticklabels" class="tk" font-size="14">
<text x="8.6" y="38.4" textLength="37.2" lengthAdjust="spacingAndGlyphs">30x10</text>
<text x="46.4" y="29.1" font-size="9.7">3</text>
<text x="36.9" y="82.2" textLength="14.4" lengthAdjust="spacingAndGlyphs">25</text>
<text x="36.9" y="128.1" textLength="14.4" lengthAdjust="spacingAndGlyphs">20</text>
<text x="36.9" y="174.0" textLength="14.4" lengthAdjust="spacingAndGlyphs">15</text>
<text x="36.9" y="219.8" textLength="14.4" lengthAdjust="spacingAndGlyphs">10</text>
<text x="44.1" y="265.6" textLength="7.2" lengthAdjust="spacingAndGlyphs">5</text>
<text x="44.1" y="311.5" textLength="7.2" lengthAdjust="spacingAndGlyphs">0</text>
<text x="89.7" y="342.4" textLength="14.3" lengthAdjust="spacingAndGlyphs">10</text>
<text x="145.7" y="342.4" textLength="14.3" lengthAdjust="spacingAndGlyphs">20</text>
<text x="201.8" y="342.4" textLength="14.3" lengthAdjust="spacingAndGlyphs">30</text>
<text x="257.8" y="342.4" textLength="14.3" lengthAdjust="spacingAndGlyphs">40</text>
<text x="313.9" y="342.4" textLength="14.3" lengthAdjust="spacingAndGlyphs">50</text>
<text x="369.9" y="342.4" textLength="14.3" lengthAdjust="spacingAndGlyphs">60</text>
<text x="425.9" y="342.4" textLength="14.3" lengthAdjust="spacingAndGlyphs">70</text>
<text x="215.6" y="355.5" textLength="42.8" lengthAdjust="spacingAndGlyphs">2Theta</text>
<text transform="translate(16.8 188.1) rotate(-90)" textLength="53.4" lengthAdjust="spacingAndGlyphs">Intensity</text>
</g>
<g id="peaklabels" font-size="9.2" stroke="#000" stroke-width="0.15">
<text x="158.0" y="63.2" textLength="20.6" lengthAdjust="spacingAndGlyphs">(101)</text>
<text x="230.7" y="84.6" textLength="20.8" lengthAdjust="spacingAndGlyphs">(004)</text>
<text x="287.5" y="75.6" textLength="20.5" lengthAdjust="spacingAndGlyphs">(200)</text>
<text x="321.8" y="85.5" textLength="19.0" lengthAdjust="spacingAndGlyphs">(105)</text>
<text x="353.5" y="82.1" textLength="20.8" lengthAdjust="spacingAndGlyphs">(211)</text>
<text x="394.0" y="83.7" textLength="19.6" lengthAdjust="spacingAndGlyphs">(204)</text>
<text x="99.4" y="285.6" textLength="20.9" lengthAdjust="spacingAndGlyphs">(001)</text>
<text x="176.0" y="297.0" textLength="21.0" lengthAdjust="spacingAndGlyphs">(100)</text>
<text x="222.2" y="296.5" textLength="20.1" lengthAdjust="spacingAndGlyphs">(101)</text>
<text x="252.8" y="297.0" textLength="20.1" lengthAdjust="spacingAndGlyphs">(102)</text>
<text x="298.0" y="299.0" textLength="20.0" lengthAdjust="spacingAndGlyphs">(110)</text>
<text x="323.0" y="297.0" textLength="20.2" lengthAdjust="spacingAndGlyphs">(111)</text>
<text x="347.7" y="298.5" textLength="20.6" lengthAdjust="spacingAndGlyphs">(103)</text>
</g>
<g id="legend1">
<path d="M330.2 16.8 h8.6 l-4.3 9.7 z" fill="#000"/>
<path d="M334.7 31.3 l4.2 6.2 l-4.2 6.2 l-4.2 -6.2 z" fill="#f8a97d"/>
<g transform="translate(349.6 24.4) scale(1.130 1)"><text class="hv" font-size="10.9" textLength="60.9" lengthAdjust="spacing">TiO<tspan font-size="8.2">2</tspan> Peaks</text></g>
<g transform="translate(350.4 41.4) scale(1.130 1)"><text class="hv" font-size="10.9" textLength="62.5" lengthAdjust="spacing">SnS<tspan font-size="8.2">2</tspan> Peaks</text></g>
</g>
<g id="legend2">
<g transform="translate(459.2 22.4) scale(1.130 1)"><text class="hv" font-size="10.9" textLength="55.0" lengthAdjust="spacing">SnS<tspan font-size="7.5">2</tspan>/TiO<tspan font-size="7.5">2</tspan></text></g>
<rect x="459.2" y="23.9" width="62.4" height="1.1" fill="#000"/>
<g transform="translate(468.6 40.9) scale(1.130 1)"><text class="hv" font-size="10.9" textLength="38.6" lengthAdjust="spacing">%SnS<tspan font-size="7.5">2</tspan></text></g>
<rect x="468.5" y="42.6" width="44" height="1.1" fill="#000"/>
<rect x="441.3" y="90.0" width="23.5" height="4.9" fill="#000000"/>
<rect x="441.3" y="124.8" width="23.5" height="4.9" fill="#14e7ea"/>
<rect x="441.3" y="160.6" width="23.5" height="4.9" fill="#0a0ad2"/>
<rect x="441.3" y="200.2" width="23.5" height="4.9" fill="#0fd23c"/>
<rect x="441.3" y="258.6" width="23.5" height="4.9" fill="#6e0ad6"/>
<rect x="441.3" y="302.6" width="23.5" height="4.9" fill="#ff9f55"/>
<g transform="translate(472.7 96.5) scale(1.200 1)"><text class="hv" font-size="12.0" textLength="44.9" lengthAdjust="spacing">0 (TiO<tspan font-size="9.0">2</tspan>)</text></g>
<g transform="translate(472.6 131.3) scale(1.200 1)"><text class="hv" font-size="12.0" textLength="6.8" lengthAdjust="spacing">9</text></g>
<g transform="translate(469.8 167.2) scale(1.200 1)"><text class="hv" font-size="12.0" textLength="13.8" lengthAdjust="spacing">20</text></g>
<g transform="translate(470.4 207.4) scale(1.200 1)"><text class="hv" font-size="12.0" textLength="13.8" lengthAdjust="spacing">33</text></g>
<g transform="translate(469.8 266.2) scale(1.200 1)"><text class="hv" font-size="12.0" textLength="14.0" lengthAdjust="spacing">75</text></g>
<g transform="translate(467.8 309.4) scale(1.200 1)"><text class="hv" font-size="12.0" textLength="60.3" lengthAdjust="spacing">100 (SnS<tspan font-size="9.0">2</tspan>)</text></g>
</g>
</svg></body></html>
